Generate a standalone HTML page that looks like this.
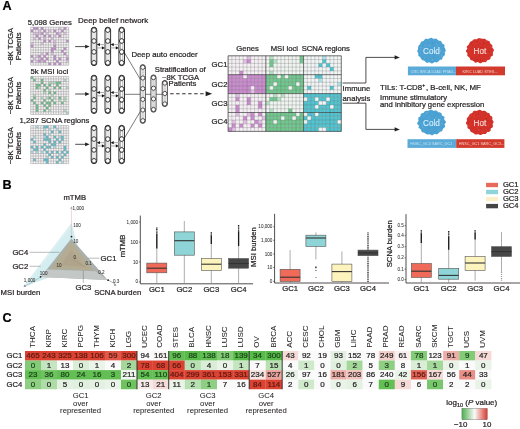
<!DOCTYPE html>
<html><head><meta charset="utf-8"><style>
html,body{margin:0;padding:0;background:#fff;}
svg{display:block;font-family:"Liberation Sans", Arial, Helvetica, sans-serif;}
</style></head><body>
<svg width="520" height="429" viewBox="0 0 520 429">
<rect width="520" height="429" fill="#fff"/>
<text x="2.40" y="9.90" font-size="12.6" text-anchor="start" fill="#000" font-weight="bold" stroke="#000" stroke-width="0.22" >A</text>
<rect x="30.7" y="27.2" width="38" height="38" fill="#f8f7f7"/>
<rect x="30.70" y="29.73" width="2.53" height="2.53" fill="#bf88ca"/>
<rect x="33.23" y="32.27" width="2.53" height="2.53" fill="#dcc0e2"/>
<rect x="33.23" y="27.20" width="2.53" height="2.53" fill="#bf88ca"/>
<rect x="38.30" y="29.73" width="2.53" height="2.53" fill="#dcc0e2"/>
<rect x="35.77" y="27.20" width="2.53" height="2.53" fill="#bf88ca"/>
<rect x="40.83" y="32.27" width="2.53" height="2.53" fill="#bf88ca"/>
<rect x="35.77" y="32.27" width="2.53" height="2.53" fill="#dcc0e2"/>
<rect x="40.83" y="27.20" width="2.53" height="2.53" fill="#bf88ca"/>
<rect x="45.90" y="32.27" width="2.53" height="2.53" fill="#dcc0e2"/>
<rect x="43.37" y="29.73" width="2.53" height="2.53" fill="#bf88ca"/>
<rect x="48.43" y="34.80" width="2.53" height="2.53" fill="#bf88ca"/>
<rect x="43.37" y="34.80" width="2.53" height="2.53" fill="#bf88ca"/>
<rect x="48.43" y="29.73" width="2.53" height="2.53" fill="#dcc0e2"/>
<rect x="53.50" y="29.73" width="2.53" height="2.53" fill="#bf88ca"/>
<rect x="56.03" y="32.27" width="2.53" height="2.53" fill="#bf88ca"/>
<rect x="58.57" y="34.80" width="2.53" height="2.53" fill="#bf88ca"/>
<rect x="61.10" y="29.73" width="2.53" height="2.53" fill="#bf88ca"/>
<rect x="58.57" y="27.20" width="2.53" height="2.53" fill="#dcc0e2"/>
<rect x="63.63" y="32.27" width="2.53" height="2.53" fill="#dcc0e2"/>
<rect x="58.57" y="32.27" width="2.53" height="2.53" fill="#dcc0e2"/>
<rect x="63.63" y="27.20" width="2.53" height="2.53" fill="#bf88ca"/>
<rect x="35.77" y="34.80" width="2.53" height="2.53" fill="#bf88ca"/>
<rect x="38.30" y="37.33" width="2.53" height="2.53" fill="#bf88ca"/>
<rect x="33.23" y="37.33" width="2.53" height="2.53" fill="#dcc0e2"/>
<rect x="38.30" y="32.27" width="2.53" height="2.53" fill="#dcc0e2"/>
<rect x="43.37" y="37.33" width="2.53" height="2.53" fill="#dcc0e2"/>
<rect x="43.37" y="39.87" width="2.53" height="2.53" fill="#bf88ca"/>
<rect x="50.97" y="37.33" width="2.53" height="2.53" fill="#dcc0e2"/>
<rect x="53.50" y="39.87" width="2.53" height="2.53" fill="#dcc0e2"/>
<rect x="48.43" y="39.87" width="2.53" height="2.53" fill="#bf88ca"/>
<rect x="53.50" y="34.80" width="2.53" height="2.53" fill="#dcc0e2"/>
<rect x="66.17" y="39.87" width="2.53" height="2.53" fill="#bf88ca"/>
<rect x="30.70" y="42.40" width="2.53" height="2.53" fill="#dcc0e2"/>
<rect x="30.70" y="44.93" width="2.53" height="2.53" fill="#bf88ca"/>
<rect x="40.83" y="42.40" width="2.53" height="2.53" fill="#dcc0e2"/>
<rect x="50.97" y="47.47" width="2.53" height="2.53" fill="#bf88ca"/>
<rect x="53.50" y="47.47" width="2.53" height="2.53" fill="#bf88ca"/>
<rect x="53.50" y="42.40" width="2.53" height="2.53" fill="#dcc0e2"/>
<rect x="53.50" y="44.93" width="2.53" height="2.53" fill="#bf88ca"/>
<rect x="63.63" y="47.47" width="2.53" height="2.53" fill="#bf88ca"/>
<rect x="35.77" y="55.07" width="2.53" height="2.53" fill="#dcc0e2"/>
<rect x="38.30" y="57.60" width="2.53" height="2.53" fill="#dcc0e2"/>
<rect x="40.83" y="60.13" width="2.53" height="2.53" fill="#dcc0e2"/>
<rect x="43.37" y="55.07" width="2.53" height="2.53" fill="#bf88ca"/>
<rect x="40.83" y="52.53" width="2.53" height="2.53" fill="#dcc0e2"/>
<rect x="45.90" y="57.60" width="2.53" height="2.53" fill="#bf88ca"/>
<rect x="40.83" y="57.60" width="2.53" height="2.53" fill="#bf88ca"/>
<rect x="45.90" y="52.53" width="2.53" height="2.53" fill="#bf88ca"/>
<rect x="50.97" y="50.00" width="2.53" height="2.53" fill="#bf88ca"/>
<rect x="50.97" y="52.53" width="2.53" height="2.53" fill="#dcc0e2"/>
<rect x="53.50" y="55.07" width="2.53" height="2.53" fill="#bf88ca"/>
<rect x="53.50" y="57.60" width="2.53" height="2.53" fill="#bf88ca"/>
<rect x="61.10" y="50.00" width="2.53" height="2.53" fill="#bf88ca"/>
<rect x="63.63" y="52.53" width="2.53" height="2.53" fill="#bf88ca"/>
<rect x="66.17" y="55.07" width="2.53" height="2.53" fill="#dcc0e2"/>
<rect x="33.23" y="57.60" width="2.53" height="2.53" fill="#dcc0e2"/>
<rect x="30.70" y="55.07" width="2.53" height="2.53" fill="#bf88ca"/>
<rect x="35.77" y="60.13" width="2.53" height="2.53" fill="#dcc0e2"/>
<rect x="30.70" y="60.13" width="2.53" height="2.53" fill="#bf88ca"/>
<rect x="38.30" y="55.07" width="2.53" height="2.53" fill="#bf88ca"/>
<rect x="43.37" y="60.13" width="2.53" height="2.53" fill="#bf88ca"/>
<rect x="38.30" y="60.13" width="2.53" height="2.53" fill="#bf88ca"/>
<rect x="48.43" y="62.67" width="2.53" height="2.53" fill="#bf88ca"/>
<rect x="56.03" y="60.13" width="2.53" height="2.53" fill="#bf88ca"/>
<rect x="58.57" y="62.67" width="2.53" height="2.53" fill="#bf88ca"/>
<rect x="53.50" y="62.67" width="2.53" height="2.53" fill="#bf88ca"/>
<rect x="58.57" y="57.60" width="2.53" height="2.53" fill="#bf88ca"/>
<rect x="66.17" y="57.60" width="2.53" height="2.53" fill="#bf88ca"/>
<rect x="66.17" y="60.13" width="2.53" height="2.53" fill="#dcc0e2"/>
<path d="M30.70 27.2V65.2 M30.7 27.20H68.7 M33.23 27.2V65.2 M30.7 29.73H68.7 M35.77 27.2V65.2 M30.7 32.27H68.7 M38.30 27.2V65.2 M30.7 34.80H68.7 M40.83 27.2V65.2 M30.7 37.33H68.7 M43.37 27.2V65.2 M30.7 39.87H68.7 M45.90 27.2V65.2 M30.7 42.40H68.7 M48.43 27.2V65.2 M30.7 44.93H68.7 M50.97 27.2V65.2 M30.7 47.47H68.7 M53.50 27.2V65.2 M30.7 50.00H68.7 M56.03 27.2V65.2 M30.7 52.53H68.7 M58.57 27.2V65.2 M30.7 55.07H68.7 M61.10 27.2V65.2 M30.7 57.60H68.7 M63.63 27.2V65.2 M30.7 60.13H68.7 M66.17 27.2V65.2 M30.7 62.67H68.7 M68.70 27.2V65.2 M30.7 65.20H68.7" stroke="#a09ca0" stroke-width="0.55" fill="none"/>
<rect x="30.7" y="76.4" width="38" height="38" fill="#f8f7f7"/>
<rect x="30.70" y="76.40" width="2.53" height="2.53" fill="#64be82"/>
<rect x="33.23" y="78.93" width="2.53" height="2.53" fill="#64be82"/>
<rect x="40.83" y="78.93" width="2.53" height="2.53" fill="#64be82"/>
<rect x="40.83" y="81.47" width="2.53" height="2.53" fill="#64be82"/>
<rect x="48.43" y="81.47" width="2.53" height="2.53" fill="#b0dec0"/>
<rect x="50.97" y="81.47" width="2.53" height="2.53" fill="#b0dec0"/>
<rect x="56.03" y="81.47" width="2.53" height="2.53" fill="#64be82"/>
<rect x="58.57" y="81.47" width="2.53" height="2.53" fill="#64be82"/>
<rect x="63.63" y="78.93" width="2.53" height="2.53" fill="#b0dec0"/>
<rect x="35.77" y="84.00" width="2.53" height="2.53" fill="#64be82"/>
<rect x="35.77" y="86.53" width="2.53" height="2.53" fill="#64be82"/>
<rect x="38.30" y="84.00" width="2.53" height="2.53" fill="#64be82"/>
<rect x="38.30" y="86.53" width="2.53" height="2.53" fill="#b0dec0"/>
<rect x="45.90" y="86.53" width="2.53" height="2.53" fill="#64be82"/>
<rect x="43.37" y="84.00" width="2.53" height="2.53" fill="#64be82"/>
<rect x="48.43" y="89.07" width="2.53" height="2.53" fill="#b0dec0"/>
<rect x="43.37" y="89.07" width="2.53" height="2.53" fill="#64be82"/>
<rect x="48.43" y="84.00" width="2.53" height="2.53" fill="#64be82"/>
<rect x="56.03" y="84.00" width="2.53" height="2.53" fill="#64be82"/>
<rect x="53.50" y="81.47" width="2.53" height="2.53" fill="#b0dec0"/>
<rect x="58.57" y="86.53" width="2.53" height="2.53" fill="#64be82"/>
<rect x="53.50" y="86.53" width="2.53" height="2.53" fill="#64be82"/>
<rect x="66.17" y="86.53" width="2.53" height="2.53" fill="#b0dec0"/>
<rect x="33.23" y="94.13" width="2.53" height="2.53" fill="#b0dec0"/>
<rect x="33.23" y="96.67" width="2.53" height="2.53" fill="#64be82"/>
<rect x="43.37" y="91.60" width="2.53" height="2.53" fill="#b0dec0"/>
<rect x="50.97" y="94.13" width="2.53" height="2.53" fill="#b0dec0"/>
<rect x="48.43" y="91.60" width="2.53" height="2.53" fill="#64be82"/>
<rect x="53.50" y="96.67" width="2.53" height="2.53" fill="#b0dec0"/>
<rect x="48.43" y="96.67" width="2.53" height="2.53" fill="#64be82"/>
<rect x="53.50" y="91.60" width="2.53" height="2.53" fill="#64be82"/>
<rect x="58.57" y="96.67" width="2.53" height="2.53" fill="#64be82"/>
<rect x="58.57" y="99.20" width="2.53" height="2.53" fill="#b0dec0"/>
<rect x="63.63" y="96.67" width="2.53" height="2.53" fill="#b0dec0"/>
<rect x="63.63" y="99.20" width="2.53" height="2.53" fill="#b0dec0"/>
<rect x="30.70" y="99.20" width="2.53" height="2.53" fill="#64be82"/>
<rect x="33.23" y="101.73" width="2.53" height="2.53" fill="#64be82"/>
<rect x="35.77" y="104.27" width="2.53" height="2.53" fill="#64be82"/>
<rect x="43.37" y="99.20" width="2.53" height="2.53" fill="#64be82"/>
<rect x="40.83" y="96.67" width="2.53" height="2.53" fill="#b0dec0"/>
<rect x="45.90" y="101.73" width="2.53" height="2.53" fill="#64be82"/>
<rect x="40.83" y="101.73" width="2.53" height="2.53" fill="#64be82"/>
<rect x="45.90" y="96.67" width="2.53" height="2.53" fill="#b0dec0"/>
<rect x="50.97" y="99.20" width="2.53" height="2.53" fill="#64be82"/>
<rect x="53.50" y="101.73" width="2.53" height="2.53" fill="#64be82"/>
<rect x="48.43" y="101.73" width="2.53" height="2.53" fill="#64be82"/>
<rect x="61.10" y="101.73" width="2.53" height="2.53" fill="#64be82"/>
<rect x="35.77" y="106.80" width="2.53" height="2.53" fill="#64be82"/>
<rect x="35.77" y="109.33" width="2.53" height="2.53" fill="#64be82"/>
<rect x="45.90" y="106.80" width="2.53" height="2.53" fill="#64be82"/>
<rect x="43.37" y="104.27" width="2.53" height="2.53" fill="#64be82"/>
<rect x="48.43" y="109.33" width="2.53" height="2.53" fill="#b0dec0"/>
<rect x="43.37" y="109.33" width="2.53" height="2.53" fill="#64be82"/>
<rect x="48.43" y="104.27" width="2.53" height="2.53" fill="#64be82"/>
<rect x="66.17" y="111.87" width="2.53" height="2.53" fill="#b0dec0"/>
<rect x="63.63" y="109.33" width="2.53" height="2.53" fill="#b0dec0"/>
<path d="M30.70 76.4V114.4 M30.7 76.40H68.7 M33.23 76.4V114.4 M30.7 78.93H68.7 M35.77 76.4V114.4 M30.7 81.47H68.7 M38.30 76.4V114.4 M30.7 84.00H68.7 M40.83 76.4V114.4 M30.7 86.53H68.7 M43.37 76.4V114.4 M30.7 89.07H68.7 M45.90 76.4V114.4 M30.7 91.60H68.7 M48.43 76.4V114.4 M30.7 94.13H68.7 M50.97 76.4V114.4 M30.7 96.67H68.7 M53.50 76.4V114.4 M30.7 99.20H68.7 M56.03 76.4V114.4 M30.7 101.73H68.7 M58.57 76.4V114.4 M30.7 104.27H68.7 M61.10 76.4V114.4 M30.7 106.80H68.7 M63.63 76.4V114.4 M30.7 109.33H68.7 M66.17 76.4V114.4 M30.7 111.87H68.7 M68.70 76.4V114.4 M30.7 114.40H68.7" stroke="#a09ca0" stroke-width="0.55" fill="none"/>
<rect x="30.7" y="125.6" width="38" height="38" fill="#f8f7f7"/>
<rect x="35.77" y="125.60" width="2.53" height="2.53" fill="#aadfe4"/>
<rect x="43.37" y="125.60" width="2.53" height="2.53" fill="#54bfcb"/>
<rect x="43.37" y="128.13" width="2.53" height="2.53" fill="#aadfe4"/>
<rect x="45.90" y="125.60" width="2.53" height="2.53" fill="#54bfcb"/>
<rect x="48.43" y="128.13" width="2.53" height="2.53" fill="#aadfe4"/>
<rect x="50.97" y="130.67" width="2.53" height="2.53" fill="#54bfcb"/>
<rect x="53.50" y="125.60" width="2.53" height="2.53" fill="#54bfcb"/>
<rect x="56.03" y="128.13" width="2.53" height="2.53" fill="#aadfe4"/>
<rect x="58.57" y="130.67" width="2.53" height="2.53" fill="#54bfcb"/>
<rect x="30.70" y="138.27" width="2.53" height="2.53" fill="#54bfcb"/>
<rect x="33.23" y="140.80" width="2.53" height="2.53" fill="#54bfcb"/>
<rect x="33.23" y="135.73" width="2.53" height="2.53" fill="#aadfe4"/>
<rect x="43.37" y="135.73" width="2.53" height="2.53" fill="#aadfe4"/>
<rect x="45.90" y="138.27" width="2.53" height="2.53" fill="#54bfcb"/>
<rect x="48.43" y="140.80" width="2.53" height="2.53" fill="#54bfcb"/>
<rect x="45.90" y="135.73" width="2.53" height="2.53" fill="#54bfcb"/>
<rect x="43.37" y="133.20" width="2.53" height="2.53" fill="#54bfcb"/>
<rect x="48.43" y="138.27" width="2.53" height="2.53" fill="#54bfcb"/>
<rect x="43.37" y="138.27" width="2.53" height="2.53" fill="#54bfcb"/>
<rect x="48.43" y="133.20" width="2.53" height="2.53" fill="#aadfe4"/>
<rect x="56.03" y="138.27" width="2.53" height="2.53" fill="#54bfcb"/>
<rect x="53.50" y="135.73" width="2.53" height="2.53" fill="#54bfcb"/>
<rect x="58.57" y="140.80" width="2.53" height="2.53" fill="#54bfcb"/>
<rect x="53.50" y="140.80" width="2.53" height="2.53" fill="#54bfcb"/>
<rect x="58.57" y="135.73" width="2.53" height="2.53" fill="#aadfe4"/>
<rect x="61.10" y="135.73" width="2.53" height="2.53" fill="#54bfcb"/>
<rect x="61.10" y="138.27" width="2.53" height="2.53" fill="#54bfcb"/>
<rect x="35.77" y="145.87" width="2.53" height="2.53" fill="#54bfcb"/>
<rect x="35.77" y="148.40" width="2.53" height="2.53" fill="#54bfcb"/>
<rect x="43.37" y="143.33" width="2.53" height="2.53" fill="#54bfcb"/>
<rect x="50.97" y="143.33" width="2.53" height="2.53" fill="#54bfcb"/>
<rect x="53.50" y="145.87" width="2.53" height="2.53" fill="#aadfe4"/>
<rect x="48.43" y="145.87" width="2.53" height="2.53" fill="#54bfcb"/>
<rect x="53.50" y="143.33" width="2.53" height="2.53" fill="#54bfcb"/>
<rect x="63.63" y="145.87" width="2.53" height="2.53" fill="#54bfcb"/>
<rect x="33.23" y="148.40" width="2.53" height="2.53" fill="#54bfcb"/>
<rect x="30.70" y="145.87" width="2.53" height="2.53" fill="#54bfcb"/>
<rect x="35.77" y="150.93" width="2.53" height="2.53" fill="#aadfe4"/>
<rect x="30.70" y="150.93" width="2.53" height="2.53" fill="#aadfe4"/>
<rect x="43.37" y="148.40" width="2.53" height="2.53" fill="#54bfcb"/>
<rect x="40.83" y="145.87" width="2.53" height="2.53" fill="#54bfcb"/>
<rect x="45.90" y="150.93" width="2.53" height="2.53" fill="#54bfcb"/>
<rect x="40.83" y="150.93" width="2.53" height="2.53" fill="#aadfe4"/>
<rect x="45.90" y="145.87" width="2.53" height="2.53" fill="#54bfcb"/>
<rect x="48.43" y="153.47" width="2.53" height="2.53" fill="#54bfcb"/>
<rect x="50.97" y="156.00" width="2.53" height="2.53" fill="#54bfcb"/>
<rect x="45.90" y="156.00" width="2.53" height="2.53" fill="#aadfe4"/>
<rect x="50.97" y="150.93" width="2.53" height="2.53" fill="#54bfcb"/>
<rect x="58.57" y="153.47" width="2.53" height="2.53" fill="#aadfe4"/>
<rect x="56.03" y="150.93" width="2.53" height="2.53" fill="#54bfcb"/>
<rect x="61.10" y="156.00" width="2.53" height="2.53" fill="#54bfcb"/>
<rect x="56.03" y="156.00" width="2.53" height="2.53" fill="#54bfcb"/>
<rect x="61.10" y="150.93" width="2.53" height="2.53" fill="#54bfcb"/>
<rect x="66.17" y="150.93" width="2.53" height="2.53" fill="#54bfcb"/>
<rect x="63.63" y="148.40" width="2.53" height="2.53" fill="#54bfcb"/>
<rect x="63.63" y="153.47" width="2.53" height="2.53" fill="#54bfcb"/>
<rect x="33.23" y="158.53" width="2.53" height="2.53" fill="#54bfcb"/>
<rect x="43.37" y="158.53" width="2.53" height="2.53" fill="#54bfcb"/>
<rect x="45.90" y="161.07" width="2.53" height="2.53" fill="#54bfcb"/>
<rect x="45.90" y="158.53" width="2.53" height="2.53" fill="#54bfcb"/>
<rect x="58.57" y="158.53" width="2.53" height="2.53" fill="#54bfcb"/>
<rect x="61.10" y="161.07" width="2.53" height="2.53" fill="#aadfe4"/>
<rect x="56.03" y="161.07" width="2.53" height="2.53" fill="#54bfcb"/>
<path d="M30.70 125.6V163.6 M30.7 125.60H68.7 M33.23 125.6V163.6 M30.7 128.13H68.7 M35.77 125.6V163.6 M30.7 130.67H68.7 M38.30 125.6V163.6 M30.7 133.20H68.7 M40.83 125.6V163.6 M30.7 135.73H68.7 M43.37 125.6V163.6 M30.7 138.27H68.7 M45.90 125.6V163.6 M30.7 140.80H68.7 M48.43 125.6V163.6 M30.7 143.33H68.7 M50.97 125.6V163.6 M30.7 145.87H68.7 M53.50 125.6V163.6 M30.7 148.40H68.7 M56.03 125.6V163.6 M30.7 150.93H68.7 M58.57 125.6V163.6 M30.7 153.47H68.7 M61.10 125.6V163.6 M30.7 156.00H68.7 M63.63 125.6V163.6 M30.7 158.53H68.7 M66.17 125.6V163.6 M30.7 161.07H68.7 M68.70 125.6V163.6 M30.7 163.60H68.7" stroke="#a09ca0" stroke-width="0.55" fill="none"/>
<text x="27.80" y="24.60" font-size="7.7" text-anchor="start" fill="#231f20" font-weight="normal" stroke="#231f20" stroke-width="0.22" >5,098 Genes</text>
<text x="30.60" y="73.90" font-size="7.7" text-anchor="start" fill="#231f20" font-weight="normal" stroke="#231f20" stroke-width="0.22" >5k MSI loci</text>
<text x="19.60" y="122.80" font-size="7.7" text-anchor="start" fill="#231f20" font-weight="normal" stroke="#231f20" stroke-width="0.22" >1,287 SCNA regions</text>
<text transform="translate(13.40,46.40) rotate(-90)" x="0" y="0" font-size="7.7" text-anchor="middle" fill="#231f20" stroke="#231f20" stroke-width="0.22">~8K TCGA</text>
<text transform="translate(20.80,46.40) rotate(-90)" x="0" y="0" font-size="7.7" text-anchor="middle" fill="#231f20" stroke="#231f20" stroke-width="0.22">Patients</text>
<text transform="translate(13.40,95.50) rotate(-90)" x="0" y="0" font-size="7.7" text-anchor="middle" fill="#231f20" stroke="#231f20" stroke-width="0.22">~8K TCGA</text>
<text transform="translate(20.80,95.50) rotate(-90)" x="0" y="0" font-size="7.7" text-anchor="middle" fill="#231f20" stroke="#231f20" stroke-width="0.22">Patients</text>
<text transform="translate(13.40,145.70) rotate(-90)" x="0" y="0" font-size="7.7" text-anchor="middle" fill="#231f20" stroke="#231f20" stroke-width="0.22">~8K TCGA</text>
<text transform="translate(20.80,145.70) rotate(-90)" x="0" y="0" font-size="7.7" text-anchor="middle" fill="#231f20" stroke="#231f20" stroke-width="0.22">Patients</text>
<line x1="75.2" y1="46.6" x2="85.6" y2="46.6" stroke="#231f20" stroke-width="0.8"/>
<path d="M89.6 46.6L85.1 44.7L85.1 48.5Z" fill="#231f20"/>
<line x1="75.2" y1="94.0" x2="85.6" y2="94.0" stroke="#231f20" stroke-width="0.8"/>
<path d="M89.6 94.0L85.1 92.1L85.1 95.9Z" fill="#231f20"/>
<line x1="75.2" y1="144.3" x2="85.6" y2="144.3" stroke="#231f20" stroke-width="0.8"/>
<path d="M89.6 144.3L85.1 142.4L85.1 146.20000000000002Z" fill="#231f20"/>
<rect x="91.20" y="27.20" width="5.6" height="38.50" rx="2.8" fill="#fff" stroke="#1a1a1a" stroke-width="0.9"/>
<rect x="92.70" y="32.90" width="2.6" height="5.30" fill="#efefef" stroke="#b0b0b0" stroke-width="0.35"/>
<path d="M92.70 34.67h2.6M92.70 36.43h2.6" stroke="#d0d0d0" stroke-width="0.3"/>
<rect x="92.70" y="43.80" width="2.6" height="5.30" fill="#efefef" stroke="#b0b0b0" stroke-width="0.35"/>
<path d="M92.70 45.57h2.6M92.70 47.33h2.6" stroke="#d0d0d0" stroke-width="0.3"/>
<rect x="92.70" y="54.70" width="2.6" height="5.30" fill="#efefef" stroke="#b0b0b0" stroke-width="0.35"/>
<path d="M92.70 56.47h2.6M92.70 58.23h2.6" stroke="#d0d0d0" stroke-width="0.3"/>
<circle cx="94.00" cy="30.10" r="2.3" fill="#fff" stroke="#231f20" stroke-width="0.9"/>
<circle cx="94.00" cy="41.00" r="2.3" fill="#fff" stroke="#231f20" stroke-width="0.9"/>
<circle cx="94.00" cy="51.90" r="2.3" fill="#fff" stroke="#231f20" stroke-width="0.9"/>
<circle cx="94.00" cy="62.80" r="2.3" fill="#fff" stroke="#231f20" stroke-width="0.9"/>
<rect x="105.00" y="27.20" width="5.6" height="38.50" rx="2.8" fill="#fff" stroke="#1a1a1a" stroke-width="0.9"/>
<rect x="106.50" y="32.90" width="2.6" height="5.30" fill="#efefef" stroke="#b0b0b0" stroke-width="0.35"/>
<path d="M106.50 34.67h2.6M106.50 36.43h2.6" stroke="#d0d0d0" stroke-width="0.3"/>
<rect x="106.50" y="43.80" width="2.6" height="5.30" fill="#efefef" stroke="#b0b0b0" stroke-width="0.35"/>
<path d="M106.50 45.57h2.6M106.50 47.33h2.6" stroke="#d0d0d0" stroke-width="0.3"/>
<rect x="106.50" y="54.70" width="2.6" height="5.30" fill="#efefef" stroke="#b0b0b0" stroke-width="0.35"/>
<path d="M106.50 56.47h2.6M106.50 58.23h2.6" stroke="#d0d0d0" stroke-width="0.3"/>
<circle cx="107.80" cy="30.10" r="2.3" fill="#fff" stroke="#231f20" stroke-width="0.9"/>
<circle cx="107.80" cy="41.00" r="2.3" fill="#fff" stroke="#231f20" stroke-width="0.9"/>
<circle cx="107.80" cy="51.90" r="2.3" fill="#fff" stroke="#231f20" stroke-width="0.9"/>
<circle cx="107.80" cy="62.80" r="2.3" fill="#fff" stroke="#231f20" stroke-width="0.9"/>
<rect x="118.90" y="27.20" width="5.6" height="38.50" rx="2.8" fill="#fff" stroke="#1a1a1a" stroke-width="0.9"/>
<rect x="120.50" y="32.90" width="2.4" height="5.30" fill="#fff" stroke="#666" stroke-width="0.5"/>
<rect x="120.50" y="43.80" width="2.4" height="5.30" fill="#fff" stroke="#666" stroke-width="0.5"/>
<rect x="120.50" y="54.70" width="2.4" height="5.30" fill="#fff" stroke="#666" stroke-width="0.5"/>
<circle cx="121.70" cy="30.10" r="2.3" fill="#fff" stroke="#231f20" stroke-width="0.9"/>
<circle cx="121.70" cy="41.00" r="2.3" fill="#fff" stroke="#231f20" stroke-width="0.9"/>
<circle cx="121.70" cy="51.90" r="2.3" fill="#fff" stroke="#231f20" stroke-width="0.9"/>
<circle cx="121.70" cy="62.80" r="2.3" fill="#fff" stroke="#231f20" stroke-width="0.9"/>
<line x1="98.9" y1="44.60" x2="104.89999999999999" y2="44.60" stroke="#b0b0b0" stroke-width="1.1"/>
<path d="M96.90 44.60l3.0 -1.6v3.2z" fill="#111"/>
<line x1="96.9" y1="47.90" x2="102.89999999999999" y2="47.90" stroke="#b0b0b0" stroke-width="1.1"/>
<path d="M104.90 47.90l-3.0 -1.6v3.2z" fill="#111"/>
<line x1="112.7" y1="44.60" x2="118.8" y2="44.60" stroke="#b0b0b0" stroke-width="1.1"/>
<path d="M110.70 44.60l3.0 -1.6v3.2z" fill="#111"/>
<line x1="110.7" y1="47.90" x2="116.8" y2="47.90" stroke="#b0b0b0" stroke-width="1.1"/>
<path d="M118.80 47.90l-3.0 -1.6v3.2z" fill="#111"/>
<rect x="91.20" y="75.20" width="5.6" height="38.30" rx="2.8" fill="#fff" stroke="#1a1a1a" stroke-width="0.9"/>
<rect x="92.70" y="80.90" width="2.6" height="5.23" fill="#efefef" stroke="#b0b0b0" stroke-width="0.35"/>
<path d="M92.70 82.64h2.6M92.70 84.39h2.6" stroke="#d0d0d0" stroke-width="0.3"/>
<rect x="92.70" y="91.73" width="2.6" height="5.23" fill="#efefef" stroke="#b0b0b0" stroke-width="0.35"/>
<path d="M92.70 93.48h2.6M92.70 95.22h2.6" stroke="#d0d0d0" stroke-width="0.3"/>
<rect x="92.70" y="102.57" width="2.6" height="5.23" fill="#efefef" stroke="#b0b0b0" stroke-width="0.35"/>
<path d="M92.70 104.31h2.6M92.70 106.06h2.6" stroke="#d0d0d0" stroke-width="0.3"/>
<circle cx="94.00" cy="78.10" r="2.3" fill="#fff" stroke="#231f20" stroke-width="0.9"/>
<circle cx="94.00" cy="88.93" r="2.3" fill="#fff" stroke="#231f20" stroke-width="0.9"/>
<circle cx="94.00" cy="99.77" r="2.3" fill="#fff" stroke="#231f20" stroke-width="0.9"/>
<circle cx="94.00" cy="110.60" r="2.3" fill="#fff" stroke="#231f20" stroke-width="0.9"/>
<rect x="105.00" y="75.20" width="5.6" height="38.30" rx="2.8" fill="#fff" stroke="#1a1a1a" stroke-width="0.9"/>
<rect x="106.50" y="80.90" width="2.6" height="5.23" fill="#efefef" stroke="#b0b0b0" stroke-width="0.35"/>
<path d="M106.50 82.64h2.6M106.50 84.39h2.6" stroke="#d0d0d0" stroke-width="0.3"/>
<rect x="106.50" y="91.73" width="2.6" height="5.23" fill="#efefef" stroke="#b0b0b0" stroke-width="0.35"/>
<path d="M106.50 93.48h2.6M106.50 95.22h2.6" stroke="#d0d0d0" stroke-width="0.3"/>
<rect x="106.50" y="102.57" width="2.6" height="5.23" fill="#efefef" stroke="#b0b0b0" stroke-width="0.35"/>
<path d="M106.50 104.31h2.6M106.50 106.06h2.6" stroke="#d0d0d0" stroke-width="0.3"/>
<circle cx="107.80" cy="78.10" r="2.3" fill="#fff" stroke="#231f20" stroke-width="0.9"/>
<circle cx="107.80" cy="88.93" r="2.3" fill="#fff" stroke="#231f20" stroke-width="0.9"/>
<circle cx="107.80" cy="99.77" r="2.3" fill="#fff" stroke="#231f20" stroke-width="0.9"/>
<circle cx="107.80" cy="110.60" r="2.3" fill="#fff" stroke="#231f20" stroke-width="0.9"/>
<rect x="118.90" y="75.20" width="5.6" height="38.30" rx="2.8" fill="#fff" stroke="#1a1a1a" stroke-width="0.9"/>
<rect x="120.50" y="80.90" width="2.4" height="5.23" fill="#fff" stroke="#666" stroke-width="0.5"/>
<rect x="120.50" y="91.73" width="2.4" height="5.23" fill="#fff" stroke="#666" stroke-width="0.5"/>
<rect x="120.50" y="102.57" width="2.4" height="5.23" fill="#fff" stroke="#666" stroke-width="0.5"/>
<circle cx="121.70" cy="78.10" r="2.3" fill="#fff" stroke="#231f20" stroke-width="0.9"/>
<circle cx="121.70" cy="88.93" r="2.3" fill="#fff" stroke="#231f20" stroke-width="0.9"/>
<circle cx="121.70" cy="99.77" r="2.3" fill="#fff" stroke="#231f20" stroke-width="0.9"/>
<circle cx="121.70" cy="110.60" r="2.3" fill="#fff" stroke="#231f20" stroke-width="0.9"/>
<line x1="98.9" y1="92.50" x2="104.89999999999999" y2="92.50" stroke="#b0b0b0" stroke-width="1.1"/>
<path d="M96.90 92.50l3.0 -1.6v3.2z" fill="#111"/>
<line x1="96.9" y1="95.80" x2="102.89999999999999" y2="95.80" stroke="#b0b0b0" stroke-width="1.1"/>
<path d="M104.90 95.80l-3.0 -1.6v3.2z" fill="#111"/>
<line x1="112.7" y1="92.50" x2="118.8" y2="92.50" stroke="#b0b0b0" stroke-width="1.1"/>
<path d="M110.70 92.50l3.0 -1.6v3.2z" fill="#111"/>
<line x1="110.7" y1="95.80" x2="116.8" y2="95.80" stroke="#b0b0b0" stroke-width="1.1"/>
<path d="M118.80 95.80l-3.0 -1.6v3.2z" fill="#111"/>
<rect x="91.20" y="125.30" width="5.6" height="38.40" rx="2.8" fill="#fff" stroke="#1a1a1a" stroke-width="0.9"/>
<rect x="92.70" y="131.00" width="2.6" height="5.27" fill="#efefef" stroke="#b0b0b0" stroke-width="0.35"/>
<path d="M92.70 132.76h2.6M92.70 134.51h2.6" stroke="#d0d0d0" stroke-width="0.3"/>
<rect x="92.70" y="141.87" width="2.6" height="5.27" fill="#efefef" stroke="#b0b0b0" stroke-width="0.35"/>
<path d="M92.70 143.62h2.6M92.70 145.38h2.6" stroke="#d0d0d0" stroke-width="0.3"/>
<rect x="92.70" y="152.73" width="2.6" height="5.27" fill="#efefef" stroke="#b0b0b0" stroke-width="0.35"/>
<path d="M92.70 154.49h2.6M92.70 156.24h2.6" stroke="#d0d0d0" stroke-width="0.3"/>
<circle cx="94.00" cy="128.20" r="2.3" fill="#fff" stroke="#231f20" stroke-width="0.9"/>
<circle cx="94.00" cy="139.07" r="2.3" fill="#fff" stroke="#231f20" stroke-width="0.9"/>
<circle cx="94.00" cy="149.93" r="2.3" fill="#fff" stroke="#231f20" stroke-width="0.9"/>
<circle cx="94.00" cy="160.80" r="2.3" fill="#fff" stroke="#231f20" stroke-width="0.9"/>
<rect x="105.00" y="125.30" width="5.6" height="38.40" rx="2.8" fill="#fff" stroke="#1a1a1a" stroke-width="0.9"/>
<rect x="106.50" y="131.00" width="2.6" height="5.27" fill="#efefef" stroke="#b0b0b0" stroke-width="0.35"/>
<path d="M106.50 132.76h2.6M106.50 134.51h2.6" stroke="#d0d0d0" stroke-width="0.3"/>
<rect x="106.50" y="141.87" width="2.6" height="5.27" fill="#efefef" stroke="#b0b0b0" stroke-width="0.35"/>
<path d="M106.50 143.62h2.6M106.50 145.38h2.6" stroke="#d0d0d0" stroke-width="0.3"/>
<rect x="106.50" y="152.73" width="2.6" height="5.27" fill="#efefef" stroke="#b0b0b0" stroke-width="0.35"/>
<path d="M106.50 154.49h2.6M106.50 156.24h2.6" stroke="#d0d0d0" stroke-width="0.3"/>
<circle cx="107.80" cy="128.20" r="2.3" fill="#fff" stroke="#231f20" stroke-width="0.9"/>
<circle cx="107.80" cy="139.07" r="2.3" fill="#fff" stroke="#231f20" stroke-width="0.9"/>
<circle cx="107.80" cy="149.93" r="2.3" fill="#fff" stroke="#231f20" stroke-width="0.9"/>
<circle cx="107.80" cy="160.80" r="2.3" fill="#fff" stroke="#231f20" stroke-width="0.9"/>
<rect x="118.90" y="125.30" width="5.6" height="38.40" rx="2.8" fill="#fff" stroke="#1a1a1a" stroke-width="0.9"/>
<rect x="120.50" y="131.00" width="2.4" height="5.27" fill="#fff" stroke="#666" stroke-width="0.5"/>
<rect x="120.50" y="141.87" width="2.4" height="5.27" fill="#fff" stroke="#666" stroke-width="0.5"/>
<rect x="120.50" y="152.73" width="2.4" height="5.27" fill="#fff" stroke="#666" stroke-width="0.5"/>
<circle cx="121.70" cy="128.20" r="2.3" fill="#fff" stroke="#231f20" stroke-width="0.9"/>
<circle cx="121.70" cy="139.07" r="2.3" fill="#fff" stroke="#231f20" stroke-width="0.9"/>
<circle cx="121.70" cy="149.93" r="2.3" fill="#fff" stroke="#231f20" stroke-width="0.9"/>
<circle cx="121.70" cy="160.80" r="2.3" fill="#fff" stroke="#231f20" stroke-width="0.9"/>
<line x1="98.9" y1="142.65" x2="104.89999999999999" y2="142.65" stroke="#b0b0b0" stroke-width="1.1"/>
<path d="M96.90 142.65l3.0 -1.6v3.2z" fill="#111"/>
<line x1="96.9" y1="145.95" x2="102.89999999999999" y2="145.95" stroke="#b0b0b0" stroke-width="1.1"/>
<path d="M104.90 145.95l-3.0 -1.6v3.2z" fill="#111"/>
<line x1="112.7" y1="142.65" x2="118.8" y2="142.65" stroke="#b0b0b0" stroke-width="1.1"/>
<path d="M110.70 142.65l3.0 -1.6v3.2z" fill="#111"/>
<line x1="110.7" y1="145.95" x2="116.8" y2="145.95" stroke="#b0b0b0" stroke-width="1.1"/>
<path d="M118.80 145.95l-3.0 -1.6v3.2z" fill="#111"/>
<text x="78.00" y="23.10" font-size="7.95" text-anchor="start" fill="#231f20" font-weight="normal" stroke="#231f20" stroke-width="0.22" >Deep belief network</text>
<line x1="124.3" y1="52.5" x2="140.6" y2="79.8" stroke="#231f20" stroke-width="0.6"/>
<line x1="124.3" y1="138.3" x2="140.6" y2="111.0" stroke="#231f20" stroke-width="0.6"/>
<line x1="124.4" y1="94.3" x2="165" y2="94.3" stroke="#231f20" stroke-width="0.6"/>
<rect x="140.20" y="64.60" width="5.2" height="58.80" rx="2.6" fill="#fff" stroke="#231f20" stroke-width="0.75"/>
<rect x="141.40" y="69.80" width="2.8" height="5.68" fill="#d0d0d0"/>
<path d="M141.40 71.69h2.8M141.40 73.59h2.8" stroke="#f0f0f0" stroke-width="0.5"/>
<rect x="141.40" y="80.48" width="2.8" height="5.68" fill="#d0d0d0"/>
<path d="M141.40 82.37h2.8M141.40 84.27h2.8" stroke="#f0f0f0" stroke-width="0.5"/>
<rect x="141.40" y="91.16" width="2.8" height="5.68" fill="#d0d0d0"/>
<path d="M141.40 93.05h2.8M141.40 94.95h2.8" stroke="#f0f0f0" stroke-width="0.5"/>
<rect x="141.40" y="101.84" width="2.8" height="5.68" fill="#d0d0d0"/>
<path d="M141.40 103.73h2.8M141.40 105.63h2.8" stroke="#f0f0f0" stroke-width="0.5"/>
<rect x="141.40" y="112.52" width="2.8" height="5.68" fill="#d0d0d0"/>
<path d="M141.40 114.41h2.8M141.40 116.31h2.8" stroke="#f0f0f0" stroke-width="0.5"/>
<circle cx="142.80" cy="67.30" r="2.1" fill="#fff" stroke="#231f20" stroke-width="0.8"/>
<circle cx="142.80" cy="77.98" r="2.1" fill="#fff" stroke="#231f20" stroke-width="0.8"/>
<circle cx="142.80" cy="88.66" r="2.1" fill="#fff" stroke="#231f20" stroke-width="0.8"/>
<circle cx="142.80" cy="99.34" r="2.1" fill="#fff" stroke="#231f20" stroke-width="0.8"/>
<circle cx="142.80" cy="110.02" r="2.1" fill="#fff" stroke="#231f20" stroke-width="0.8"/>
<circle cx="142.80" cy="120.70" r="2.1" fill="#fff" stroke="#231f20" stroke-width="0.8"/>
<rect x="150.90" y="74.90" width="5.2" height="37.30" rx="2.6" fill="#fff" stroke="#231f20" stroke-width="0.75"/>
<rect x="152.10" y="80.10" width="2.8" height="5.63" fill="#d0d0d0"/>
<path d="M152.10 81.98h2.8M152.10 83.86h2.8" stroke="#f0f0f0" stroke-width="0.5"/>
<rect x="152.10" y="90.73" width="2.8" height="5.63" fill="#d0d0d0"/>
<path d="M152.10 92.61h2.8M152.10 94.49h2.8" stroke="#f0f0f0" stroke-width="0.5"/>
<rect x="152.10" y="101.37" width="2.8" height="5.63" fill="#d0d0d0"/>
<path d="M152.10 103.24h2.8M152.10 105.12h2.8" stroke="#f0f0f0" stroke-width="0.5"/>
<circle cx="153.50" cy="77.60" r="2.1" fill="#fff" stroke="#231f20" stroke-width="0.8"/>
<circle cx="153.50" cy="88.23" r="2.1" fill="#fff" stroke="#231f20" stroke-width="0.8"/>
<circle cx="153.50" cy="98.87" r="2.1" fill="#fff" stroke="#231f20" stroke-width="0.8"/>
<circle cx="153.50" cy="109.50" r="2.1" fill="#fff" stroke="#231f20" stroke-width="0.8"/>
<rect x="162.20" y="80.40" width="5.2" height="26.20" rx="2.6" fill="#fff" stroke="#231f20" stroke-width="0.75"/>
<rect x="163.40" y="85.60" width="2.8" height="5.40" fill="#d0d0d0"/>
<path d="M163.40 87.40h2.8M163.40 89.20h2.8" stroke="#f0f0f0" stroke-width="0.5"/>
<rect x="163.40" y="96.00" width="2.8" height="5.40" fill="#d0d0d0"/>
<path d="M163.40 97.80h2.8M163.40 99.60h2.8" stroke="#f0f0f0" stroke-width="0.5"/>
<circle cx="164.80" cy="83.10" r="2.1" fill="#fff" stroke="#231f20" stroke-width="0.8"/>
<circle cx="164.80" cy="93.50" r="2.1" fill="#fff" stroke="#231f20" stroke-width="0.8"/>
<circle cx="164.80" cy="103.90" r="2.1" fill="#fff" stroke="#231f20" stroke-width="0.8"/>
<text x="131.40" y="56.90" font-size="7.8" text-anchor="start" fill="#231f20" font-weight="normal" stroke="#231f20" stroke-width="0.22" >Deep auto encoder</text>
<text x="180.20" y="72.30" font-size="7.7" text-anchor="middle" fill="#231f20" font-weight="normal" stroke="#231f20" stroke-width="0.22" >Stratification of</text>
<text x="180.60" y="79.60" font-size="7.7" text-anchor="middle" fill="#231f20" font-weight="normal" stroke="#231f20" stroke-width="0.22" >~8K TCGA</text>
<text x="182.40" y="86.30" font-size="7.7" text-anchor="middle" fill="#231f20" font-weight="normal" stroke="#231f20" stroke-width="0.22" >Patients</text>
<line x1="170.2" y1="93.75" x2="205.5" y2="93.75" stroke="#231f20" stroke-width="0.95" stroke-dasharray="3.4 2.6"/>
<path d="M212.2 93.75L205.6 91.35L205.6 96.15Z" fill="#231f20"/>
<rect x="228.10" y="55.80" width="3.82" height="3.83" fill="#f5f0f4"/>
<rect x="231.87" y="55.80" width="3.82" height="3.83" fill="#f5f0f4"/>
<rect x="235.65" y="55.80" width="3.82" height="3.83" fill="#f5f0f4"/>
<rect x="239.42" y="55.80" width="3.82" height="3.83" fill="#f5f0f4"/>
<rect x="243.19" y="55.80" width="3.82" height="3.83" fill="#f5f0f4"/>
<rect x="246.97" y="55.80" width="3.82" height="3.83" fill="#e2bfe4"/>
<rect x="250.74" y="55.80" width="3.82" height="3.83" fill="#f5f0f4"/>
<rect x="254.51" y="55.80" width="3.82" height="3.83" fill="#f5f0f4"/>
<rect x="258.29" y="55.80" width="3.82" height="3.83" fill="#f5f0f4"/>
<rect x="262.06" y="55.80" width="3.82" height="3.83" fill="#f5f0f4"/>
<rect x="228.10" y="59.58" width="3.82" height="3.83" fill="#f5f0f4"/>
<rect x="231.87" y="59.58" width="3.82" height="3.83" fill="#f5f0f4"/>
<rect x="235.65" y="59.58" width="3.82" height="3.83" fill="#f5f0f4"/>
<rect x="239.42" y="59.58" width="3.82" height="3.83" fill="#f5f0f4"/>
<rect x="243.19" y="59.58" width="3.82" height="3.83" fill="#e2bfe4"/>
<rect x="246.97" y="59.58" width="3.82" height="3.83" fill="#cb8ccf"/>
<rect x="250.74" y="59.58" width="3.82" height="3.83" fill="#f5f0f4"/>
<rect x="254.51" y="59.58" width="3.82" height="3.83" fill="#f5f0f4"/>
<rect x="258.29" y="59.58" width="3.82" height="3.83" fill="#f5f0f4"/>
<rect x="262.06" y="59.58" width="3.82" height="3.83" fill="#f5f0f4"/>
<rect x="228.10" y="63.36" width="3.82" height="3.83" fill="#f5f0f4"/>
<rect x="231.87" y="63.36" width="3.82" height="3.83" fill="#f5f0f4"/>
<rect x="235.65" y="63.36" width="3.82" height="3.83" fill="#f5f0f4"/>
<rect x="239.42" y="63.36" width="3.82" height="3.83" fill="#f5f0f4"/>
<rect x="243.19" y="63.36" width="3.82" height="3.83" fill="#f5f0f4"/>
<rect x="246.97" y="63.36" width="3.82" height="3.83" fill="#f5f0f4"/>
<rect x="250.74" y="63.36" width="3.82" height="3.83" fill="#f5f0f4"/>
<rect x="254.51" y="63.36" width="3.82" height="3.83" fill="#f5f0f4"/>
<rect x="258.29" y="63.36" width="3.82" height="3.83" fill="#f5f0f4"/>
<rect x="262.06" y="63.36" width="3.82" height="3.83" fill="#f5f0f4"/>
<rect x="228.10" y="67.14" width="3.82" height="3.83" fill="#f5f0f4"/>
<rect x="231.87" y="67.14" width="3.82" height="3.83" fill="#f5f0f4"/>
<rect x="235.65" y="67.14" width="3.82" height="3.83" fill="#f5f0f4"/>
<rect x="239.42" y="67.14" width="3.82" height="3.83" fill="#f5f0f4"/>
<rect x="243.19" y="67.14" width="3.82" height="3.83" fill="#f5f0f4"/>
<rect x="246.97" y="67.14" width="3.82" height="3.83" fill="#f5f0f4"/>
<rect x="250.74" y="67.14" width="3.82" height="3.83" fill="#f5f0f4"/>
<rect x="254.51" y="67.14" width="3.82" height="3.83" fill="#f5f0f4"/>
<rect x="258.29" y="67.14" width="3.82" height="3.83" fill="#f5f0f4"/>
<rect x="262.06" y="67.14" width="3.82" height="3.83" fill="#f5f0f4"/>
<rect x="228.10" y="70.92" width="3.82" height="3.83" fill="#f5f0f4"/>
<rect x="231.87" y="70.92" width="3.82" height="3.83" fill="#f5f0f4"/>
<rect x="235.65" y="70.92" width="3.82" height="3.83" fill="#f5f0f4"/>
<rect x="239.42" y="70.92" width="3.82" height="3.83" fill="#cb8ccf"/>
<rect x="243.19" y="70.92" width="3.82" height="3.83" fill="#f5f0f4"/>
<rect x="246.97" y="70.92" width="3.82" height="3.83" fill="#f5f0f4"/>
<rect x="250.74" y="70.92" width="3.82" height="3.83" fill="#f5f0f4"/>
<rect x="254.51" y="70.92" width="3.82" height="3.83" fill="#f5f0f4"/>
<rect x="258.29" y="70.92" width="3.82" height="3.83" fill="#f5f0f4"/>
<rect x="262.06" y="70.92" width="3.82" height="3.83" fill="#f5f0f4"/>
<rect x="228.10" y="74.70" width="3.82" height="3.83" fill="#cb8ccf"/>
<rect x="231.87" y="74.70" width="3.82" height="3.83" fill="#cb8ccf"/>
<rect x="235.65" y="74.70" width="3.82" height="3.83" fill="#cb8ccf"/>
<rect x="239.42" y="74.70" width="3.82" height="3.83" fill="#cb8ccf"/>
<rect x="243.19" y="74.70" width="3.82" height="3.83" fill="#f5f0f4"/>
<rect x="246.97" y="74.70" width="3.82" height="3.83" fill="#cb8ccf"/>
<rect x="250.74" y="74.70" width="3.82" height="3.83" fill="#cb8ccf"/>
<rect x="254.51" y="74.70" width="3.82" height="3.83" fill="#cb8ccf"/>
<rect x="258.29" y="74.70" width="3.82" height="3.83" fill="#cb8ccf"/>
<rect x="262.06" y="74.70" width="3.82" height="3.83" fill="#cb8ccf"/>
<rect x="228.10" y="78.48" width="3.82" height="3.83" fill="#cb8ccf"/>
<rect x="231.87" y="78.48" width="3.82" height="3.83" fill="#cb8ccf"/>
<rect x="235.65" y="78.48" width="3.82" height="3.83" fill="#cb8ccf"/>
<rect x="239.42" y="78.48" width="3.82" height="3.83" fill="#cb8ccf"/>
<rect x="243.19" y="78.48" width="3.82" height="3.83" fill="#cb8ccf"/>
<rect x="246.97" y="78.48" width="3.82" height="3.83" fill="#cb8ccf"/>
<rect x="250.74" y="78.48" width="3.82" height="3.83" fill="#cb8ccf"/>
<rect x="254.51" y="78.48" width="3.82" height="3.83" fill="#cb8ccf"/>
<rect x="258.29" y="78.48" width="3.82" height="3.83" fill="#cb8ccf"/>
<rect x="262.06" y="78.48" width="3.82" height="3.83" fill="#cb8ccf"/>
<rect x="228.10" y="82.26" width="3.82" height="3.83" fill="#cb8ccf"/>
<rect x="231.87" y="82.26" width="3.82" height="3.83" fill="#cb8ccf"/>
<rect x="235.65" y="82.26" width="3.82" height="3.83" fill="#cb8ccf"/>
<rect x="239.42" y="82.26" width="3.82" height="3.83" fill="#cb8ccf"/>
<rect x="243.19" y="82.26" width="3.82" height="3.83" fill="#cb8ccf"/>
<rect x="246.97" y="82.26" width="3.82" height="3.83" fill="#cb8ccf"/>
<rect x="250.74" y="82.26" width="3.82" height="3.83" fill="#cb8ccf"/>
<rect x="254.51" y="82.26" width="3.82" height="3.83" fill="#cb8ccf"/>
<rect x="258.29" y="82.26" width="3.82" height="3.83" fill="#cb8ccf"/>
<rect x="262.06" y="82.26" width="3.82" height="3.83" fill="#cb8ccf"/>
<rect x="228.10" y="86.04" width="3.82" height="3.83" fill="#cb8ccf"/>
<rect x="231.87" y="86.04" width="3.82" height="3.83" fill="#cb8ccf"/>
<rect x="235.65" y="86.04" width="3.82" height="3.83" fill="#cb8ccf"/>
<rect x="239.42" y="86.04" width="3.82" height="3.83" fill="#cb8ccf"/>
<rect x="243.19" y="86.04" width="3.82" height="3.83" fill="#cb8ccf"/>
<rect x="246.97" y="86.04" width="3.82" height="3.83" fill="#cb8ccf"/>
<rect x="250.74" y="86.04" width="3.82" height="3.83" fill="#f5f0f4"/>
<rect x="254.51" y="86.04" width="3.82" height="3.83" fill="#cb8ccf"/>
<rect x="258.29" y="86.04" width="3.82" height="3.83" fill="#cb8ccf"/>
<rect x="262.06" y="86.04" width="3.82" height="3.83" fill="#cb8ccf"/>
<rect x="228.10" y="89.82" width="3.82" height="3.83" fill="#cb8ccf"/>
<rect x="231.87" y="89.82" width="3.82" height="3.83" fill="#cb8ccf"/>
<rect x="235.65" y="89.82" width="3.82" height="3.83" fill="#cb8ccf"/>
<rect x="239.42" y="89.82" width="3.82" height="3.83" fill="#cb8ccf"/>
<rect x="243.19" y="89.82" width="3.82" height="3.83" fill="#cb8ccf"/>
<rect x="246.97" y="89.82" width="3.82" height="3.83" fill="#cb8ccf"/>
<rect x="250.74" y="89.82" width="3.82" height="3.83" fill="#e2bfe4"/>
<rect x="254.51" y="89.82" width="3.82" height="3.83" fill="#cb8ccf"/>
<rect x="258.29" y="89.82" width="3.82" height="3.83" fill="#cb8ccf"/>
<rect x="262.06" y="89.82" width="3.82" height="3.83" fill="#cb8ccf"/>
<rect x="228.10" y="93.60" width="3.82" height="3.83" fill="#f5f0f4"/>
<rect x="231.87" y="93.60" width="3.82" height="3.83" fill="#f5f0f4"/>
<rect x="235.65" y="93.60" width="3.82" height="3.83" fill="#e2bfe4"/>
<rect x="239.42" y="93.60" width="3.82" height="3.83" fill="#f5f0f4"/>
<rect x="243.19" y="93.60" width="3.82" height="3.83" fill="#f5f0f4"/>
<rect x="246.97" y="93.60" width="3.82" height="3.83" fill="#f5f0f4"/>
<rect x="250.74" y="93.60" width="3.82" height="3.83" fill="#f5f0f4"/>
<rect x="254.51" y="93.60" width="3.82" height="3.83" fill="#f5f0f4"/>
<rect x="258.29" y="93.60" width="3.82" height="3.83" fill="#f5f0f4"/>
<rect x="262.06" y="93.60" width="3.82" height="3.83" fill="#f5f0f4"/>
<rect x="228.10" y="97.38" width="3.82" height="3.83" fill="#f5f0f4"/>
<rect x="231.87" y="97.38" width="3.82" height="3.83" fill="#f5f0f4"/>
<rect x="235.65" y="97.38" width="3.82" height="3.83" fill="#cb8ccf"/>
<rect x="239.42" y="97.38" width="3.82" height="3.83" fill="#f5f0f4"/>
<rect x="243.19" y="97.38" width="3.82" height="3.83" fill="#f5f0f4"/>
<rect x="246.97" y="97.38" width="3.82" height="3.83" fill="#cb8ccf"/>
<rect x="250.74" y="97.38" width="3.82" height="3.83" fill="#f5f0f4"/>
<rect x="254.51" y="97.38" width="3.82" height="3.83" fill="#f5f0f4"/>
<rect x="258.29" y="97.38" width="3.82" height="3.83" fill="#f5f0f4"/>
<rect x="262.06" y="97.38" width="3.82" height="3.83" fill="#f5f0f4"/>
<rect x="228.10" y="101.16" width="3.82" height="3.83" fill="#f5f0f4"/>
<rect x="231.87" y="101.16" width="3.82" height="3.83" fill="#f5f0f4"/>
<rect x="235.65" y="101.16" width="3.82" height="3.83" fill="#f5f0f4"/>
<rect x="239.42" y="101.16" width="3.82" height="3.83" fill="#f5f0f4"/>
<rect x="243.19" y="101.16" width="3.82" height="3.83" fill="#f5f0f4"/>
<rect x="246.97" y="101.16" width="3.82" height="3.83" fill="#cb8ccf"/>
<rect x="250.74" y="101.16" width="3.82" height="3.83" fill="#f5f0f4"/>
<rect x="254.51" y="101.16" width="3.82" height="3.83" fill="#f5f0f4"/>
<rect x="258.29" y="101.16" width="3.82" height="3.83" fill="#cb8ccf"/>
<rect x="262.06" y="101.16" width="3.82" height="3.83" fill="#f5f0f4"/>
<rect x="228.10" y="104.94" width="3.82" height="3.83" fill="#f5f0f4"/>
<rect x="231.87" y="104.94" width="3.82" height="3.83" fill="#f5f0f4"/>
<rect x="235.65" y="104.94" width="3.82" height="3.83" fill="#cb8ccf"/>
<rect x="239.42" y="104.94" width="3.82" height="3.83" fill="#f5f0f4"/>
<rect x="243.19" y="104.94" width="3.82" height="3.83" fill="#f5f0f4"/>
<rect x="246.97" y="104.94" width="3.82" height="3.83" fill="#f5f0f4"/>
<rect x="250.74" y="104.94" width="3.82" height="3.83" fill="#f5f0f4"/>
<rect x="254.51" y="104.94" width="3.82" height="3.83" fill="#f5f0f4"/>
<rect x="258.29" y="104.94" width="3.82" height="3.83" fill="#cb8ccf"/>
<rect x="262.06" y="104.94" width="3.82" height="3.83" fill="#f5f0f4"/>
<rect x="228.10" y="108.72" width="3.82" height="3.83" fill="#f5f0f4"/>
<rect x="231.87" y="108.72" width="3.82" height="3.83" fill="#f5f0f4"/>
<rect x="235.65" y="108.72" width="3.82" height="3.83" fill="#cb8ccf"/>
<rect x="239.42" y="108.72" width="3.82" height="3.83" fill="#f5f0f4"/>
<rect x="243.19" y="108.72" width="3.82" height="3.83" fill="#f5f0f4"/>
<rect x="246.97" y="108.72" width="3.82" height="3.83" fill="#f5f0f4"/>
<rect x="250.74" y="108.72" width="3.82" height="3.83" fill="#f5f0f4"/>
<rect x="254.51" y="108.72" width="3.82" height="3.83" fill="#f5f0f4"/>
<rect x="258.29" y="108.72" width="3.82" height="3.83" fill="#f5f0f4"/>
<rect x="262.06" y="108.72" width="3.82" height="3.83" fill="#f5f0f4"/>
<rect x="228.10" y="112.50" width="3.82" height="3.83" fill="#f5f0f4"/>
<rect x="231.87" y="112.50" width="3.82" height="3.83" fill="#f5f0f4"/>
<rect x="235.65" y="112.50" width="3.82" height="3.83" fill="#e2bfe4"/>
<rect x="239.42" y="112.50" width="3.82" height="3.83" fill="#f5f0f4"/>
<rect x="243.19" y="112.50" width="3.82" height="3.83" fill="#f5f0f4"/>
<rect x="246.97" y="112.50" width="3.82" height="3.83" fill="#e2bfe4"/>
<rect x="250.74" y="112.50" width="3.82" height="3.83" fill="#cb8ccf"/>
<rect x="254.51" y="112.50" width="3.82" height="3.83" fill="#f5f0f4"/>
<rect x="258.29" y="112.50" width="3.82" height="3.83" fill="#cb8ccf"/>
<rect x="262.06" y="112.50" width="3.82" height="3.83" fill="#f5f0f4"/>
<rect x="228.10" y="116.28" width="3.82" height="3.83" fill="#f5f0f4"/>
<rect x="231.87" y="116.28" width="3.82" height="3.83" fill="#f5f0f4"/>
<rect x="235.65" y="116.28" width="3.82" height="3.83" fill="#f5f0f4"/>
<rect x="239.42" y="116.28" width="3.82" height="3.83" fill="#f5f0f4"/>
<rect x="243.19" y="116.28" width="3.82" height="3.83" fill="#cb8ccf"/>
<rect x="246.97" y="116.28" width="3.82" height="3.83" fill="#f5f0f4"/>
<rect x="250.74" y="116.28" width="3.82" height="3.83" fill="#cb8ccf"/>
<rect x="254.51" y="116.28" width="3.82" height="3.83" fill="#f5f0f4"/>
<rect x="258.29" y="116.28" width="3.82" height="3.83" fill="#f5f0f4"/>
<rect x="262.06" y="116.28" width="3.82" height="3.83" fill="#e2bfe4"/>
<rect x="228.10" y="120.06" width="3.82" height="3.83" fill="#f5f0f4"/>
<rect x="231.87" y="120.06" width="3.82" height="3.83" fill="#e2bfe4"/>
<rect x="235.65" y="120.06" width="3.82" height="3.83" fill="#f5f0f4"/>
<rect x="239.42" y="120.06" width="3.82" height="3.83" fill="#f5f0f4"/>
<rect x="243.19" y="120.06" width="3.82" height="3.83" fill="#e2bfe4"/>
<rect x="246.97" y="120.06" width="3.82" height="3.83" fill="#f5f0f4"/>
<rect x="250.74" y="120.06" width="3.82" height="3.83" fill="#f5f0f4"/>
<rect x="254.51" y="120.06" width="3.82" height="3.83" fill="#cb8ccf"/>
<rect x="258.29" y="120.06" width="3.82" height="3.83" fill="#e2bfe4"/>
<rect x="262.06" y="120.06" width="3.82" height="3.83" fill="#f5f0f4"/>
<rect x="228.10" y="123.84" width="3.82" height="3.83" fill="#f5f0f4"/>
<rect x="231.87" y="123.84" width="3.82" height="3.83" fill="#cb8ccf"/>
<rect x="235.65" y="123.84" width="3.82" height="3.83" fill="#f5f0f4"/>
<rect x="239.42" y="123.84" width="3.82" height="3.83" fill="#cb8ccf"/>
<rect x="243.19" y="123.84" width="3.82" height="3.83" fill="#f5f0f4"/>
<rect x="246.97" y="123.84" width="3.82" height="3.83" fill="#f5f0f4"/>
<rect x="250.74" y="123.84" width="3.82" height="3.83" fill="#cb8ccf"/>
<rect x="254.51" y="123.84" width="3.82" height="3.83" fill="#f5f0f4"/>
<rect x="258.29" y="123.84" width="3.82" height="3.83" fill="#cb8ccf"/>
<rect x="262.06" y="123.84" width="3.82" height="3.83" fill="#f5f0f4"/>
<rect x="228.10" y="127.62" width="3.82" height="3.83" fill="#cb8ccf"/>
<rect x="231.87" y="127.62" width="3.82" height="3.83" fill="#e2bfe4"/>
<rect x="235.65" y="127.62" width="3.82" height="3.83" fill="#f5f0f4"/>
<rect x="239.42" y="127.62" width="3.82" height="3.83" fill="#f5f0f4"/>
<rect x="243.19" y="127.62" width="3.82" height="3.83" fill="#f5f0f4"/>
<rect x="246.97" y="127.62" width="3.82" height="3.83" fill="#f5f0f4"/>
<rect x="250.74" y="127.62" width="3.82" height="3.83" fill="#f5f0f4"/>
<rect x="254.51" y="127.62" width="3.82" height="3.83" fill="#f5f0f4"/>
<rect x="258.29" y="127.62" width="3.82" height="3.83" fill="#f5f0f4"/>
<rect x="262.06" y="127.62" width="3.82" height="3.83" fill="#f5f0f4"/>
<rect x="265.83" y="55.80" width="3.82" height="3.83" fill="#f0f5f1"/>
<rect x="269.61" y="55.80" width="3.82" height="3.83" fill="#b4e2c4"/>
<rect x="273.38" y="55.80" width="3.82" height="3.83" fill="#f0f5f1"/>
<rect x="277.15" y="55.80" width="3.82" height="3.83" fill="#f0f5f1"/>
<rect x="280.93" y="55.80" width="3.82" height="3.83" fill="#f0f5f1"/>
<rect x="284.70" y="55.80" width="3.82" height="3.83" fill="#f0f5f1"/>
<rect x="288.47" y="55.80" width="3.82" height="3.83" fill="#f0f5f1"/>
<rect x="292.25" y="55.80" width="3.82" height="3.83" fill="#f0f5f1"/>
<rect x="296.02" y="55.80" width="3.82" height="3.83" fill="#f0f5f1"/>
<rect x="299.79" y="55.80" width="3.82" height="3.83" fill="#70c88e"/>
<rect x="265.83" y="59.58" width="3.82" height="3.83" fill="#f0f5f1"/>
<rect x="269.61" y="59.58" width="3.82" height="3.83" fill="#70c88e"/>
<rect x="273.38" y="59.58" width="3.82" height="3.83" fill="#b4e2c4"/>
<rect x="277.15" y="59.58" width="3.82" height="3.83" fill="#f0f5f1"/>
<rect x="280.93" y="59.58" width="3.82" height="3.83" fill="#f0f5f1"/>
<rect x="284.70" y="59.58" width="3.82" height="3.83" fill="#f0f5f1"/>
<rect x="288.47" y="59.58" width="3.82" height="3.83" fill="#f0f5f1"/>
<rect x="292.25" y="59.58" width="3.82" height="3.83" fill="#f0f5f1"/>
<rect x="296.02" y="59.58" width="3.82" height="3.83" fill="#f0f5f1"/>
<rect x="299.79" y="59.58" width="3.82" height="3.83" fill="#70c88e"/>
<rect x="265.83" y="63.36" width="3.82" height="3.83" fill="#f0f5f1"/>
<rect x="269.61" y="63.36" width="3.82" height="3.83" fill="#70c88e"/>
<rect x="273.38" y="63.36" width="3.82" height="3.83" fill="#f0f5f1"/>
<rect x="277.15" y="63.36" width="3.82" height="3.83" fill="#f0f5f1"/>
<rect x="280.93" y="63.36" width="3.82" height="3.83" fill="#f0f5f1"/>
<rect x="284.70" y="63.36" width="3.82" height="3.83" fill="#f0f5f1"/>
<rect x="288.47" y="63.36" width="3.82" height="3.83" fill="#f0f5f1"/>
<rect x="292.25" y="63.36" width="3.82" height="3.83" fill="#f0f5f1"/>
<rect x="296.02" y="63.36" width="3.82" height="3.83" fill="#f0f5f1"/>
<rect x="299.79" y="63.36" width="3.82" height="3.83" fill="#f0f5f1"/>
<rect x="265.83" y="67.14" width="3.82" height="3.83" fill="#f0f5f1"/>
<rect x="269.61" y="67.14" width="3.82" height="3.83" fill="#f0f5f1"/>
<rect x="273.38" y="67.14" width="3.82" height="3.83" fill="#f0f5f1"/>
<rect x="277.15" y="67.14" width="3.82" height="3.83" fill="#f0f5f1"/>
<rect x="280.93" y="67.14" width="3.82" height="3.83" fill="#f0f5f1"/>
<rect x="284.70" y="67.14" width="3.82" height="3.83" fill="#f0f5f1"/>
<rect x="288.47" y="67.14" width="3.82" height="3.83" fill="#f0f5f1"/>
<rect x="292.25" y="67.14" width="3.82" height="3.83" fill="#f0f5f1"/>
<rect x="296.02" y="67.14" width="3.82" height="3.83" fill="#f0f5f1"/>
<rect x="299.79" y="67.14" width="3.82" height="3.83" fill="#f0f5f1"/>
<rect x="265.83" y="70.92" width="3.82" height="3.83" fill="#f0f5f1"/>
<rect x="269.61" y="70.92" width="3.82" height="3.83" fill="#b4e2c4"/>
<rect x="273.38" y="70.92" width="3.82" height="3.83" fill="#f0f5f1"/>
<rect x="277.15" y="70.92" width="3.82" height="3.83" fill="#f0f5f1"/>
<rect x="280.93" y="70.92" width="3.82" height="3.83" fill="#f0f5f1"/>
<rect x="284.70" y="70.92" width="3.82" height="3.83" fill="#f0f5f1"/>
<rect x="288.47" y="70.92" width="3.82" height="3.83" fill="#f0f5f1"/>
<rect x="292.25" y="70.92" width="3.82" height="3.83" fill="#f0f5f1"/>
<rect x="296.02" y="70.92" width="3.82" height="3.83" fill="#f0f5f1"/>
<rect x="299.79" y="70.92" width="3.82" height="3.83" fill="#f0f5f1"/>
<rect x="265.83" y="74.70" width="3.82" height="3.83" fill="#70c88e"/>
<rect x="269.61" y="74.70" width="3.82" height="3.83" fill="#70c88e"/>
<rect x="273.38" y="74.70" width="3.82" height="3.83" fill="#70c88e"/>
<rect x="277.15" y="74.70" width="3.82" height="3.83" fill="#f0f5f1"/>
<rect x="280.93" y="74.70" width="3.82" height="3.83" fill="#70c88e"/>
<rect x="284.70" y="74.70" width="3.82" height="3.83" fill="#f0f5f1"/>
<rect x="288.47" y="74.70" width="3.82" height="3.83" fill="#70c88e"/>
<rect x="292.25" y="74.70" width="3.82" height="3.83" fill="#70c88e"/>
<rect x="296.02" y="74.70" width="3.82" height="3.83" fill="#70c88e"/>
<rect x="299.79" y="74.70" width="3.82" height="3.83" fill="#70c88e"/>
<rect x="265.83" y="78.48" width="3.82" height="3.83" fill="#70c88e"/>
<rect x="269.61" y="78.48" width="3.82" height="3.83" fill="#70c88e"/>
<rect x="273.38" y="78.48" width="3.82" height="3.83" fill="#70c88e"/>
<rect x="277.15" y="78.48" width="3.82" height="3.83" fill="#70c88e"/>
<rect x="280.93" y="78.48" width="3.82" height="3.83" fill="#70c88e"/>
<rect x="284.70" y="78.48" width="3.82" height="3.83" fill="#70c88e"/>
<rect x="288.47" y="78.48" width="3.82" height="3.83" fill="#70c88e"/>
<rect x="292.25" y="78.48" width="3.82" height="3.83" fill="#70c88e"/>
<rect x="296.02" y="78.48" width="3.82" height="3.83" fill="#70c88e"/>
<rect x="299.79" y="78.48" width="3.82" height="3.83" fill="#70c88e"/>
<rect x="265.83" y="82.26" width="3.82" height="3.83" fill="#70c88e"/>
<rect x="269.61" y="82.26" width="3.82" height="3.83" fill="#70c88e"/>
<rect x="273.38" y="82.26" width="3.82" height="3.83" fill="#f0f5f1"/>
<rect x="277.15" y="82.26" width="3.82" height="3.83" fill="#70c88e"/>
<rect x="280.93" y="82.26" width="3.82" height="3.83" fill="#70c88e"/>
<rect x="284.70" y="82.26" width="3.82" height="3.83" fill="#70c88e"/>
<rect x="288.47" y="82.26" width="3.82" height="3.83" fill="#70c88e"/>
<rect x="292.25" y="82.26" width="3.82" height="3.83" fill="#70c88e"/>
<rect x="296.02" y="82.26" width="3.82" height="3.83" fill="#f0f5f1"/>
<rect x="299.79" y="82.26" width="3.82" height="3.83" fill="#70c88e"/>
<rect x="265.83" y="86.04" width="3.82" height="3.83" fill="#70c88e"/>
<rect x="269.61" y="86.04" width="3.82" height="3.83" fill="#f0f5f1"/>
<rect x="273.38" y="86.04" width="3.82" height="3.83" fill="#70c88e"/>
<rect x="277.15" y="86.04" width="3.82" height="3.83" fill="#70c88e"/>
<rect x="280.93" y="86.04" width="3.82" height="3.83" fill="#70c88e"/>
<rect x="284.70" y="86.04" width="3.82" height="3.83" fill="#70c88e"/>
<rect x="288.47" y="86.04" width="3.82" height="3.83" fill="#f0f5f1"/>
<rect x="292.25" y="86.04" width="3.82" height="3.83" fill="#70c88e"/>
<rect x="296.02" y="86.04" width="3.82" height="3.83" fill="#70c88e"/>
<rect x="299.79" y="86.04" width="3.82" height="3.83" fill="#70c88e"/>
<rect x="265.83" y="89.82" width="3.82" height="3.83" fill="#70c88e"/>
<rect x="269.61" y="89.82" width="3.82" height="3.83" fill="#70c88e"/>
<rect x="273.38" y="89.82" width="3.82" height="3.83" fill="#70c88e"/>
<rect x="277.15" y="89.82" width="3.82" height="3.83" fill="#70c88e"/>
<rect x="280.93" y="89.82" width="3.82" height="3.83" fill="#70c88e"/>
<rect x="284.70" y="89.82" width="3.82" height="3.83" fill="#70c88e"/>
<rect x="288.47" y="89.82" width="3.82" height="3.83" fill="#70c88e"/>
<rect x="292.25" y="89.82" width="3.82" height="3.83" fill="#70c88e"/>
<rect x="296.02" y="89.82" width="3.82" height="3.83" fill="#70c88e"/>
<rect x="299.79" y="89.82" width="3.82" height="3.83" fill="#70c88e"/>
<rect x="265.83" y="93.60" width="3.82" height="3.83" fill="#f0f5f1"/>
<rect x="269.61" y="93.60" width="3.82" height="3.83" fill="#f0f5f1"/>
<rect x="273.38" y="93.60" width="3.82" height="3.83" fill="#b4e2c4"/>
<rect x="277.15" y="93.60" width="3.82" height="3.83" fill="#f0f5f1"/>
<rect x="280.93" y="93.60" width="3.82" height="3.83" fill="#b4e2c4"/>
<rect x="284.70" y="93.60" width="3.82" height="3.83" fill="#f0f5f1"/>
<rect x="288.47" y="93.60" width="3.82" height="3.83" fill="#f0f5f1"/>
<rect x="292.25" y="93.60" width="3.82" height="3.83" fill="#f0f5f1"/>
<rect x="296.02" y="93.60" width="3.82" height="3.83" fill="#f0f5f1"/>
<rect x="299.79" y="93.60" width="3.82" height="3.83" fill="#f0f5f1"/>
<rect x="265.83" y="97.38" width="3.82" height="3.83" fill="#f0f5f1"/>
<rect x="269.61" y="97.38" width="3.82" height="3.83" fill="#70c88e"/>
<rect x="273.38" y="97.38" width="3.82" height="3.83" fill="#70c88e"/>
<rect x="277.15" y="97.38" width="3.82" height="3.83" fill="#b4e2c4"/>
<rect x="280.93" y="97.38" width="3.82" height="3.83" fill="#f0f5f1"/>
<rect x="284.70" y="97.38" width="3.82" height="3.83" fill="#f0f5f1"/>
<rect x="288.47" y="97.38" width="3.82" height="3.83" fill="#f0f5f1"/>
<rect x="292.25" y="97.38" width="3.82" height="3.83" fill="#f0f5f1"/>
<rect x="296.02" y="97.38" width="3.82" height="3.83" fill="#f0f5f1"/>
<rect x="299.79" y="97.38" width="3.82" height="3.83" fill="#f0f5f1"/>
<rect x="265.83" y="101.16" width="3.82" height="3.83" fill="#b4e2c4"/>
<rect x="269.61" y="101.16" width="3.82" height="3.83" fill="#f0f5f1"/>
<rect x="273.38" y="101.16" width="3.82" height="3.83" fill="#f0f5f1"/>
<rect x="277.15" y="101.16" width="3.82" height="3.83" fill="#f0f5f1"/>
<rect x="280.93" y="101.16" width="3.82" height="3.83" fill="#f0f5f1"/>
<rect x="284.70" y="101.16" width="3.82" height="3.83" fill="#f0f5f1"/>
<rect x="288.47" y="101.16" width="3.82" height="3.83" fill="#f0f5f1"/>
<rect x="292.25" y="101.16" width="3.82" height="3.83" fill="#f0f5f1"/>
<rect x="296.02" y="101.16" width="3.82" height="3.83" fill="#f0f5f1"/>
<rect x="299.79" y="101.16" width="3.82" height="3.83" fill="#f0f5f1"/>
<rect x="265.83" y="104.94" width="3.82" height="3.83" fill="#f0f5f1"/>
<rect x="269.61" y="104.94" width="3.82" height="3.83" fill="#f0f5f1"/>
<rect x="273.38" y="104.94" width="3.82" height="3.83" fill="#f0f5f1"/>
<rect x="277.15" y="104.94" width="3.82" height="3.83" fill="#f0f5f1"/>
<rect x="280.93" y="104.94" width="3.82" height="3.83" fill="#f0f5f1"/>
<rect x="284.70" y="104.94" width="3.82" height="3.83" fill="#f0f5f1"/>
<rect x="288.47" y="104.94" width="3.82" height="3.83" fill="#f0f5f1"/>
<rect x="292.25" y="104.94" width="3.82" height="3.83" fill="#f0f5f1"/>
<rect x="296.02" y="104.94" width="3.82" height="3.83" fill="#f0f5f1"/>
<rect x="299.79" y="104.94" width="3.82" height="3.83" fill="#f0f5f1"/>
<rect x="265.83" y="108.72" width="3.82" height="3.83" fill="#f0f5f1"/>
<rect x="269.61" y="108.72" width="3.82" height="3.83" fill="#b4e2c4"/>
<rect x="273.38" y="108.72" width="3.82" height="3.83" fill="#f0f5f1"/>
<rect x="277.15" y="108.72" width="3.82" height="3.83" fill="#f0f5f1"/>
<rect x="280.93" y="108.72" width="3.82" height="3.83" fill="#f0f5f1"/>
<rect x="284.70" y="108.72" width="3.82" height="3.83" fill="#f0f5f1"/>
<rect x="288.47" y="108.72" width="3.82" height="3.83" fill="#70c88e"/>
<rect x="292.25" y="108.72" width="3.82" height="3.83" fill="#f0f5f1"/>
<rect x="296.02" y="108.72" width="3.82" height="3.83" fill="#f0f5f1"/>
<rect x="299.79" y="108.72" width="3.82" height="3.83" fill="#f0f5f1"/>
<rect x="265.83" y="112.50" width="3.82" height="3.83" fill="#70c88e"/>
<rect x="269.61" y="112.50" width="3.82" height="3.83" fill="#70c88e"/>
<rect x="273.38" y="112.50" width="3.82" height="3.83" fill="#70c88e"/>
<rect x="277.15" y="112.50" width="3.82" height="3.83" fill="#70c88e"/>
<rect x="280.93" y="112.50" width="3.82" height="3.83" fill="#70c88e"/>
<rect x="284.70" y="112.50" width="3.82" height="3.83" fill="#70c88e"/>
<rect x="288.47" y="112.50" width="3.82" height="3.83" fill="#70c88e"/>
<rect x="292.25" y="112.50" width="3.82" height="3.83" fill="#70c88e"/>
<rect x="296.02" y="112.50" width="3.82" height="3.83" fill="#f0f5f1"/>
<rect x="299.79" y="112.50" width="3.82" height="3.83" fill="#70c88e"/>
<rect x="265.83" y="116.28" width="3.82" height="3.83" fill="#70c88e"/>
<rect x="269.61" y="116.28" width="3.82" height="3.83" fill="#70c88e"/>
<rect x="273.38" y="116.28" width="3.82" height="3.83" fill="#70c88e"/>
<rect x="277.15" y="116.28" width="3.82" height="3.83" fill="#70c88e"/>
<rect x="280.93" y="116.28" width="3.82" height="3.83" fill="#f0f5f1"/>
<rect x="284.70" y="116.28" width="3.82" height="3.83" fill="#70c88e"/>
<rect x="288.47" y="116.28" width="3.82" height="3.83" fill="#70c88e"/>
<rect x="292.25" y="116.28" width="3.82" height="3.83" fill="#f0f5f1"/>
<rect x="296.02" y="116.28" width="3.82" height="3.83" fill="#70c88e"/>
<rect x="299.79" y="116.28" width="3.82" height="3.83" fill="#70c88e"/>
<rect x="265.83" y="120.06" width="3.82" height="3.83" fill="#70c88e"/>
<rect x="269.61" y="120.06" width="3.82" height="3.83" fill="#70c88e"/>
<rect x="273.38" y="120.06" width="3.82" height="3.83" fill="#f0f5f1"/>
<rect x="277.15" y="120.06" width="3.82" height="3.83" fill="#70c88e"/>
<rect x="280.93" y="120.06" width="3.82" height="3.83" fill="#70c88e"/>
<rect x="284.70" y="120.06" width="3.82" height="3.83" fill="#70c88e"/>
<rect x="288.47" y="120.06" width="3.82" height="3.83" fill="#70c88e"/>
<rect x="292.25" y="120.06" width="3.82" height="3.83" fill="#70c88e"/>
<rect x="296.02" y="120.06" width="3.82" height="3.83" fill="#70c88e"/>
<rect x="299.79" y="120.06" width="3.82" height="3.83" fill="#70c88e"/>
<rect x="265.83" y="123.84" width="3.82" height="3.83" fill="#70c88e"/>
<rect x="269.61" y="123.84" width="3.82" height="3.83" fill="#70c88e"/>
<rect x="273.38" y="123.84" width="3.82" height="3.83" fill="#70c88e"/>
<rect x="277.15" y="123.84" width="3.82" height="3.83" fill="#70c88e"/>
<rect x="280.93" y="123.84" width="3.82" height="3.83" fill="#70c88e"/>
<rect x="284.70" y="123.84" width="3.82" height="3.83" fill="#70c88e"/>
<rect x="288.47" y="123.84" width="3.82" height="3.83" fill="#70c88e"/>
<rect x="292.25" y="123.84" width="3.82" height="3.83" fill="#70c88e"/>
<rect x="296.02" y="123.84" width="3.82" height="3.83" fill="#70c88e"/>
<rect x="299.79" y="123.84" width="3.82" height="3.83" fill="#70c88e"/>
<rect x="265.83" y="127.62" width="3.82" height="3.83" fill="#70c88e"/>
<rect x="269.61" y="127.62" width="3.82" height="3.83" fill="#70c88e"/>
<rect x="273.38" y="127.62" width="3.82" height="3.83" fill="#70c88e"/>
<rect x="277.15" y="127.62" width="3.82" height="3.83" fill="#70c88e"/>
<rect x="280.93" y="127.62" width="3.82" height="3.83" fill="#70c88e"/>
<rect x="284.70" y="127.62" width="3.82" height="3.83" fill="#70c88e"/>
<rect x="288.47" y="127.62" width="3.82" height="3.83" fill="#70c88e"/>
<rect x="292.25" y="127.62" width="3.82" height="3.83" fill="#70c88e"/>
<rect x="296.02" y="127.62" width="3.82" height="3.83" fill="#70c88e"/>
<rect x="299.79" y="127.62" width="3.82" height="3.83" fill="#70c88e"/>
<rect x="303.57" y="55.80" width="3.82" height="3.83" fill="#f1f5f5"/>
<rect x="307.34" y="55.80" width="3.82" height="3.83" fill="#f1f5f5"/>
<rect x="311.11" y="55.80" width="3.82" height="3.83" fill="#f1f5f5"/>
<rect x="314.89" y="55.80" width="3.82" height="3.83" fill="#f1f5f5"/>
<rect x="318.66" y="55.80" width="3.82" height="3.83" fill="#f1f5f5"/>
<rect x="322.43" y="55.80" width="3.82" height="3.83" fill="#ace4ea"/>
<rect x="326.21" y="55.80" width="3.82" height="3.83" fill="#f1f5f5"/>
<rect x="329.98" y="55.80" width="3.82" height="3.83" fill="#f1f5f5"/>
<rect x="333.75" y="55.80" width="3.82" height="3.83" fill="#f1f5f5"/>
<rect x="337.53" y="55.80" width="3.82" height="3.83" fill="#f1f5f5"/>
<rect x="303.57" y="59.58" width="3.82" height="3.83" fill="#f1f5f5"/>
<rect x="307.34" y="59.58" width="3.82" height="3.83" fill="#f1f5f5"/>
<rect x="311.11" y="59.58" width="3.82" height="3.83" fill="#f1f5f5"/>
<rect x="314.89" y="59.58" width="3.82" height="3.83" fill="#f1f5f5"/>
<rect x="318.66" y="59.58" width="3.82" height="3.83" fill="#f1f5f5"/>
<rect x="322.43" y="59.58" width="3.82" height="3.83" fill="#50c5d1"/>
<rect x="326.21" y="59.58" width="3.82" height="3.83" fill="#f1f5f5"/>
<rect x="329.98" y="59.58" width="3.82" height="3.83" fill="#f1f5f5"/>
<rect x="333.75" y="59.58" width="3.82" height="3.83" fill="#f1f5f5"/>
<rect x="337.53" y="59.58" width="3.82" height="3.83" fill="#f1f5f5"/>
<rect x="303.57" y="63.36" width="3.82" height="3.83" fill="#f1f5f5"/>
<rect x="307.34" y="63.36" width="3.82" height="3.83" fill="#f1f5f5"/>
<rect x="311.11" y="63.36" width="3.82" height="3.83" fill="#f1f5f5"/>
<rect x="314.89" y="63.36" width="3.82" height="3.83" fill="#f1f5f5"/>
<rect x="318.66" y="63.36" width="3.82" height="3.83" fill="#50c5d1"/>
<rect x="322.43" y="63.36" width="3.82" height="3.83" fill="#f1f5f5"/>
<rect x="326.21" y="63.36" width="3.82" height="3.83" fill="#50c5d1"/>
<rect x="329.98" y="63.36" width="3.82" height="3.83" fill="#f1f5f5"/>
<rect x="333.75" y="63.36" width="3.82" height="3.83" fill="#f1f5f5"/>
<rect x="337.53" y="63.36" width="3.82" height="3.83" fill="#f1f5f5"/>
<rect x="303.57" y="67.14" width="3.82" height="3.83" fill="#f1f5f5"/>
<rect x="307.34" y="67.14" width="3.82" height="3.83" fill="#f1f5f5"/>
<rect x="311.11" y="67.14" width="3.82" height="3.83" fill="#f1f5f5"/>
<rect x="314.89" y="67.14" width="3.82" height="3.83" fill="#f1f5f5"/>
<rect x="318.66" y="67.14" width="3.82" height="3.83" fill="#f1f5f5"/>
<rect x="322.43" y="67.14" width="3.82" height="3.83" fill="#f1f5f5"/>
<rect x="326.21" y="67.14" width="3.82" height="3.83" fill="#f1f5f5"/>
<rect x="329.98" y="67.14" width="3.82" height="3.83" fill="#50c5d1"/>
<rect x="333.75" y="67.14" width="3.82" height="3.83" fill="#f1f5f5"/>
<rect x="337.53" y="67.14" width="3.82" height="3.83" fill="#f1f5f5"/>
<rect x="303.57" y="70.92" width="3.82" height="3.83" fill="#f1f5f5"/>
<rect x="307.34" y="70.92" width="3.82" height="3.83" fill="#f1f5f5"/>
<rect x="311.11" y="70.92" width="3.82" height="3.83" fill="#f1f5f5"/>
<rect x="314.89" y="70.92" width="3.82" height="3.83" fill="#f1f5f5"/>
<rect x="318.66" y="70.92" width="3.82" height="3.83" fill="#f1f5f5"/>
<rect x="322.43" y="70.92" width="3.82" height="3.83" fill="#f1f5f5"/>
<rect x="326.21" y="70.92" width="3.82" height="3.83" fill="#f1f5f5"/>
<rect x="329.98" y="70.92" width="3.82" height="3.83" fill="#f1f5f5"/>
<rect x="333.75" y="70.92" width="3.82" height="3.83" fill="#f1f5f5"/>
<rect x="337.53" y="70.92" width="3.82" height="3.83" fill="#f1f5f5"/>
<rect x="303.57" y="74.70" width="3.82" height="3.83" fill="#f1f5f5"/>
<rect x="307.34" y="74.70" width="3.82" height="3.83" fill="#f1f5f5"/>
<rect x="311.11" y="74.70" width="3.82" height="3.83" fill="#f1f5f5"/>
<rect x="314.89" y="74.70" width="3.82" height="3.83" fill="#50c5d1"/>
<rect x="318.66" y="74.70" width="3.82" height="3.83" fill="#50c5d1"/>
<rect x="322.43" y="74.70" width="3.82" height="3.83" fill="#f1f5f5"/>
<rect x="326.21" y="74.70" width="3.82" height="3.83" fill="#f1f5f5"/>
<rect x="329.98" y="74.70" width="3.82" height="3.83" fill="#f1f5f5"/>
<rect x="333.75" y="74.70" width="3.82" height="3.83" fill="#f1f5f5"/>
<rect x="337.53" y="74.70" width="3.82" height="3.83" fill="#f1f5f5"/>
<rect x="303.57" y="78.48" width="3.82" height="3.83" fill="#f1f5f5"/>
<rect x="307.34" y="78.48" width="3.82" height="3.83" fill="#f1f5f5"/>
<rect x="311.11" y="78.48" width="3.82" height="3.83" fill="#f1f5f5"/>
<rect x="314.89" y="78.48" width="3.82" height="3.83" fill="#f1f5f5"/>
<rect x="318.66" y="78.48" width="3.82" height="3.83" fill="#ace4ea"/>
<rect x="322.43" y="78.48" width="3.82" height="3.83" fill="#f1f5f5"/>
<rect x="326.21" y="78.48" width="3.82" height="3.83" fill="#f1f5f5"/>
<rect x="329.98" y="78.48" width="3.82" height="3.83" fill="#f1f5f5"/>
<rect x="333.75" y="78.48" width="3.82" height="3.83" fill="#f1f5f5"/>
<rect x="337.53" y="78.48" width="3.82" height="3.83" fill="#f1f5f5"/>
<rect x="303.57" y="82.26" width="3.82" height="3.83" fill="#f1f5f5"/>
<rect x="307.34" y="82.26" width="3.82" height="3.83" fill="#f1f5f5"/>
<rect x="311.11" y="82.26" width="3.82" height="3.83" fill="#f1f5f5"/>
<rect x="314.89" y="82.26" width="3.82" height="3.83" fill="#f1f5f5"/>
<rect x="318.66" y="82.26" width="3.82" height="3.83" fill="#f1f5f5"/>
<rect x="322.43" y="82.26" width="3.82" height="3.83" fill="#f1f5f5"/>
<rect x="326.21" y="82.26" width="3.82" height="3.83" fill="#f1f5f5"/>
<rect x="329.98" y="82.26" width="3.82" height="3.83" fill="#f1f5f5"/>
<rect x="333.75" y="82.26" width="3.82" height="3.83" fill="#f1f5f5"/>
<rect x="337.53" y="82.26" width="3.82" height="3.83" fill="#ace4ea"/>
<rect x="303.57" y="86.04" width="3.82" height="3.83" fill="#f1f5f5"/>
<rect x="307.34" y="86.04" width="3.82" height="3.83" fill="#50c5d1"/>
<rect x="311.11" y="86.04" width="3.82" height="3.83" fill="#f1f5f5"/>
<rect x="314.89" y="86.04" width="3.82" height="3.83" fill="#f1f5f5"/>
<rect x="318.66" y="86.04" width="3.82" height="3.83" fill="#f1f5f5"/>
<rect x="322.43" y="86.04" width="3.82" height="3.83" fill="#f1f5f5"/>
<rect x="326.21" y="86.04" width="3.82" height="3.83" fill="#f1f5f5"/>
<rect x="329.98" y="86.04" width="3.82" height="3.83" fill="#50c5d1"/>
<rect x="333.75" y="86.04" width="3.82" height="3.83" fill="#f1f5f5"/>
<rect x="337.53" y="86.04" width="3.82" height="3.83" fill="#f1f5f5"/>
<rect x="303.57" y="89.82" width="3.82" height="3.83" fill="#f1f5f5"/>
<rect x="307.34" y="89.82" width="3.82" height="3.83" fill="#f1f5f5"/>
<rect x="311.11" y="89.82" width="3.82" height="3.83" fill="#f1f5f5"/>
<rect x="314.89" y="89.82" width="3.82" height="3.83" fill="#f1f5f5"/>
<rect x="318.66" y="89.82" width="3.82" height="3.83" fill="#f1f5f5"/>
<rect x="322.43" y="89.82" width="3.82" height="3.83" fill="#f1f5f5"/>
<rect x="326.21" y="89.82" width="3.82" height="3.83" fill="#f1f5f5"/>
<rect x="329.98" y="89.82" width="3.82" height="3.83" fill="#f1f5f5"/>
<rect x="333.75" y="89.82" width="3.82" height="3.83" fill="#f1f5f5"/>
<rect x="337.53" y="89.82" width="3.82" height="3.83" fill="#f1f5f5"/>
<rect x="303.57" y="93.60" width="3.82" height="3.83" fill="#50c5d1"/>
<rect x="307.34" y="93.60" width="3.82" height="3.83" fill="#50c5d1"/>
<rect x="311.11" y="93.60" width="3.82" height="3.83" fill="#50c5d1"/>
<rect x="314.89" y="93.60" width="3.82" height="3.83" fill="#50c5d1"/>
<rect x="318.66" y="93.60" width="3.82" height="3.83" fill="#50c5d1"/>
<rect x="322.43" y="93.60" width="3.82" height="3.83" fill="#50c5d1"/>
<rect x="326.21" y="93.60" width="3.82" height="3.83" fill="#50c5d1"/>
<rect x="329.98" y="93.60" width="3.82" height="3.83" fill="#50c5d1"/>
<rect x="333.75" y="93.60" width="3.82" height="3.83" fill="#50c5d1"/>
<rect x="337.53" y="93.60" width="3.82" height="3.83" fill="#50c5d1"/>
<rect x="303.57" y="97.38" width="3.82" height="3.83" fill="#f1f5f5"/>
<rect x="307.34" y="97.38" width="3.82" height="3.83" fill="#50c5d1"/>
<rect x="311.11" y="97.38" width="3.82" height="3.83" fill="#50c5d1"/>
<rect x="314.89" y="97.38" width="3.82" height="3.83" fill="#f1f5f5"/>
<rect x="318.66" y="97.38" width="3.82" height="3.83" fill="#50c5d1"/>
<rect x="322.43" y="97.38" width="3.82" height="3.83" fill="#50c5d1"/>
<rect x="326.21" y="97.38" width="3.82" height="3.83" fill="#f1f5f5"/>
<rect x="329.98" y="97.38" width="3.82" height="3.83" fill="#50c5d1"/>
<rect x="333.75" y="97.38" width="3.82" height="3.83" fill="#50c5d1"/>
<rect x="337.53" y="97.38" width="3.82" height="3.83" fill="#50c5d1"/>
<rect x="303.57" y="101.16" width="3.82" height="3.83" fill="#50c5d1"/>
<rect x="307.34" y="101.16" width="3.82" height="3.83" fill="#50c5d1"/>
<rect x="311.11" y="101.16" width="3.82" height="3.83" fill="#50c5d1"/>
<rect x="314.89" y="101.16" width="3.82" height="3.83" fill="#50c5d1"/>
<rect x="318.66" y="101.16" width="3.82" height="3.83" fill="#f1f5f5"/>
<rect x="322.43" y="101.16" width="3.82" height="3.83" fill="#f1f5f5"/>
<rect x="326.21" y="101.16" width="3.82" height="3.83" fill="#50c5d1"/>
<rect x="329.98" y="101.16" width="3.82" height="3.83" fill="#50c5d1"/>
<rect x="333.75" y="101.16" width="3.82" height="3.83" fill="#50c5d1"/>
<rect x="337.53" y="101.16" width="3.82" height="3.83" fill="#50c5d1"/>
<rect x="303.57" y="104.94" width="3.82" height="3.83" fill="#50c5d1"/>
<rect x="307.34" y="104.94" width="3.82" height="3.83" fill="#50c5d1"/>
<rect x="311.11" y="104.94" width="3.82" height="3.83" fill="#50c5d1"/>
<rect x="314.89" y="104.94" width="3.82" height="3.83" fill="#f1f5f5"/>
<rect x="318.66" y="104.94" width="3.82" height="3.83" fill="#50c5d1"/>
<rect x="322.43" y="104.94" width="3.82" height="3.83" fill="#50c5d1"/>
<rect x="326.21" y="104.94" width="3.82" height="3.83" fill="#50c5d1"/>
<rect x="329.98" y="104.94" width="3.82" height="3.83" fill="#f1f5f5"/>
<rect x="333.75" y="104.94" width="3.82" height="3.83" fill="#50c5d1"/>
<rect x="337.53" y="104.94" width="3.82" height="3.83" fill="#50c5d1"/>
<rect x="303.57" y="108.72" width="3.82" height="3.83" fill="#50c5d1"/>
<rect x="307.34" y="108.72" width="3.82" height="3.83" fill="#50c5d1"/>
<rect x="311.11" y="108.72" width="3.82" height="3.83" fill="#50c5d1"/>
<rect x="314.89" y="108.72" width="3.82" height="3.83" fill="#50c5d1"/>
<rect x="318.66" y="108.72" width="3.82" height="3.83" fill="#50c5d1"/>
<rect x="322.43" y="108.72" width="3.82" height="3.83" fill="#50c5d1"/>
<rect x="326.21" y="108.72" width="3.82" height="3.83" fill="#50c5d1"/>
<rect x="329.98" y="108.72" width="3.82" height="3.83" fill="#50c5d1"/>
<rect x="333.75" y="108.72" width="3.82" height="3.83" fill="#50c5d1"/>
<rect x="337.53" y="108.72" width="3.82" height="3.83" fill="#50c5d1"/>
<rect x="303.57" y="112.50" width="3.82" height="3.83" fill="#f1f5f5"/>
<rect x="307.34" y="112.50" width="3.82" height="3.83" fill="#50c5d1"/>
<rect x="311.11" y="112.50" width="3.82" height="3.83" fill="#50c5d1"/>
<rect x="314.89" y="112.50" width="3.82" height="3.83" fill="#f1f5f5"/>
<rect x="318.66" y="112.50" width="3.82" height="3.83" fill="#50c5d1"/>
<rect x="322.43" y="112.50" width="3.82" height="3.83" fill="#50c5d1"/>
<rect x="326.21" y="112.50" width="3.82" height="3.83" fill="#50c5d1"/>
<rect x="329.98" y="112.50" width="3.82" height="3.83" fill="#50c5d1"/>
<rect x="333.75" y="112.50" width="3.82" height="3.83" fill="#50c5d1"/>
<rect x="337.53" y="112.50" width="3.82" height="3.83" fill="#50c5d1"/>
<rect x="303.57" y="116.28" width="3.82" height="3.83" fill="#50c5d1"/>
<rect x="307.34" y="116.28" width="3.82" height="3.83" fill="#f1f5f5"/>
<rect x="311.11" y="116.28" width="3.82" height="3.83" fill="#50c5d1"/>
<rect x="314.89" y="116.28" width="3.82" height="3.83" fill="#50c5d1"/>
<rect x="318.66" y="116.28" width="3.82" height="3.83" fill="#50c5d1"/>
<rect x="322.43" y="116.28" width="3.82" height="3.83" fill="#50c5d1"/>
<rect x="326.21" y="116.28" width="3.82" height="3.83" fill="#50c5d1"/>
<rect x="329.98" y="116.28" width="3.82" height="3.83" fill="#50c5d1"/>
<rect x="333.75" y="116.28" width="3.82" height="3.83" fill="#50c5d1"/>
<rect x="337.53" y="116.28" width="3.82" height="3.83" fill="#50c5d1"/>
<rect x="303.57" y="120.06" width="3.82" height="3.83" fill="#f1f5f5"/>
<rect x="307.34" y="120.06" width="3.82" height="3.83" fill="#50c5d1"/>
<rect x="311.11" y="120.06" width="3.82" height="3.83" fill="#50c5d1"/>
<rect x="314.89" y="120.06" width="3.82" height="3.83" fill="#50c5d1"/>
<rect x="318.66" y="120.06" width="3.82" height="3.83" fill="#50c5d1"/>
<rect x="322.43" y="120.06" width="3.82" height="3.83" fill="#50c5d1"/>
<rect x="326.21" y="120.06" width="3.82" height="3.83" fill="#50c5d1"/>
<rect x="329.98" y="120.06" width="3.82" height="3.83" fill="#50c5d1"/>
<rect x="333.75" y="120.06" width="3.82" height="3.83" fill="#50c5d1"/>
<rect x="337.53" y="120.06" width="3.82" height="3.83" fill="#f1f5f5"/>
<rect x="303.57" y="123.84" width="3.82" height="3.83" fill="#50c5d1"/>
<rect x="307.34" y="123.84" width="3.82" height="3.83" fill="#50c5d1"/>
<rect x="311.11" y="123.84" width="3.82" height="3.83" fill="#50c5d1"/>
<rect x="314.89" y="123.84" width="3.82" height="3.83" fill="#50c5d1"/>
<rect x="318.66" y="123.84" width="3.82" height="3.83" fill="#50c5d1"/>
<rect x="322.43" y="123.84" width="3.82" height="3.83" fill="#50c5d1"/>
<rect x="326.21" y="123.84" width="3.82" height="3.83" fill="#50c5d1"/>
<rect x="329.98" y="123.84" width="3.82" height="3.83" fill="#50c5d1"/>
<rect x="333.75" y="123.84" width="3.82" height="3.83" fill="#50c5d1"/>
<rect x="337.53" y="123.84" width="3.82" height="3.83" fill="#50c5d1"/>
<rect x="303.57" y="127.62" width="3.82" height="3.83" fill="#50c5d1"/>
<rect x="307.34" y="127.62" width="3.82" height="3.83" fill="#50c5d1"/>
<rect x="311.11" y="127.62" width="3.82" height="3.83" fill="#50c5d1"/>
<rect x="314.89" y="127.62" width="3.82" height="3.83" fill="#50c5d1"/>
<rect x="318.66" y="127.62" width="3.82" height="3.83" fill="#f1f5f5"/>
<rect x="322.43" y="127.62" width="3.82" height="3.83" fill="#f1f5f5"/>
<rect x="326.21" y="127.62" width="3.82" height="3.83" fill="#50c5d1"/>
<rect x="329.98" y="127.62" width="3.82" height="3.83" fill="#50c5d1"/>
<rect x="333.75" y="127.62" width="3.82" height="3.83" fill="#50c5d1"/>
<rect x="337.53" y="127.62" width="3.82" height="3.83" fill="#50c5d1"/>
<path d="M228.10 55.8V131.39999999999998 M231.87 55.8V131.39999999999998 M235.65 55.8V131.39999999999998 M239.42 55.8V131.39999999999998 M243.19 55.8V131.39999999999998 M246.97 55.8V131.39999999999998 M250.74 55.8V131.39999999999998 M254.51 55.8V131.39999999999998 M258.29 55.8V131.39999999999998 M262.06 55.8V131.39999999999998 M265.83 55.8V131.39999999999998 M269.61 55.8V131.39999999999998 M273.38 55.8V131.39999999999998 M277.15 55.8V131.39999999999998 M280.93 55.8V131.39999999999998 M284.70 55.8V131.39999999999998 M288.47 55.8V131.39999999999998 M292.25 55.8V131.39999999999998 M296.02 55.8V131.39999999999998 M299.79 55.8V131.39999999999998 M303.57 55.8V131.39999999999998 M307.34 55.8V131.39999999999998 M311.11 55.8V131.39999999999998 M314.89 55.8V131.39999999999998 M318.66 55.8V131.39999999999998 M322.43 55.8V131.39999999999998 M326.21 55.8V131.39999999999998 M329.98 55.8V131.39999999999998 M333.75 55.8V131.39999999999998 M337.53 55.8V131.39999999999998 M341.30 55.8V131.39999999999998 M228.1 55.80H341.3 M228.1 59.58H341.3 M228.1 63.36H341.3 M228.1 67.14H341.3 M228.1 70.92H341.3 M228.1 74.70H341.3 M228.1 78.48H341.3 M228.1 82.26H341.3 M228.1 86.04H341.3 M228.1 89.82H341.3 M228.1 93.60H341.3 M228.1 97.38H341.3 M228.1 101.16H341.3 M228.1 104.94H341.3 M228.1 108.72H341.3 M228.1 112.50H341.3 M228.1 116.28H341.3 M228.1 120.06H341.3 M228.1 123.84H341.3 M228.1 127.62H341.3 M228.1 131.40H341.3" stroke="#4a4a4a" stroke-width="0.4" fill="none" opacity="0.6"/>
<path d="M228.10 55.8V131.39999999999998 M265.83 55.8V131.39999999999998 M303.57 55.8V131.39999999999998 M341.30 55.8V131.39999999999998 M228.1 55.80H341.3 M228.1 74.70H341.3 M228.1 93.60H341.3 M228.1 112.50H341.3 M228.1 131.40H341.3" stroke="#3a3a3a" stroke-width="0.7" fill="none" opacity="0.85"/>
<text x="247.50" y="51.30" font-size="7.7" text-anchor="middle" fill="#231f20" font-weight="normal" stroke="#231f20" stroke-width="0.22" >Genes</text>
<text x="284.30" y="51.30" font-size="7.7" text-anchor="middle" fill="#231f20" font-weight="normal" stroke="#231f20" stroke-width="0.22" >MSI loci</text>
<text x="325.80" y="51.30" font-size="7.7" text-anchor="middle" fill="#231f20" font-weight="normal" stroke="#231f20" stroke-width="0.22" >SCNA regions</text>
<text x="211.60" y="67.40" font-size="7.7" text-anchor="start" fill="#231f20" font-weight="normal" stroke="#231f20" stroke-width="0.22" >GC1</text>
<text x="211.60" y="86.80" font-size="7.7" text-anchor="start" fill="#231f20" font-weight="normal" stroke="#231f20" stroke-width="0.22" >GC2</text>
<text x="211.60" y="106.20" font-size="7.7" text-anchor="start" fill="#231f20" font-weight="normal" stroke="#231f20" stroke-width="0.22" >GC3</text>
<text x="211.60" y="124.20" font-size="7.7" text-anchor="start" fill="#231f20" font-weight="normal" stroke="#231f20" stroke-width="0.22" >GC4</text>
<path d="M342.6 83H365.9V57.4H396" fill="none" stroke="#231f20" stroke-width="0.8"/>
<path d="M399.8 57.4L394.6 55.3L394.6 59.5Z" fill="#231f20"/>
<path d="M342.6 103.2H365.9V129.4H396" fill="none" stroke="#231f20" stroke-width="0.8"/>
<path d="M399.8 129.4L394.6 127.3L394.6 131.5Z" fill="#231f20"/>
<text x="342.60" y="90.50" font-size="7.7" text-anchor="start" fill="#231f20" font-weight="normal" stroke="#231f20" stroke-width="0.22" >Immune</text>
<text x="342.60" y="100.50" font-size="7.7" text-anchor="start" fill="#231f20" font-weight="normal" stroke="#231f20" stroke-width="0.22" >analysis</text>
<text x="380.00" y="89.70" font-size="7.85" text-anchor="start" fill="#231f20" font-weight="normal" stroke="#231f20" stroke-width="0.22" >TILs: T-CD8<tspan font-size="5" dy="-2.6">+</tspan><tspan dy="2.6" dx="0.9">, B-cell, NK, MF</tspan></text>
<text x="380.00" y="99.80" font-size="7.7" text-anchor="start" fill="#231f20" font-weight="normal" stroke="#231f20" stroke-width="0.22" >Immune stimulatory</text>
<text x="380.00" y="107.10" font-size="7.7" text-anchor="start" fill="#231f20" font-weight="normal" stroke="#231f20" stroke-width="0.22" >and inhibitory gene expression</text>
<polygon points="445.81,50.60 445.26,51.68 444.64,52.68 445.09,53.87 444.68,54.91 444.16,55.90 443.06,56.60 442.62,57.59 442.40,58.82 441.58,59.66 440.12,59.83 439.24,60.54 438.43,61.39 437.47,62.11 436.33,62.52 434.93,62.10 433.85,62.59 432.73,63.19 431.50,63.54 430.33,62.64 429.23,62.17 427.89,62.72 426.59,62.72 425.53,62.10 424.74,61.11 423.79,60.50 422.54,60.19 421.55,59.54 420.96,58.55 420.45,57.55 419.68,56.73 418.43,56.08 418.25,54.93 418.47,53.74 417.94,52.75 417.35,51.71 417.35,50.60 417.98,49.54 418.13,48.48 418.10,47.37 418.33,46.29 418.87,45.31 419.91,44.59 420.22,43.50 420.75,42.50 421.32,41.45 422.79,41.28 423.75,40.65 424.50,39.70 425.35,38.76 426.69,38.73 428.01,38.90 429.13,38.51 430.26,37.89 431.50,37.69 432.67,38.54 433.83,38.71 435.07,38.64 436.40,38.50 437.25,39.51 438.09,40.34 439.15,40.78 440.59,40.86 441.43,41.67 441.95,42.72 442.49,43.68 443.63,44.31 444.64,45.09 444.39,46.39 444.44,47.48 445.12,48.44 445.42,49.51" fill="#4ca2d3"/>
<circle cx="439.04" cy="56.39" r="0.68" fill="#2f86bd" opacity="0.45"/>
<circle cx="437.64" cy="42.22" r="0.36" fill="#2f86bd" opacity="0.45"/>
<circle cx="433.03" cy="43.34" r="0.62" fill="#2f86bd" opacity="0.45"/>
<circle cx="444.12" cy="49.96" r="0.41" fill="#2f86bd" opacity="0.45"/>
<circle cx="421.78" cy="52.10" r="0.60" fill="#2f86bd" opacity="0.45"/>
<circle cx="435.51" cy="50.85" r="0.57" fill="#8cc8ea" opacity="0.45"/>
<circle cx="441.38" cy="44.97" r="0.41" fill="#2f86bd" opacity="0.45"/>
<circle cx="422.15" cy="51.27" r="0.66" fill="#8cc8ea" opacity="0.45"/>
<circle cx="436.26" cy="54.16" r="0.56" fill="#8cc8ea" opacity="0.45"/>
<circle cx="434.06" cy="58.22" r="0.57" fill="#2f86bd" opacity="0.45"/>
<circle cx="428.41" cy="41.99" r="0.30" fill="#2f86bd" opacity="0.45"/>
<circle cx="430.60" cy="42.96" r="0.51" fill="#2f86bd" opacity="0.45"/>
<circle cx="419.44" cy="53.81" r="0.46" fill="#2f86bd" opacity="0.45"/>
<circle cx="421.25" cy="51.15" r="0.61" fill="#2f86bd" opacity="0.45"/>
<circle cx="434.92" cy="50.87" r="0.36" fill="#8cc8ea" opacity="0.45"/>
<circle cx="436.08" cy="49.42" r="0.50" fill="#2f86bd" opacity="0.45"/>
<circle cx="432.81" cy="42.58" r="0.58" fill="#2f86bd" opacity="0.45"/>
<circle cx="432.54" cy="52.81" r="0.48" fill="#8cc8ea" opacity="0.45"/>
<circle cx="421.18" cy="44.78" r="0.53" fill="#8cc8ea" opacity="0.45"/>
<circle cx="420.45" cy="45.61" r="0.61" fill="#2f86bd" opacity="0.45"/>
<circle cx="441.16" cy="52.46" r="0.32" fill="#2f86bd" opacity="0.45"/>
<circle cx="443.35" cy="48.59" r="0.39" fill="#2f86bd" opacity="0.45"/>
<circle cx="425.64" cy="59.45" r="0.30" fill="#2f86bd" opacity="0.45"/>
<circle cx="439.16" cy="56.79" r="0.63" fill="#8cc8ea" opacity="0.45"/>
<circle cx="424.56" cy="46.55" r="0.32" fill="#8cc8ea" opacity="0.45"/>
<circle cx="420.74" cy="46.64" r="0.30" fill="#8cc8ea" opacity="0.45"/>
<circle cx="430.30" cy="42.16" r="0.31" fill="#8cc8ea" opacity="0.45"/>
<circle cx="434.11" cy="54.48" r="0.69" fill="#2f86bd" opacity="0.45"/>
<circle cx="424.90" cy="57.86" r="0.52" fill="#8cc8ea" opacity="0.45"/>
<circle cx="441.51" cy="56.34" r="0.55" fill="#8cc8ea" opacity="0.45"/>
<circle cx="436.56" cy="53.26" r="0.59" fill="#8cc8ea" opacity="0.45"/>
<circle cx="430.39" cy="52.22" r="0.38" fill="#2f86bd" opacity="0.45"/>
<circle cx="423.75" cy="51.55" r="0.63" fill="#2f86bd" opacity="0.45"/>
<circle cx="428.16" cy="44.12" r="0.37" fill="#2f86bd" opacity="0.45"/>
<circle cx="440.61" cy="51.02" r="0.62" fill="#8cc8ea" opacity="0.45"/>
<circle cx="436.80" cy="44.14" r="0.54" fill="#8cc8ea" opacity="0.45"/>
<circle cx="419.05" cy="49.01" r="0.64" fill="#2f86bd" opacity="0.45"/>
<circle cx="420.59" cy="50.57" r="0.41" fill="#8cc8ea" opacity="0.45"/>
<circle cx="426.93" cy="54.17" r="0.52" fill="#8cc8ea" opacity="0.45"/>
<circle cx="427.03" cy="48.96" r="0.68" fill="#2f86bd" opacity="0.45"/>
<circle cx="442.81" cy="47.06" r="0.32" fill="#8cc8ea" opacity="0.45"/>
<circle cx="431.35" cy="48.99" r="0.41" fill="#2f86bd" opacity="0.45"/>
<circle cx="427.37" cy="48.72" r="0.38" fill="#2f86bd" opacity="0.45"/>
<circle cx="439.11" cy="55.09" r="0.62" fill="#8cc8ea" opacity="0.45"/>
<circle cx="419.38" cy="51.35" r="0.43" fill="#8cc8ea" opacity="0.45"/>
<circle cx="440.58" cy="52.65" r="0.32" fill="#8cc8ea" opacity="0.45"/>
<circle cx="425.59" cy="45.39" r="0.66" fill="#8cc8ea" opacity="0.45"/>
<circle cx="429.17" cy="41.20" r="0.34" fill="#8cc8ea" opacity="0.45"/>
<circle cx="430.46" cy="40.28" r="0.42" fill="#8cc8ea" opacity="0.45"/>
<circle cx="433.72" cy="56.28" r="0.32" fill="#8cc8ea" opacity="0.45"/>
<circle cx="424.76" cy="48.81" r="0.38" fill="#8cc8ea" opacity="0.45"/>
<circle cx="436.99" cy="46.58" r="0.56" fill="#8cc8ea" opacity="0.45"/>
<circle cx="431.33" cy="40.15" r="0.33" fill="#2f86bd" opacity="0.45"/>
<circle cx="420.54" cy="47.79" r="0.66" fill="#8cc8ea" opacity="0.45"/>
<circle cx="427.82" cy="49.97" r="0.62" fill="#8cc8ea" opacity="0.45"/>
<circle cx="421.50" cy="47.37" r="0.53" fill="#8cc8ea" opacity="0.45"/>
<circle cx="433.07" cy="57.08" r="0.68" fill="#2f86bd" opacity="0.45"/>
<circle cx="420.99" cy="49.60" r="0.65" fill="#8cc8ea" opacity="0.45"/>
<circle cx="420.41" cy="52.32" r="0.63" fill="#8cc8ea" opacity="0.45"/>
<circle cx="423.01" cy="53.93" r="0.52" fill="#8cc8ea" opacity="0.45"/>
<circle cx="440.64" cy="50.50" r="0.65" fill="#8cc8ea" opacity="0.45"/>
<circle cx="434.50" cy="53.51" r="0.34" fill="#8cc8ea" opacity="0.45"/>
<circle cx="423.18" cy="44.68" r="0.44" fill="#2f86bd" opacity="0.45"/>
<circle cx="428.28" cy="39.77" r="0.57" fill="#8cc8ea" opacity="0.45"/>
<circle cx="441.63" cy="55.27" r="0.59" fill="#8cc8ea" opacity="0.45"/>
<circle cx="433.81" cy="53.39" r="0.49" fill="#2f86bd" opacity="0.45"/>
<circle cx="443.47" cy="52.10" r="0.39" fill="#8cc8ea" opacity="0.45"/>
<circle cx="432.50" cy="59.56" r="0.69" fill="#8cc8ea" opacity="0.45"/>
<circle cx="434.87" cy="49.63" r="0.65" fill="#2f86bd" opacity="0.45"/>
<circle cx="429.36" cy="45.50" r="0.67" fill="#8cc8ea" opacity="0.45"/>
<text x="431.50" y="54.20" font-size="8.2" text-anchor="middle" fill="#dcf0fa" font-weight="normal" stroke="#dcf0fa" stroke-width="0.1" >Cold</text>
<polygon points="493.89,50.60 493.22,51.67 492.85,52.70 492.80,53.77 493.01,54.98 492.33,55.92 491.00,56.48 490.54,57.44 490.45,58.72 489.57,59.48 488.53,60.04 487.19,60.16 486.62,61.28 485.82,62.26 484.42,62.00 483.28,62.18 482.15,62.29 481.11,63.29 479.90,63.19 478.76,62.60 477.69,62.08 476.40,62.60 475.10,62.70 474.24,61.74 473.34,61.03 472.37,60.47 471.09,60.24 470.19,59.51 469.86,58.33 469.34,57.39 468.43,56.68 467.45,55.93 467.11,54.87 467.59,53.63 467.11,52.67 466.02,51.71 466.08,50.60 466.73,49.54 467.38,48.57 466.87,47.40 466.80,46.22 467.86,45.44 468.67,44.65 469.16,43.70 469.56,42.63 470.26,41.75 471.31,41.20 472.34,40.68 473.15,39.86 474.14,39.27 475.35,39.13 476.59,39.25 477.64,38.84 478.70,37.97 479.90,38.16 481.05,38.52 482.18,38.76 483.39,38.63 484.62,38.70 485.66,39.26 486.43,40.21 487.57,40.54 488.70,40.97 489.78,41.53 489.99,42.83 490.51,43.78 491.48,44.46 492.32,45.28 492.44,46.41 492.27,47.56 493.00,48.48 493.86,49.48" fill="#d3322a"/>
<circle cx="475.56" cy="43.43" r="0.50" fill="#e86050" opacity="0.45"/>
<circle cx="472.08" cy="58.33" r="0.49" fill="#a8201a" opacity="0.45"/>
<circle cx="470.11" cy="52.28" r="0.50" fill="#e86050" opacity="0.45"/>
<circle cx="474.58" cy="60.35" r="0.58" fill="#a8201a" opacity="0.45"/>
<circle cx="480.07" cy="40.30" r="0.37" fill="#e86050" opacity="0.45"/>
<circle cx="484.93" cy="45.58" r="0.30" fill="#e86050" opacity="0.45"/>
<circle cx="474.52" cy="54.81" r="0.32" fill="#a8201a" opacity="0.45"/>
<circle cx="488.13" cy="49.42" r="0.53" fill="#a8201a" opacity="0.45"/>
<circle cx="470.45" cy="46.97" r="0.48" fill="#e86050" opacity="0.45"/>
<circle cx="478.71" cy="45.58" r="0.32" fill="#a8201a" opacity="0.45"/>
<circle cx="468.43" cy="50.36" r="0.47" fill="#e86050" opacity="0.45"/>
<circle cx="487.18" cy="54.16" r="0.45" fill="#a8201a" opacity="0.45"/>
<circle cx="487.13" cy="49.73" r="0.38" fill="#a8201a" opacity="0.45"/>
<circle cx="487.66" cy="53.19" r="0.52" fill="#e86050" opacity="0.45"/>
<circle cx="471.29" cy="43.31" r="0.58" fill="#a8201a" opacity="0.45"/>
<circle cx="486.28" cy="41.08" r="0.37" fill="#e86050" opacity="0.45"/>
<circle cx="475.97" cy="48.54" r="0.56" fill="#a8201a" opacity="0.45"/>
<circle cx="481.66" cy="42.28" r="0.63" fill="#e86050" opacity="0.45"/>
<circle cx="474.98" cy="47.45" r="0.51" fill="#a8201a" opacity="0.45"/>
<circle cx="485.71" cy="53.75" r="0.31" fill="#a8201a" opacity="0.45"/>
<circle cx="468.32" cy="49.05" r="0.54" fill="#e86050" opacity="0.45"/>
<circle cx="477.08" cy="59.30" r="0.58" fill="#a8201a" opacity="0.45"/>
<circle cx="479.42" cy="45.84" r="0.44" fill="#e86050" opacity="0.45"/>
<circle cx="484.29" cy="49.04" r="0.53" fill="#a8201a" opacity="0.45"/>
<circle cx="490.25" cy="54.11" r="0.31" fill="#a8201a" opacity="0.45"/>
<circle cx="485.23" cy="41.57" r="0.52" fill="#e86050" opacity="0.45"/>
<circle cx="475.99" cy="48.84" r="0.45" fill="#e86050" opacity="0.45"/>
<circle cx="479.23" cy="40.65" r="0.52" fill="#e86050" opacity="0.45"/>
<circle cx="486.63" cy="45.38" r="0.70" fill="#a8201a" opacity="0.45"/>
<circle cx="474.95" cy="48.07" r="0.59" fill="#e86050" opacity="0.45"/>
<circle cx="475.02" cy="53.27" r="0.66" fill="#e86050" opacity="0.45"/>
<circle cx="475.73" cy="46.49" r="0.31" fill="#a8201a" opacity="0.45"/>
<circle cx="480.58" cy="59.77" r="0.67" fill="#a8201a" opacity="0.45"/>
<circle cx="490.11" cy="52.25" r="0.56" fill="#e86050" opacity="0.45"/>
<circle cx="474.22" cy="48.28" r="0.38" fill="#e86050" opacity="0.45"/>
<circle cx="475.84" cy="41.94" r="0.39" fill="#a8201a" opacity="0.45"/>
<circle cx="475.09" cy="57.86" r="0.48" fill="#a8201a" opacity="0.45"/>
<circle cx="475.51" cy="45.67" r="0.58" fill="#a8201a" opacity="0.45"/>
<circle cx="485.06" cy="54.55" r="0.53" fill="#a8201a" opacity="0.45"/>
<circle cx="467.66" cy="50.86" r="0.30" fill="#a8201a" opacity="0.45"/>
<circle cx="482.34" cy="47.53" r="0.57" fill="#a8201a" opacity="0.45"/>
<circle cx="476.11" cy="54.80" r="0.32" fill="#a8201a" opacity="0.45"/>
<circle cx="481.18" cy="60.50" r="0.39" fill="#a8201a" opacity="0.45"/>
<circle cx="475.26" cy="48.86" r="0.56" fill="#a8201a" opacity="0.45"/>
<circle cx="472.77" cy="45.29" r="0.42" fill="#a8201a" opacity="0.45"/>
<circle cx="485.96" cy="45.13" r="0.51" fill="#e86050" opacity="0.45"/>
<circle cx="488.78" cy="51.55" r="0.62" fill="#a8201a" opacity="0.45"/>
<circle cx="482.53" cy="50.64" r="0.57" fill="#e86050" opacity="0.45"/>
<circle cx="478.64" cy="42.93" r="0.31" fill="#e86050" opacity="0.45"/>
<circle cx="484.94" cy="48.89" r="0.68" fill="#a8201a" opacity="0.45"/>
<circle cx="474.55" cy="45.19" r="0.57" fill="#e86050" opacity="0.45"/>
<circle cx="480.01" cy="52.54" r="0.69" fill="#a8201a" opacity="0.45"/>
<circle cx="485.73" cy="60.06" r="0.63" fill="#e86050" opacity="0.45"/>
<circle cx="483.88" cy="44.81" r="0.35" fill="#a8201a" opacity="0.45"/>
<circle cx="491.26" cy="46.98" r="0.68" fill="#e86050" opacity="0.45"/>
<circle cx="488.08" cy="46.58" r="0.52" fill="#e86050" opacity="0.45"/>
<circle cx="483.07" cy="51.61" r="0.68" fill="#e86050" opacity="0.45"/>
<circle cx="476.83" cy="60.09" r="0.47" fill="#a8201a" opacity="0.45"/>
<circle cx="479.30" cy="55.74" r="0.58" fill="#a8201a" opacity="0.45"/>
<circle cx="487.75" cy="44.88" r="0.40" fill="#e86050" opacity="0.45"/>
<circle cx="476.07" cy="46.53" r="0.49" fill="#e86050" opacity="0.45"/>
<circle cx="474.13" cy="55.69" r="0.35" fill="#e86050" opacity="0.45"/>
<circle cx="478.05" cy="59.92" r="0.49" fill="#a8201a" opacity="0.45"/>
<circle cx="484.40" cy="60.32" r="0.33" fill="#e86050" opacity="0.45"/>
<circle cx="483.80" cy="42.90" r="0.57" fill="#a8201a" opacity="0.45"/>
<circle cx="480.67" cy="47.40" r="0.45" fill="#a8201a" opacity="0.45"/>
<circle cx="479.18" cy="39.45" r="0.40" fill="#e86050" opacity="0.45"/>
<circle cx="491.37" cy="47.52" r="0.36" fill="#e86050" opacity="0.45"/>
<circle cx="471.41" cy="57.92" r="0.32" fill="#a8201a" opacity="0.45"/>
<circle cx="477.35" cy="41.08" r="0.51" fill="#a8201a" opacity="0.45"/>
<text x="479.90" y="54.20" font-size="8.2" text-anchor="middle" fill="#f8dcd8" font-weight="normal" stroke="#f8dcd8" stroke-width="0.1" >Hot</text>
<polygon points="445.76,122.50 445.12,123.57 444.57,124.57 445.01,125.75 445.14,126.96 444.05,127.76 443.28,128.61 442.66,129.52 442.39,130.71 441.38,131.38 440.06,131.66 439.23,132.42 438.34,133.14 437.59,134.24 436.28,134.30 434.97,134.12 433.83,134.37 432.75,135.37 431.50,135.36 430.33,134.56 429.20,134.22 427.94,134.45 426.69,134.37 425.69,133.69 424.69,133.10 423.62,132.61 422.28,132.37 421.42,131.56 421.27,130.21 420.58,129.37 419.71,128.61 418.64,127.89 418.67,126.70 418.85,125.55 417.98,124.64 417.12,123.63 417.49,122.50 418.02,121.44 418.59,120.45 418.26,119.31 418.18,118.14 418.72,117.15 420.16,116.62 420.58,115.63 420.49,114.20 421.60,113.60 422.71,113.08 423.90,112.75 424.45,111.53 425.52,110.97 426.77,110.83 427.98,110.70 429.15,110.50 430.25,109.65 431.50,109.67 432.70,110.18 433.77,110.91 435.08,110.49 436.32,110.61 437.37,111.19 438.15,112.16 439.39,112.37 440.66,112.69 441.62,113.41 441.80,114.73 442.33,115.69 443.66,116.19 444.58,117.02 444.29,118.32 444.23,119.44 444.90,120.38 445.87,121.37" fill="#4ca2d3"/>
<circle cx="422.67" cy="127.24" r="0.67" fill="#8cc8ea" opacity="0.45"/>
<circle cx="428.75" cy="116.39" r="0.52" fill="#8cc8ea" opacity="0.45"/>
<circle cx="427.68" cy="127.48" r="0.54" fill="#2f86bd" opacity="0.45"/>
<circle cx="425.49" cy="122.79" r="0.56" fill="#2f86bd" opacity="0.45"/>
<circle cx="442.41" cy="124.13" r="0.43" fill="#8cc8ea" opacity="0.45"/>
<circle cx="433.62" cy="115.69" r="0.55" fill="#2f86bd" opacity="0.45"/>
<circle cx="424.12" cy="131.14" r="0.34" fill="#8cc8ea" opacity="0.45"/>
<circle cx="438.99" cy="130.06" r="0.59" fill="#8cc8ea" opacity="0.45"/>
<circle cx="436.61" cy="119.10" r="0.65" fill="#2f86bd" opacity="0.45"/>
<circle cx="435.41" cy="111.80" r="0.30" fill="#8cc8ea" opacity="0.45"/>
<circle cx="423.54" cy="122.88" r="0.69" fill="#2f86bd" opacity="0.45"/>
<circle cx="433.22" cy="124.26" r="0.34" fill="#8cc8ea" opacity="0.45"/>
<circle cx="440.09" cy="130.63" r="0.47" fill="#8cc8ea" opacity="0.45"/>
<circle cx="437.93" cy="120.09" r="0.65" fill="#8cc8ea" opacity="0.45"/>
<circle cx="429.28" cy="128.37" r="0.57" fill="#2f86bd" opacity="0.45"/>
<circle cx="434.76" cy="127.42" r="0.36" fill="#2f86bd" opacity="0.45"/>
<circle cx="422.05" cy="125.07" r="0.68" fill="#8cc8ea" opacity="0.45"/>
<circle cx="436.39" cy="120.94" r="0.65" fill="#2f86bd" opacity="0.45"/>
<circle cx="438.33" cy="118.45" r="0.49" fill="#8cc8ea" opacity="0.45"/>
<circle cx="419.58" cy="125.12" r="0.47" fill="#8cc8ea" opacity="0.45"/>
<circle cx="432.76" cy="121.94" r="0.35" fill="#2f86bd" opacity="0.45"/>
<circle cx="425.23" cy="130.05" r="0.34" fill="#8cc8ea" opacity="0.45"/>
<circle cx="422.42" cy="120.04" r="0.63" fill="#2f86bd" opacity="0.45"/>
<circle cx="434.86" cy="133.08" r="0.43" fill="#2f86bd" opacity="0.45"/>
<circle cx="435.24" cy="121.61" r="0.32" fill="#2f86bd" opacity="0.45"/>
<circle cx="430.07" cy="133.06" r="0.49" fill="#2f86bd" opacity="0.45"/>
<circle cx="426.86" cy="127.65" r="0.37" fill="#8cc8ea" opacity="0.45"/>
<circle cx="427.23" cy="112.37" r="0.67" fill="#8cc8ea" opacity="0.45"/>
<circle cx="435.70" cy="113.01" r="0.38" fill="#2f86bd" opacity="0.45"/>
<circle cx="424.69" cy="123.40" r="0.33" fill="#8cc8ea" opacity="0.45"/>
<circle cx="440.99" cy="118.23" r="0.40" fill="#2f86bd" opacity="0.45"/>
<circle cx="425.37" cy="113.71" r="0.51" fill="#8cc8ea" opacity="0.45"/>
<circle cx="434.73" cy="129.91" r="0.47" fill="#2f86bd" opacity="0.45"/>
<circle cx="437.62" cy="125.64" r="0.46" fill="#2f86bd" opacity="0.45"/>
<circle cx="429.26" cy="125.33" r="0.69" fill="#2f86bd" opacity="0.45"/>
<circle cx="436.25" cy="124.55" r="0.37" fill="#2f86bd" opacity="0.45"/>
<circle cx="424.50" cy="113.95" r="0.42" fill="#2f86bd" opacity="0.45"/>
<circle cx="441.58" cy="124.07" r="0.42" fill="#8cc8ea" opacity="0.45"/>
<circle cx="440.60" cy="119.09" r="0.60" fill="#8cc8ea" opacity="0.45"/>
<circle cx="438.58" cy="126.22" r="0.49" fill="#2f86bd" opacity="0.45"/>
<circle cx="438.52" cy="121.07" r="0.61" fill="#2f86bd" opacity="0.45"/>
<circle cx="421.20" cy="126.03" r="0.35" fill="#2f86bd" opacity="0.45"/>
<circle cx="436.97" cy="125.92" r="0.61" fill="#2f86bd" opacity="0.45"/>
<circle cx="427.16" cy="130.68" r="0.49" fill="#2f86bd" opacity="0.45"/>
<circle cx="430.47" cy="123.73" r="0.39" fill="#8cc8ea" opacity="0.45"/>
<circle cx="439.40" cy="120.01" r="0.64" fill="#8cc8ea" opacity="0.45"/>
<circle cx="428.71" cy="119.11" r="0.45" fill="#8cc8ea" opacity="0.45"/>
<circle cx="430.48" cy="116.52" r="0.49" fill="#8cc8ea" opacity="0.45"/>
<circle cx="429.76" cy="118.30" r="0.49" fill="#8cc8ea" opacity="0.45"/>
<circle cx="431.28" cy="116.30" r="0.67" fill="#2f86bd" opacity="0.45"/>
<circle cx="432.29" cy="114.31" r="0.34" fill="#8cc8ea" opacity="0.45"/>
<circle cx="426.74" cy="115.66" r="0.42" fill="#2f86bd" opacity="0.45"/>
<circle cx="426.23" cy="126.17" r="0.47" fill="#2f86bd" opacity="0.45"/>
<circle cx="424.12" cy="115.78" r="0.65" fill="#8cc8ea" opacity="0.45"/>
<circle cx="424.84" cy="125.36" r="0.43" fill="#2f86bd" opacity="0.45"/>
<circle cx="432.76" cy="123.77" r="0.64" fill="#2f86bd" opacity="0.45"/>
<circle cx="434.70" cy="124.69" r="0.31" fill="#2f86bd" opacity="0.45"/>
<circle cx="424.27" cy="122.60" r="0.39" fill="#8cc8ea" opacity="0.45"/>
<circle cx="440.32" cy="116.61" r="0.40" fill="#8cc8ea" opacity="0.45"/>
<circle cx="437.30" cy="121.39" r="0.50" fill="#8cc8ea" opacity="0.45"/>
<circle cx="428.87" cy="114.89" r="0.34" fill="#2f86bd" opacity="0.45"/>
<circle cx="424.46" cy="129.59" r="0.41" fill="#2f86bd" opacity="0.45"/>
<circle cx="436.32" cy="117.66" r="0.69" fill="#8cc8ea" opacity="0.45"/>
<circle cx="426.53" cy="113.99" r="0.62" fill="#8cc8ea" opacity="0.45"/>
<circle cx="425.96" cy="125.45" r="0.69" fill="#8cc8ea" opacity="0.45"/>
<circle cx="440.80" cy="120.06" r="0.56" fill="#8cc8ea" opacity="0.45"/>
<circle cx="443.15" cy="126.26" r="0.53" fill="#2f86bd" opacity="0.45"/>
<circle cx="442.19" cy="123.72" r="0.61" fill="#8cc8ea" opacity="0.45"/>
<circle cx="440.51" cy="120.88" r="0.31" fill="#2f86bd" opacity="0.45"/>
<circle cx="444.18" cy="122.24" r="0.68" fill="#2f86bd" opacity="0.45"/>
<text x="431.50" y="126.10" font-size="8.2" text-anchor="middle" fill="#dcf0fa" font-weight="normal" stroke="#dcf0fa" stroke-width="0.1" >Cold</text>
<polygon points="493.50,122.50 492.91,123.55 492.56,124.55 492.96,125.71 492.93,126.85 492.23,127.78 490.92,128.34 490.64,129.40 490.62,130.75 489.66,131.46 488.50,131.91 487.19,132.06 486.57,133.11 485.71,133.94 484.49,134.08 483.22,133.88 482.15,134.20 481.08,134.91 479.90,134.97 478.77,134.31 477.65,134.19 476.36,134.61 475.17,134.43 474.14,133.83 473.33,132.95 472.20,132.60 471.10,132.12 470.24,131.37 470.00,130.13 469.49,129.19 468.33,128.63 467.45,127.83 467.36,126.69 467.52,125.54 466.73,124.63 466.04,123.61 465.90,122.50 466.72,121.44 466.96,120.40 466.85,119.29 466.87,118.15 467.81,117.33 468.45,116.43 469.09,115.55 469.50,114.49 470.26,113.65 471.49,113.29 472.49,112.79 473.05,111.62 473.97,110.82 475.26,110.79 476.54,110.98 477.59,110.46 478.72,110.07 479.90,109.73 481.06,110.31 482.13,110.90 483.36,110.64 484.57,110.72 485.63,111.23 486.51,111.99 487.35,112.73 488.61,112.97 489.66,113.54 489.83,114.85 490.39,115.76 491.70,116.24 492.34,117.18 492.47,118.30 492.20,119.47 492.87,120.40 493.53,121.41" fill="#d3322a"/>
<circle cx="479.37" cy="130.44" r="0.56" fill="#e86050" opacity="0.45"/>
<circle cx="483.10" cy="112.06" r="0.50" fill="#e86050" opacity="0.45"/>
<circle cx="477.93" cy="127.11" r="0.56" fill="#e86050" opacity="0.45"/>
<circle cx="490.84" cy="121.12" r="0.69" fill="#a8201a" opacity="0.45"/>
<circle cx="471.85" cy="117.44" r="0.37" fill="#a8201a" opacity="0.45"/>
<circle cx="476.11" cy="128.43" r="0.32" fill="#e86050" opacity="0.45"/>
<circle cx="477.35" cy="132.28" r="0.42" fill="#e86050" opacity="0.45"/>
<circle cx="486.03" cy="117.27" r="0.52" fill="#e86050" opacity="0.45"/>
<circle cx="484.28" cy="122.93" r="0.64" fill="#e86050" opacity="0.45"/>
<circle cx="485.46" cy="114.85" r="0.64" fill="#a8201a" opacity="0.45"/>
<circle cx="486.51" cy="118.39" r="0.63" fill="#a8201a" opacity="0.45"/>
<circle cx="478.75" cy="123.51" r="0.33" fill="#a8201a" opacity="0.45"/>
<circle cx="472.87" cy="119.29" r="0.41" fill="#e86050" opacity="0.45"/>
<circle cx="469.96" cy="116.91" r="0.53" fill="#e86050" opacity="0.45"/>
<circle cx="478.45" cy="130.07" r="0.70" fill="#e86050" opacity="0.45"/>
<circle cx="483.27" cy="111.70" r="0.62" fill="#a8201a" opacity="0.45"/>
<circle cx="481.90" cy="121.33" r="0.54" fill="#a8201a" opacity="0.45"/>
<circle cx="480.87" cy="122.10" r="0.51" fill="#a8201a" opacity="0.45"/>
<circle cx="474.06" cy="127.44" r="0.46" fill="#a8201a" opacity="0.45"/>
<circle cx="490.71" cy="123.35" r="0.34" fill="#e86050" opacity="0.45"/>
<circle cx="483.73" cy="124.35" r="0.51" fill="#a8201a" opacity="0.45"/>
<circle cx="481.34" cy="128.20" r="0.44" fill="#a8201a" opacity="0.45"/>
<circle cx="478.64" cy="114.11" r="0.56" fill="#a8201a" opacity="0.45"/>
<circle cx="479.27" cy="115.47" r="0.37" fill="#e86050" opacity="0.45"/>
<circle cx="470.05" cy="127.31" r="0.34" fill="#a8201a" opacity="0.45"/>
<circle cx="477.21" cy="129.06" r="0.55" fill="#e86050" opacity="0.45"/>
<circle cx="490.42" cy="118.78" r="0.46" fill="#e86050" opacity="0.45"/>
<circle cx="469.56" cy="126.86" r="0.37" fill="#a8201a" opacity="0.45"/>
<circle cx="487.75" cy="121.00" r="0.62" fill="#a8201a" opacity="0.45"/>
<circle cx="482.35" cy="131.73" r="0.69" fill="#e86050" opacity="0.45"/>
<circle cx="476.52" cy="125.13" r="0.36" fill="#e86050" opacity="0.45"/>
<circle cx="481.74" cy="124.80" r="0.44" fill="#e86050" opacity="0.45"/>
<circle cx="473.98" cy="117.16" r="0.54" fill="#e86050" opacity="0.45"/>
<circle cx="486.52" cy="129.67" r="0.53" fill="#e86050" opacity="0.45"/>
<circle cx="487.42" cy="131.30" r="0.65" fill="#e86050" opacity="0.45"/>
<circle cx="480.01" cy="113.57" r="0.43" fill="#e86050" opacity="0.45"/>
<circle cx="488.63" cy="116.24" r="0.54" fill="#a8201a" opacity="0.45"/>
<circle cx="478.04" cy="128.28" r="0.38" fill="#a8201a" opacity="0.45"/>
<circle cx="478.56" cy="112.30" r="0.30" fill="#a8201a" opacity="0.45"/>
<circle cx="478.06" cy="127.37" r="0.37" fill="#a8201a" opacity="0.45"/>
<circle cx="487.06" cy="113.46" r="0.56" fill="#e86050" opacity="0.45"/>
<circle cx="480.39" cy="128.64" r="0.51" fill="#a8201a" opacity="0.45"/>
<circle cx="478.34" cy="129.92" r="0.49" fill="#e86050" opacity="0.45"/>
<circle cx="474.84" cy="126.14" r="0.47" fill="#e86050" opacity="0.45"/>
<circle cx="469.32" cy="126.45" r="0.68" fill="#e86050" opacity="0.45"/>
<circle cx="488.35" cy="120.13" r="0.66" fill="#a8201a" opacity="0.45"/>
<circle cx="488.21" cy="125.29" r="0.47" fill="#a8201a" opacity="0.45"/>
<circle cx="478.21" cy="113.51" r="0.39" fill="#a8201a" opacity="0.45"/>
<circle cx="489.70" cy="124.99" r="0.47" fill="#a8201a" opacity="0.45"/>
<circle cx="487.34" cy="119.92" r="0.35" fill="#e86050" opacity="0.45"/>
<circle cx="490.08" cy="127.27" r="0.41" fill="#a8201a" opacity="0.45"/>
<circle cx="485.86" cy="125.74" r="0.57" fill="#a8201a" opacity="0.45"/>
<circle cx="471.39" cy="115.12" r="0.70" fill="#e86050" opacity="0.45"/>
<circle cx="474.26" cy="115.94" r="0.64" fill="#e86050" opacity="0.45"/>
<circle cx="484.87" cy="121.66" r="0.63" fill="#e86050" opacity="0.45"/>
<circle cx="477.05" cy="131.15" r="0.55" fill="#a8201a" opacity="0.45"/>
<circle cx="488.54" cy="125.05" r="0.68" fill="#e86050" opacity="0.45"/>
<circle cx="486.44" cy="119.24" r="0.37" fill="#a8201a" opacity="0.45"/>
<circle cx="486.07" cy="114.92" r="0.37" fill="#a8201a" opacity="0.45"/>
<circle cx="468.92" cy="124.87" r="0.60" fill="#e86050" opacity="0.45"/>
<circle cx="487.82" cy="129.43" r="0.59" fill="#a8201a" opacity="0.45"/>
<circle cx="486.78" cy="115.34" r="0.51" fill="#e86050" opacity="0.45"/>
<circle cx="471.03" cy="118.57" r="0.30" fill="#e86050" opacity="0.45"/>
<circle cx="486.44" cy="118.49" r="0.63" fill="#a8201a" opacity="0.45"/>
<circle cx="468.75" cy="122.04" r="0.50" fill="#a8201a" opacity="0.45"/>
<circle cx="472.13" cy="128.67" r="0.52" fill="#a8201a" opacity="0.45"/>
<circle cx="474.76" cy="121.29" r="0.32" fill="#e86050" opacity="0.45"/>
<circle cx="478.80" cy="116.24" r="0.37" fill="#e86050" opacity="0.45"/>
<circle cx="476.56" cy="120.21" r="0.59" fill="#a8201a" opacity="0.45"/>
<circle cx="473.04" cy="123.40" r="0.40" fill="#a8201a" opacity="0.45"/>
<text x="479.90" y="126.10" font-size="8.2" text-anchor="middle" fill="#f8dcd8" font-weight="normal" stroke="#f8dcd8" stroke-width="0.1" >Hot</text>
<rect x="407.9" y="66.5" width="48.1" height="8.8" fill="#5aabd8"/>
<rect x="456" y="66.5" width="49" height="8.8" fill="#d13a2c"/>
<text x="410.80" y="72.50" font-size="3.8" text-anchor="start" fill="#c4e2f4" font-weight="normal" >CRC BRCA LUAD PRAD...</text>
<text x="462.40" y="72.50" font-size="3.9" text-anchor="start" fill="#f4cdc6" font-weight="normal" >KIRC LUAD STES...</text>
<rect x="407.5" y="139.2" width="48.7" height="8.7" fill="#5aabd8"/>
<rect x="456.2" y="139.2" width="48.2" height="8.7" fill="#d13a2c"/>
<text x="410.20" y="145.10" font-size="3.8" text-anchor="start" fill="#c4e2f4" font-weight="normal" >HNSC_GC3 SARC_GC1</text>
<text x="458.80" y="145.10" font-size="3.8" text-anchor="start" fill="#f4cdc6" font-weight="normal" >HNSC_GC1 SARC_GC3...</text>
<text x="2.60" y="189.00" font-size="12.6" text-anchor="start" fill="#000" font-weight="bold" stroke="#000" stroke-width="0.22" >B</text>
<polygon points="71.50,223.50 23.87,286.50 81.03,264.50" fill="#e0f3f5" fill-opacity="1.0" stroke="#b4dade" stroke-width="0.4"/>
<polygon points="71.50,226.00 26.47,285.00 83.62,266.00" fill="#c8e8ec" fill-opacity="0.5" stroke="none" stroke-width="0.4"/>
<polygon points="71.3,238.5 40.8,277 107.7,280" fill="#a9b0ad"/>
<polygon points="46.5,269.5 95.5,271.2 107.7,280 40.8,277" fill="#c3c7c6"/>
<polygon points="71.3,241.5 50.5,268.6 94.0,270.8" fill="#b4ab93"/>
<polygon points="71.5,250 61,265 84,267" fill="#a89c80" opacity="0.35"/>
<line x1="71.4" y1="207.5" x2="71.4" y2="236.5" stroke="#d0b0b0" stroke-width="0.5"/>
<path d="M71.4 206.2l-1.2 2.6h2.4z" fill="#b99"/>
<line x1="40.8" y1="277.1" x2="25.3" y2="286.1" stroke="#8aa" stroke-width="0.55"/>
<path d="M23.6 287.1l1.0 -2.7l1.7 2.0z" fill="#889"/>
<path d="M116.6 285.5l-2.8 0.3l1.0 -2.4z" fill="#888"/>
<line x1="108" y1="279.9" x2="115.6" y2="284.3" stroke="#777" stroke-width="0.55"/>
<line x1="71.4" y1="259" x2="86" y2="267.4" stroke="#9a8a70" stroke-width="0.4"/>
<circle cx="71.50" cy="236.70" r="0.9" fill="#222"/>
<circle cx="40.58" cy="276.85" r="0.9" fill="#222"/>
<circle cx="108.13" cy="280.15" r="0.9" fill="#222"/>
<text x="72.60" y="209.80" font-size="4.6" text-anchor="start" fill="#333" font-weight="normal" stroke="#333" stroke-width="0.05" >1,000</text>
<text x="73.20" y="226.80" font-size="4.6" text-anchor="start" fill="#333" font-weight="normal" stroke="#333" stroke-width="0.05" >100</text>
<text x="73.20" y="242.50" font-size="4.6" text-anchor="start" fill="#333" font-weight="normal" stroke="#333" stroke-width="0.05" >10</text>
<text x="73.60" y="258.90" font-size="4.6" text-anchor="start" fill="#333" font-weight="normal" stroke="#333" stroke-width="0.05" >0</text>
<text x="23.80" y="282.40" font-size="4.6" text-anchor="start" fill="#333" font-weight="normal" stroke="#333" stroke-width="0.05" >1,000</text>
<text x="39.80" y="274.60" font-size="4.6" text-anchor="start" fill="#333" font-weight="normal" stroke="#333" stroke-width="0.05" >100</text>
<text x="56.40" y="266.80" font-size="4.6" text-anchor="start" fill="#333" font-weight="normal" stroke="#333" stroke-width="0.05" >10</text>
<text x="85.40" y="265.40" font-size="4.6" text-anchor="start" fill="#333" font-weight="normal" stroke="#333" stroke-width="0.05" >0.1</text>
<text x="98.20" y="273.60" font-size="4.6" text-anchor="start" fill="#333" font-weight="normal" stroke="#333" stroke-width="0.05" >0.2</text>
<text x="113.00" y="282.60" font-size="4.6" text-anchor="start" fill="#333" font-weight="normal" stroke="#333" stroke-width="0.05" >0.3</text>
<text x="74.70" y="200.30" font-size="7.7" text-anchor="middle" fill="#231f20" font-weight="normal" stroke="#231f20" stroke-width="0.22" >mTMB</text>
<text x="0.60" y="295.30" font-size="7.7" text-anchor="start" fill="#231f20" font-weight="normal" stroke="#231f20" stroke-width="0.22" >MSI burden</text>
<text x="94.20" y="295.30" font-size="7.7" text-anchor="start" fill="#231f20" font-weight="normal" stroke="#231f20" stroke-width="0.22" >SCNA burden</text>
<text x="12.40" y="254.80" font-size="7.7" text-anchor="start" fill="#231f20" font-weight="normal" stroke="#231f20" stroke-width="0.22" >GC4</text>
<text x="12.40" y="268.80" font-size="7.7" text-anchor="start" fill="#231f20" font-weight="normal" stroke="#231f20" stroke-width="0.22" >GC2</text>
<text x="100.60" y="260.80" font-size="7.7" text-anchor="start" fill="#231f20" font-weight="normal" stroke="#231f20" stroke-width="0.22" >GC1</text>
<text x="75.50" y="290.20" font-size="7.7" text-anchor="start" fill="#231f20" font-weight="normal" stroke="#231f20" stroke-width="0.22" >GC3</text>
<line x1="29.6" y1="252.3" x2="59.5" y2="252.3" stroke="#777" stroke-width="0.5"/>
<line x1="29.6" y1="266.3" x2="40.6" y2="266.3" stroke="#777" stroke-width="0.5"/>
<line x1="87.8" y1="258.2" x2="99.4" y2="258.2" stroke="#777" stroke-width="0.5"/>
<line x1="83.3" y1="270.6" x2="83.3" y2="282.8" stroke="#777" stroke-width="0.5"/>
<line x1="140.3" y1="215.6" x2="140.3" y2="283.8" stroke="#231f20" stroke-width="0.8"/>
<line x1="140.3" y1="283.8" x2="253" y2="283.8" stroke="#231f20" stroke-width="0.8"/>
<line x1="138.8" y1="222.1" x2="140.3" y2="222.1" stroke="#231f20" stroke-width="0.5"/>
<text x="138.10" y="223.70" font-size="4.6" text-anchor="end" fill="#333" font-weight="normal" stroke="#333" stroke-width="0.05" >1,000</text>
<line x1="138.8" y1="242.1" x2="140.3" y2="242.1" stroke="#231f20" stroke-width="0.5"/>
<text x="138.10" y="243.70" font-size="4.6" text-anchor="end" fill="#333" font-weight="normal" stroke="#333" stroke-width="0.05" >100</text>
<line x1="138.8" y1="261.9" x2="140.3" y2="261.9" stroke="#231f20" stroke-width="0.5"/>
<text x="138.10" y="263.50" font-size="4.6" text-anchor="end" fill="#333" font-weight="normal" stroke="#333" stroke-width="0.05" >10</text>
<line x1="138.8" y1="281.8" x2="140.3" y2="281.8" stroke="#231f20" stroke-width="0.5"/>
<text x="138.10" y="283.40" font-size="4.6" text-anchor="end" fill="#333" font-weight="normal" stroke="#333" stroke-width="0.05" >0</text>
<line x1="156.8" y1="227.5" x2="156.8" y2="283.8" stroke="#8a8a8a" stroke-width="0.7"/>
<line x1="156.8" y1="227.5" x2="156.8" y2="233.80" stroke="#222" stroke-width="1.3" stroke-dasharray="0.9 0.7"/>
<line x1="156.8" y1="233.80" x2="156.8" y2="248.5" stroke="#1a1a1a" stroke-width="1.3"/>
<rect x="146.80" y="263.1" width="20" height="9.70" fill="#ef6a58" stroke="#555" stroke-width="0.6"/>
<line x1="146.8" y1="268.2" x2="166.8" y2="268.2" stroke="#333" stroke-width="1.1"/>
<text x="156.80" y="292.10" font-size="7.7" text-anchor="middle" fill="#231f20" font-weight="normal" stroke="#231f20" stroke-width="0.22" >GC1</text>
<line x1="184.3" y1="221" x2="184.3" y2="283.8" stroke="#8a8a8a" stroke-width="0.7"/>
<rect x="174.30" y="231.9" width="20" height="23.30" fill="#8fd4d6" stroke="#555" stroke-width="0.6"/>
<line x1="174.3" y1="240.7" x2="194.3" y2="240.7" stroke="#333" stroke-width="1.1"/>
<text x="184.30" y="292.10" font-size="7.7" text-anchor="middle" fill="#231f20" font-weight="normal" stroke="#231f20" stroke-width="0.22" >GC2</text>
<line x1="211.3" y1="231.9" x2="211.3" y2="283.8" stroke="#8a8a8a" stroke-width="0.7"/>
<line x1="211.3" y1="231.9" x2="211.3" y2="235.53" stroke="#222" stroke-width="1.3" stroke-dasharray="0.9 0.7"/>
<line x1="211.3" y1="235.53" x2="211.3" y2="244" stroke="#1a1a1a" stroke-width="1.3"/>
<rect x="201.30" y="258.5" width="20" height="12.00" fill="#fdf3bd" stroke="#555" stroke-width="0.6"/>
<line x1="201.3" y1="264.2" x2="221.3" y2="264.2" stroke="#333" stroke-width="1.1"/>
<text x="211.30" y="292.10" font-size="7.7" text-anchor="middle" fill="#231f20" font-weight="normal" stroke="#231f20" stroke-width="0.22" >GC3</text>
<line x1="238.6" y1="225" x2="238.6" y2="283.8" stroke="#8a8a8a" stroke-width="0.7"/>
<line x1="238.6" y1="225" x2="238.6" y2="231.30" stroke="#222" stroke-width="1.3" stroke-dasharray="0.9 0.7"/>
<line x1="238.6" y1="231.30" x2="238.6" y2="246" stroke="#1a1a1a" stroke-width="1.3"/>
<rect x="228.60" y="258.5" width="20" height="9.70" fill="#474747" stroke="#555" stroke-width="0.6"/>
<line x1="228.6" y1="263.5" x2="248.6" y2="263.5" stroke="#333" stroke-width="1.1"/>
<text x="238.60" y="292.10" font-size="7.7" text-anchor="middle" fill="#231f20" font-weight="normal" stroke="#231f20" stroke-width="0.22" >GC4</text>
<text transform="translate(124.70,246.00) rotate(-90)" x="0" y="0" font-size="7.7" text-anchor="middle" fill="#231f20" stroke="#231f20" stroke-width="0.22">mTMB</text>
<line x1="274.6" y1="213.8" x2="274.6" y2="283.0" stroke="#231f20" stroke-width="0.8"/>
<line x1="274.6" y1="283.0" x2="389" y2="283.0" stroke="#231f20" stroke-width="0.8"/>
<line x1="273.1" y1="226.8" x2="274.6" y2="226.8" stroke="#231f20" stroke-width="0.5"/>
<text x="272.40" y="228.40" font-size="4.6" text-anchor="end" fill="#333" font-weight="normal" stroke="#333" stroke-width="0.05" >10,000</text>
<line x1="273.1" y1="240.3" x2="274.6" y2="240.3" stroke="#231f20" stroke-width="0.5"/>
<text x="272.40" y="241.90" font-size="4.6" text-anchor="end" fill="#333" font-weight="normal" stroke="#333" stroke-width="0.05" >1,000</text>
<line x1="273.1" y1="254" x2="274.6" y2="254" stroke="#231f20" stroke-width="0.5"/>
<text x="272.40" y="255.60" font-size="4.6" text-anchor="end" fill="#333" font-weight="normal" stroke="#333" stroke-width="0.05" >100</text>
<line x1="273.1" y1="267.5" x2="274.6" y2="267.5" stroke="#231f20" stroke-width="0.5"/>
<text x="272.40" y="269.10" font-size="4.6" text-anchor="end" fill="#333" font-weight="normal" stroke="#333" stroke-width="0.05" >10</text>
<line x1="273.1" y1="281.3" x2="274.6" y2="281.3" stroke="#231f20" stroke-width="0.5"/>
<text x="272.40" y="282.90" font-size="4.6" text-anchor="end" fill="#333" font-weight="normal" stroke="#333" stroke-width="0.05" >0</text>
<line x1="290.1" y1="250.1" x2="290.1" y2="283.0" stroke="#8a8a8a" stroke-width="0.7"/>
<rect x="280.10" y="269.3" width="20" height="12.20" fill="#ef6a58" stroke="#555" stroke-width="0.6"/>
<line x1="280.1" y1="277.2" x2="300.1" y2="277.2" stroke="#333" stroke-width="1.1"/>
<text x="290.10" y="291.30" font-size="7.7" text-anchor="middle" fill="#231f20" font-weight="normal" stroke="#231f20" stroke-width="0.22" >GC1</text>
<line x1="315.9" y1="232.4" x2="315.9" y2="259.4" stroke="#8a8a8a" stroke-width="0.7"/>
<line x1="315.9" y1="266.5" x2="315.9" y2="267.01" stroke="#222" stroke-width="1.3" stroke-dasharray="0.9 0.7"/>
<line x1="315.9" y1="267.01" x2="315.9" y2="268.2" stroke="#1a1a1a" stroke-width="1.3"/>
<line x1="315.9" y1="270.3" x2="315.9" y2="270.51" stroke="#222" stroke-width="1.3" stroke-dasharray="0.9 0.7"/>
<line x1="315.9" y1="270.51" x2="315.9" y2="271.0" stroke="#1a1a1a" stroke-width="1.3"/>
<line x1="315.9" y1="276.9" x2="315.9" y2="277.11" stroke="#222" stroke-width="1.3" stroke-dasharray="0.9 0.7"/>
<line x1="315.9" y1="277.11" x2="315.9" y2="277.6" stroke="#1a1a1a" stroke-width="1.3"/>
<rect x="305.90" y="235.2" width="20" height="11.20" fill="#8fd4d6" stroke="#555" stroke-width="0.6"/>
<line x1="305.9" y1="238.0" x2="325.9" y2="238.0" stroke="#333" stroke-width="1.1"/>
<text x="315.90" y="291.30" font-size="7.7" text-anchor="middle" fill="#231f20" font-weight="normal" stroke="#231f20" stroke-width="0.22" >GC2</text>
<line x1="341.9" y1="251.4" x2="341.9" y2="283.0" stroke="#8a8a8a" stroke-width="0.7"/>
<rect x="331.90" y="264.1" width="20" height="17.40" fill="#fdf3bd" stroke="#555" stroke-width="0.6"/>
<line x1="331.9" y1="271.6" x2="351.9" y2="271.6" stroke="#333" stroke-width="1.1"/>
<text x="341.90" y="291.30" font-size="7.7" text-anchor="middle" fill="#231f20" font-weight="normal" stroke="#231f20" stroke-width="0.22" >GC3</text>
<line x1="368.0" y1="232.4" x2="368.0" y2="282" stroke="#8a8a8a" stroke-width="0.7"/>
<line x1="368.0" y1="232.4" x2="368.0" y2="250" stroke="#2a2a2a" stroke-width="1.2" stroke-dasharray="0.9 0.9"/>
<line x1="368.0" y1="257.6" x2="368.0" y2="282" stroke="#2a2a2a" stroke-width="1.2" stroke-dasharray="0.9 0.9"/>
<rect x="358.00" y="250.1" width="20" height="5.60" fill="#474747" stroke="#555" stroke-width="0.6"/>
<line x1="358.0" y1="252.9" x2="378.0" y2="252.9" stroke="#333" stroke-width="1.1"/>
<text x="368.00" y="291.30" font-size="7.7" text-anchor="middle" fill="#231f20" font-weight="normal" stroke="#231f20" stroke-width="0.22" >GC4</text>
<text transform="translate(256.40,247.00) rotate(-90)" x="0" y="0" font-size="7.7" text-anchor="middle" fill="#231f20" stroke="#231f20" stroke-width="0.22">MSI burden</text>
<line x1="406.0" y1="214.2" x2="406.0" y2="283.0" stroke="#231f20" stroke-width="0.8"/>
<line x1="406.0" y1="283.0" x2="520" y2="283.0" stroke="#231f20" stroke-width="0.8"/>
<line x1="404.5" y1="225.7" x2="406.0" y2="225.7" stroke="#231f20" stroke-width="0.5"/>
<text x="403.80" y="227.30" font-size="4.6" text-anchor="end" fill="#333" font-weight="normal" stroke="#333" stroke-width="0.05" >0.5</text>
<line x1="404.5" y1="235.6" x2="406.0" y2="235.6" stroke="#231f20" stroke-width="0.5"/>
<text x="403.80" y="237.20" font-size="4.6" text-anchor="end" fill="#333" font-weight="normal" stroke="#333" stroke-width="0.05" >0.4</text>
<line x1="404.5" y1="246.7" x2="406.0" y2="246.7" stroke="#231f20" stroke-width="0.5"/>
<text x="403.80" y="248.30" font-size="4.6" text-anchor="end" fill="#333" font-weight="normal" stroke="#333" stroke-width="0.05" >0.3</text>
<line x1="404.5" y1="257.8" x2="406.0" y2="257.8" stroke="#231f20" stroke-width="0.5"/>
<text x="403.80" y="259.40" font-size="4.6" text-anchor="end" fill="#333" font-weight="normal" stroke="#333" stroke-width="0.05" >0.2</text>
<line x1="404.5" y1="269.1" x2="406.0" y2="269.1" stroke="#231f20" stroke-width="0.5"/>
<text x="403.80" y="270.70" font-size="4.6" text-anchor="end" fill="#333" font-weight="normal" stroke="#333" stroke-width="0.05" >0.1</text>
<line x1="404.5" y1="279.6" x2="406.0" y2="279.6" stroke="#231f20" stroke-width="0.5"/>
<text x="403.80" y="281.20" font-size="4.6" text-anchor="end" fill="#333" font-weight="normal" stroke="#333" stroke-width="0.05" >0.0</text>
<line x1="421.3" y1="229.9" x2="421.3" y2="283.0" stroke="#8a8a8a" stroke-width="0.7"/>
<line x1="421.3" y1="229.9" x2="421.3" y2="233.83" stroke="#222" stroke-width="1.3" stroke-dasharray="0.9 0.7"/>
<line x1="421.3" y1="233.83" x2="421.3" y2="243" stroke="#1a1a1a" stroke-width="1.3"/>
<rect x="411.30" y="263.5" width="20" height="14.00" fill="#ef6a58" stroke="#555" stroke-width="0.6"/>
<line x1="411.3" y1="271.2" x2="431.3" y2="271.2" stroke="#333" stroke-width="1.1"/>
<text x="421.30" y="291.30" font-size="7.7" text-anchor="middle" fill="#231f20" font-weight="normal" stroke="#231f20" stroke-width="0.22" >GC1</text>
<line x1="448.7" y1="231.0" x2="448.7" y2="283.0" stroke="#8a8a8a" stroke-width="0.7"/>
<line x1="448.7" y1="231" x2="448.7" y2="236.64" stroke="#222" stroke-width="1.3" stroke-dasharray="0.9 0.7"/>
<line x1="448.7" y1="236.64" x2="448.7" y2="249.8" stroke="#1a1a1a" stroke-width="1.3"/>
<rect x="438.70" y="268.3" width="20" height="10.90" fill="#8fd4d6" stroke="#555" stroke-width="0.6"/>
<line x1="438.7" y1="275.4" x2="458.7" y2="275.4" stroke="#333" stroke-width="1.1"/>
<text x="448.70" y="291.30" font-size="7.7" text-anchor="middle" fill="#231f20" font-weight="normal" stroke="#231f20" stroke-width="0.22" >GC2</text>
<line x1="475.1" y1="229.9" x2="475.1" y2="280.6" stroke="#8a8a8a" stroke-width="0.7"/>
<line x1="475.1" y1="229.9" x2="475.1" y2="232.75" stroke="#222" stroke-width="1.3" stroke-dasharray="0.9 0.7"/>
<line x1="475.1" y1="232.75" x2="475.1" y2="239.4" stroke="#1a1a1a" stroke-width="1.3"/>
<rect x="465.10" y="256.5" width="20" height="13.90" fill="#fdf3bd" stroke="#555" stroke-width="0.6"/>
<line x1="465.1" y1="263.0" x2="485.1" y2="263.0" stroke="#333" stroke-width="1.1"/>
<text x="475.10" y="291.30" font-size="7.7" text-anchor="middle" fill="#231f20" font-weight="normal" stroke="#231f20" stroke-width="0.22" >GC3</text>
<line x1="501.5" y1="232.0" x2="501.5" y2="272.0" stroke="#8a8a8a" stroke-width="0.7"/>
<line x1="501.5" y1="272.4" x2="501.5" y2="272.55" stroke="#222" stroke-width="1.3" stroke-dasharray="0.9 0.7"/>
<line x1="501.5" y1="272.55" x2="501.5" y2="272.9" stroke="#1a1a1a" stroke-width="1.3"/>
<line x1="501.5" y1="274.4" x2="501.5" y2="274.55" stroke="#222" stroke-width="1.3" stroke-dasharray="0.9 0.7"/>
<line x1="501.5" y1="274.55" x2="501.5" y2="274.9" stroke="#1a1a1a" stroke-width="1.3"/>
<line x1="501.5" y1="276.3" x2="501.5" y2="276.45" stroke="#222" stroke-width="1.3" stroke-dasharray="0.9 0.7"/>
<line x1="501.5" y1="276.45" x2="501.5" y2="276.8" stroke="#1a1a1a" stroke-width="1.3"/>
<line x1="501.5" y1="278.2" x2="501.5" y2="278.35" stroke="#222" stroke-width="1.3" stroke-dasharray="0.9 0.7"/>
<line x1="501.5" y1="278.35" x2="501.5" y2="278.7" stroke="#1a1a1a" stroke-width="1.3"/>
<line x1="501.5" y1="279.8" x2="501.5" y2="279.95" stroke="#222" stroke-width="1.3" stroke-dasharray="0.9 0.7"/>
<line x1="501.5" y1="279.95" x2="501.5" y2="280.3" stroke="#1a1a1a" stroke-width="1.3"/>
<rect x="491.50" y="246.7" width="20" height="9.80" fill="#474747" stroke="#555" stroke-width="0.6"/>
<line x1="491.5" y1="251.6" x2="511.5" y2="251.6" stroke="#333" stroke-width="1.1"/>
<text x="501.50" y="291.30" font-size="7.7" text-anchor="middle" fill="#231f20" font-weight="normal" stroke="#231f20" stroke-width="0.22" >GC4</text>
<text transform="translate(391.60,243.80) rotate(-90)" x="0" y="0" font-size="7.7" text-anchor="middle" fill="#231f20" stroke="#231f20" stroke-width="0.22">SCNA burden</text>
<rect x="486.1" y="182.8" width="11.9" height="4.4" fill="#e8685a"/>
<text x="502.90" y="186.60" font-size="7.6" text-anchor="start" fill="#231f20" font-weight="normal" stroke="#231f20" stroke-width="0.22" >GC1</text>
<rect x="486.1" y="189.8" width="11.9" height="4.4" fill="#8fd4d8"/>
<text x="502.90" y="193.80" font-size="7.6" text-anchor="start" fill="#231f20" font-weight="normal" stroke="#231f20" stroke-width="0.22" >GC2</text>
<rect x="486.1" y="196.9" width="11.9" height="4.4" fill="#fdf0c8"/>
<text x="502.90" y="200.70" font-size="7.6" text-anchor="start" fill="#231f20" font-weight="normal" stroke="#231f20" stroke-width="0.22" >GC3</text>
<rect x="486.1" y="203.9" width="11.9" height="4.4" fill="#444"/>
<text x="502.90" y="207.50" font-size="7.6" text-anchor="start" fill="#231f20" font-weight="normal" stroke="#231f20" stroke-width="0.22" >GC4</text>
<text x="2.60" y="321.80" font-size="12.6" text-anchor="start" fill="#000" font-weight="bold" stroke="#000" stroke-width="0.22" >C</text>
<rect x="25.00" y="351.00" width="16.05" height="9.60" fill="#db4232"/>
<text x="33.00" y="358.30" font-size="8.0" text-anchor="middle" fill="#5a1a12" font-weight="normal" stroke="#5a1a12" stroke-width="0.22" >465</text>
<rect x="41.00" y="351.00" width="16.05" height="9.60" fill="#db4232"/>
<text x="49.00" y="358.30" font-size="8.0" text-anchor="middle" fill="#5a1a12" font-weight="normal" stroke="#5a1a12" stroke-width="0.22" >243</text>
<rect x="57.00" y="351.00" width="16.05" height="9.60" fill="#db4232"/>
<text x="65.00" y="358.30" font-size="8.0" text-anchor="middle" fill="#5a1a12" font-weight="normal" stroke="#5a1a12" stroke-width="0.22" >325</text>
<rect x="73.00" y="351.00" width="16.05" height="9.60" fill="#db4232"/>
<text x="81.00" y="358.30" font-size="8.0" text-anchor="middle" fill="#5a1a12" font-weight="normal" stroke="#5a1a12" stroke-width="0.22" >138</text>
<rect x="89.00" y="351.00" width="16.05" height="9.60" fill="#db4232"/>
<text x="97.00" y="358.30" font-size="8.0" text-anchor="middle" fill="#5a1a12" font-weight="normal" stroke="#5a1a12" stroke-width="0.22" >106</text>
<rect x="105.00" y="351.00" width="16.05" height="9.60" fill="#df584a"/>
<text x="113.00" y="358.30" font-size="8.0" text-anchor="middle" fill="#5a1a12" font-weight="normal" stroke="#5a1a12" stroke-width="0.22" >59</text>
<rect x="121.00" y="351.00" width="16.05" height="9.60" fill="#db4232"/>
<text x="129.00" y="358.30" font-size="8.0" text-anchor="middle" fill="#5a1a12" font-weight="normal" stroke="#5a1a12" stroke-width="0.22" >300</text>
<rect x="137.00" y="351.00" width="15.90" height="9.60" fill="#fafafa"/>
<text x="144.93" y="358.30" font-size="8.0" text-anchor="middle" fill="#222" font-weight="normal" stroke="#222" stroke-width="0.22" >94</text>
<rect x="152.85" y="351.00" width="15.90" height="9.60" fill="#f9f6f5"/>
<text x="160.77" y="358.30" font-size="8.0" text-anchor="middle" fill="#222" font-weight="normal" stroke="#222" stroke-width="0.22" >161</text>
<rect x="168.70" y="351.00" width="16.15" height="9.60" fill="#63be54"/>
<text x="176.75" y="358.30" font-size="8.0" text-anchor="middle" fill="#173f17" font-weight="normal" stroke="#173f17" stroke-width="0.22" >96</text>
<rect x="184.80" y="351.00" width="16.15" height="9.60" fill="#58ba48"/>
<text x="192.85" y="358.30" font-size="8.0" text-anchor="middle" fill="#173f17" font-weight="normal" stroke="#173f17" stroke-width="0.22" >88</text>
<rect x="200.90" y="351.00" width="16.15" height="9.60" fill="#63be54"/>
<text x="208.95" y="358.30" font-size="8.0" text-anchor="middle" fill="#173f17" font-weight="normal" stroke="#173f17" stroke-width="0.22" >138</text>
<rect x="217.00" y="351.00" width="16.15" height="9.60" fill="#83cb77"/>
<text x="225.05" y="358.30" font-size="8.0" text-anchor="middle" fill="#173f17" font-weight="normal" stroke="#173f17" stroke-width="0.22" >18</text>
<rect x="233.10" y="351.00" width="16.15" height="9.60" fill="#58ba48"/>
<text x="241.15" y="358.30" font-size="8.0" text-anchor="middle" fill="#173f17" font-weight="normal" stroke="#173f17" stroke-width="0.22" >139</text>
<rect x="249.20" y="351.00" width="16.55" height="9.60" fill="#58ba48"/>
<text x="257.45" y="358.30" font-size="8.0" text-anchor="middle" fill="#173f17" font-weight="normal" stroke="#173f17" stroke-width="0.22" >34</text>
<rect x="265.70" y="351.00" width="16.55" height="9.60" fill="#58ba48"/>
<text x="273.95" y="358.30" font-size="8.0" text-anchor="middle" fill="#173f17" font-weight="normal" stroke="#173f17" stroke-width="0.22" >300</text>
<rect x="282.20" y="351.00" width="16.14" height="9.60" fill="#f5dad7"/>
<text x="290.25" y="358.30" font-size="8.0" text-anchor="middle" fill="#222" font-weight="normal" stroke="#222" stroke-width="0.22" >43</text>
<rect x="298.29" y="351.00" width="16.14" height="9.60" fill="#fafafa"/>
<text x="306.34" y="358.30" font-size="8.0" text-anchor="middle" fill="#222" font-weight="normal" stroke="#222" stroke-width="0.22" >92</text>
<rect x="314.38" y="351.00" width="16.14" height="9.60" fill="#fafafa"/>
<text x="322.43" y="358.30" font-size="8.0" text-anchor="middle" fill="#222" font-weight="normal" stroke="#222" stroke-width="0.22" >19</text>
<rect x="330.48" y="351.00" width="16.14" height="9.60" fill="#e4f1e2"/>
<text x="338.52" y="358.30" font-size="8.0" text-anchor="middle" fill="#222" font-weight="normal" stroke="#222" stroke-width="0.22" >93</text>
<rect x="346.57" y="351.00" width="16.14" height="9.60" fill="#fafafa"/>
<text x="354.62" y="358.30" font-size="8.0" text-anchor="middle" fill="#222" font-weight="normal" stroke="#222" stroke-width="0.22" >152</text>
<rect x="362.66" y="351.00" width="16.14" height="9.60" fill="#fafafa"/>
<text x="370.71" y="358.30" font-size="8.0" text-anchor="middle" fill="#222" font-weight="normal" stroke="#222" stroke-width="0.22" >78</text>
<rect x="378.75" y="351.00" width="16.14" height="9.60" fill="#f3cfcb"/>
<text x="386.80" y="358.30" font-size="8.0" text-anchor="middle" fill="#222" font-weight="normal" stroke="#222" stroke-width="0.22" >249</text>
<rect x="394.85" y="351.00" width="16.14" height="9.60" fill="#f8efee"/>
<text x="402.89" y="358.30" font-size="8.0" text-anchor="middle" fill="#222" font-weight="normal" stroke="#222" stroke-width="0.22" >61</text>
<rect x="410.94" y="351.00" width="16.14" height="9.60" fill="#83cb77"/>
<text x="418.98" y="358.30" font-size="8.0" text-anchor="middle" fill="#173f17" font-weight="normal" stroke="#173f17" stroke-width="0.22" >78</text>
<rect x="427.03" y="351.00" width="16.14" height="9.60" fill="#fafafa"/>
<text x="435.08" y="358.30" font-size="8.0" text-anchor="middle" fill="#222" font-weight="normal" stroke="#222" stroke-width="0.22" >123</text>
<rect x="443.12" y="351.00" width="16.14" height="9.60" fill="#edaea8"/>
<text x="451.17" y="358.30" font-size="8.0" text-anchor="middle" fill="#222" font-weight="normal" stroke="#222" stroke-width="0.22" >91</text>
<rect x="459.22" y="351.00" width="16.14" height="9.60" fill="#83cb77"/>
<text x="467.26" y="358.30" font-size="8.0" text-anchor="middle" fill="#173f17" font-weight="normal" stroke="#173f17" stroke-width="0.22" >9</text>
<rect x="475.31" y="351.00" width="16.14" height="9.60" fill="#f5dad7"/>
<text x="483.35" y="358.30" font-size="8.0" text-anchor="middle" fill="#222" font-weight="normal" stroke="#222" stroke-width="0.22" >47</text>
<rect x="25.00" y="360.55" width="16.05" height="9.60" fill="#83cb77"/>
<text x="33.00" y="367.85" font-size="8.0" text-anchor="middle" fill="#173f17" font-weight="normal" stroke="#173f17" stroke-width="0.22" >0</text>
<rect x="41.00" y="360.55" width="16.05" height="9.60" fill="#c4e5bf"/>
<text x="49.00" y="367.85" font-size="8.0" text-anchor="middle" fill="#222" font-weight="normal" stroke="#222" stroke-width="0.22" >1</text>
<rect x="57.00" y="360.55" width="16.05" height="9.60" fill="#fafafa"/>
<text x="65.00" y="367.85" font-size="8.0" text-anchor="middle" fill="#222" font-weight="normal" stroke="#222" stroke-width="0.22" >13</text>
<rect x="73.00" y="360.55" width="16.05" height="9.60" fill="#daedd6"/>
<text x="81.00" y="367.85" font-size="8.0" text-anchor="middle" fill="#222" font-weight="normal" stroke="#222" stroke-width="0.22" >0</text>
<rect x="89.00" y="360.55" width="16.05" height="9.60" fill="#ebf4e9"/>
<text x="97.00" y="367.85" font-size="8.0" text-anchor="middle" fill="#222" font-weight="normal" stroke="#222" stroke-width="0.22" >1</text>
<rect x="105.00" y="360.55" width="16.05" height="9.60" fill="#fafafa"/>
<text x="113.00" y="367.85" font-size="8.0" text-anchor="middle" fill="#222" font-weight="normal" stroke="#222" stroke-width="0.22" >4</text>
<rect x="121.00" y="360.55" width="16.05" height="9.60" fill="#a4d89b"/>
<text x="129.00" y="367.85" font-size="8.0" text-anchor="middle" fill="#222" font-weight="normal" stroke="#222" stroke-width="0.22" >2</text>
<rect x="137.00" y="360.55" width="15.90" height="9.60" fill="#db4232"/>
<text x="144.93" y="367.85" font-size="8.0" text-anchor="middle" fill="#5a1a12" font-weight="normal" stroke="#5a1a12" stroke-width="0.22" >78</text>
<rect x="152.85" y="360.55" width="15.90" height="9.60" fill="#db4232"/>
<text x="160.77" y="367.85" font-size="8.0" text-anchor="middle" fill="#5a1a12" font-weight="normal" stroke="#5a1a12" stroke-width="0.22" >68</text>
<rect x="168.70" y="360.55" width="16.15" height="9.60" fill="#db4232"/>
<text x="176.75" y="367.85" font-size="8.0" text-anchor="middle" fill="#5a1a12" font-weight="normal" stroke="#5a1a12" stroke-width="0.22" >66</text>
<rect x="184.80" y="360.55" width="16.15" height="9.60" fill="#b9e0b3"/>
<text x="192.85" y="367.85" font-size="8.0" text-anchor="middle" fill="#222" font-weight="normal" stroke="#222" stroke-width="0.22" >0</text>
<rect x="200.90" y="360.55" width="16.15" height="9.60" fill="#daedd6"/>
<text x="208.95" y="367.85" font-size="8.0" text-anchor="middle" fill="#222" font-weight="normal" stroke="#222" stroke-width="0.22" >4</text>
<rect x="217.00" y="360.55" width="16.15" height="9.60" fill="#e9f3e7"/>
<text x="225.05" y="367.85" font-size="8.0" text-anchor="middle" fill="#222" font-weight="normal" stroke="#222" stroke-width="0.22" >0</text>
<rect x="233.10" y="360.55" width="16.15" height="9.60" fill="#c4e5bf"/>
<text x="241.15" y="367.85" font-size="8.0" text-anchor="middle" fill="#222" font-weight="normal" stroke="#222" stroke-width="0.22" >1</text>
<rect x="249.20" y="360.55" width="16.55" height="9.60" fill="#fafafa"/>
<text x="257.45" y="367.85" font-size="8.0" text-anchor="middle" fill="#222" font-weight="normal" stroke="#222" stroke-width="0.22" >7</text>
<rect x="265.70" y="360.55" width="16.55" height="9.60" fill="#b9e0b3"/>
<text x="273.95" y="367.85" font-size="8.0" text-anchor="middle" fill="#222" font-weight="normal" stroke="#222" stroke-width="0.22" >15</text>
<rect x="282.20" y="360.55" width="16.14" height="9.60" fill="#fafafa"/>
<text x="290.25" y="367.85" font-size="8.0" text-anchor="middle" fill="#222" font-weight="normal" stroke="#222" stroke-width="0.22" >4</text>
<rect x="298.29" y="360.55" width="16.14" height="9.60" fill="#cfe9cb"/>
<text x="306.34" y="367.85" font-size="8.0" text-anchor="middle" fill="#222" font-weight="normal" stroke="#222" stroke-width="0.22" >1</text>
<rect x="314.38" y="360.55" width="16.14" height="9.60" fill="#fafafa"/>
<text x="322.43" y="367.85" font-size="8.0" text-anchor="middle" fill="#222" font-weight="normal" stroke="#222" stroke-width="0.22" >0</text>
<rect x="330.48" y="360.55" width="16.14" height="9.60" fill="#e0f0de"/>
<text x="338.52" y="367.85" font-size="8.0" text-anchor="middle" fill="#222" font-weight="normal" stroke="#222" stroke-width="0.22" >0</text>
<rect x="346.57" y="360.55" width="16.14" height="9.60" fill="#a4d89b"/>
<text x="354.62" y="367.85" font-size="8.0" text-anchor="middle" fill="#222" font-weight="normal" stroke="#222" stroke-width="0.22" >2</text>
<rect x="362.66" y="360.55" width="16.14" height="9.60" fill="#fafafa"/>
<text x="370.71" y="367.85" font-size="8.0" text-anchor="middle" fill="#222" font-weight="normal" stroke="#222" stroke-width="0.22" >5</text>
<rect x="378.75" y="360.55" width="16.14" height="9.60" fill="#8ecf83"/>
<text x="386.80" y="367.85" font-size="8.0" text-anchor="middle" fill="#173f17" font-weight="normal" stroke="#173f17" stroke-width="0.22" >3</text>
<rect x="394.85" y="360.55" width="16.14" height="9.60" fill="#fafafa"/>
<text x="402.89" y="367.85" font-size="8.0" text-anchor="middle" fill="#222" font-weight="normal" stroke="#222" stroke-width="0.22" >8</text>
<rect x="410.94" y="360.55" width="16.14" height="9.60" fill="#daedd6"/>
<text x="418.98" y="367.85" font-size="8.0" text-anchor="middle" fill="#222" font-weight="normal" stroke="#222" stroke-width="0.22" >1</text>
<rect x="427.03" y="360.55" width="16.14" height="9.60" fill="#a4d89b"/>
<text x="435.08" y="367.85" font-size="8.0" text-anchor="middle" fill="#222" font-weight="normal" stroke="#222" stroke-width="0.22" >1</text>
<rect x="443.12" y="360.55" width="16.14" height="9.60" fill="#e9f3e7"/>
<text x="451.17" y="367.85" font-size="8.0" text-anchor="middle" fill="#222" font-weight="normal" stroke="#222" stroke-width="0.22" >0</text>
<rect x="459.22" y="360.55" width="16.14" height="9.60" fill="#fafafa"/>
<text x="467.26" y="367.85" font-size="8.0" text-anchor="middle" fill="#222" font-weight="normal" stroke="#222" stroke-width="0.22" >1</text>
<rect x="475.31" y="360.55" width="16.14" height="9.60" fill="#e9f3e7"/>
<text x="483.35" y="367.85" font-size="8.0" text-anchor="middle" fill="#222" font-weight="normal" stroke="#222" stroke-width="0.22" >0</text>
<rect x="25.00" y="370.10" width="16.05" height="9.60" fill="#63be54"/>
<text x="33.00" y="377.40" font-size="8.0" text-anchor="middle" fill="#173f17" font-weight="normal" stroke="#173f17" stroke-width="0.22" >23</text>
<rect x="41.00" y="370.10" width="16.05" height="9.60" fill="#6ec360"/>
<text x="49.00" y="377.40" font-size="8.0" text-anchor="middle" fill="#173f17" font-weight="normal" stroke="#173f17" stroke-width="0.22" >36</text>
<rect x="57.00" y="370.10" width="16.05" height="9.60" fill="#63be54"/>
<text x="65.00" y="377.40" font-size="8.0" text-anchor="middle" fill="#173f17" font-weight="normal" stroke="#173f17" stroke-width="0.22" >80</text>
<rect x="73.00" y="370.10" width="16.05" height="9.60" fill="#63be54"/>
<text x="81.00" y="377.40" font-size="8.0" text-anchor="middle" fill="#173f17" font-weight="normal" stroke="#173f17" stroke-width="0.22" >24</text>
<rect x="89.00" y="370.10" width="16.05" height="9.60" fill="#63be54"/>
<text x="97.00" y="377.40" font-size="8.0" text-anchor="middle" fill="#173f17" font-weight="normal" stroke="#173f17" stroke-width="0.22" >16</text>
<rect x="105.00" y="370.10" width="16.05" height="9.60" fill="#63be54"/>
<text x="113.00" y="377.40" font-size="8.0" text-anchor="middle" fill="#173f17" font-weight="normal" stroke="#173f17" stroke-width="0.22" >3</text>
<rect x="121.00" y="370.10" width="16.05" height="9.60" fill="#eff6ee"/>
<text x="129.00" y="377.40" font-size="8.0" text-anchor="middle" fill="#222" font-weight="normal" stroke="#222" stroke-width="0.22" >211</text>
<rect x="137.00" y="370.10" width="15.90" height="9.60" fill="#63be54"/>
<text x="144.93" y="377.40" font-size="8.0" text-anchor="middle" fill="#173f17" font-weight="normal" stroke="#173f17" stroke-width="0.22" >54</text>
<rect x="152.85" y="370.10" width="15.90" height="9.60" fill="#63be54"/>
<text x="160.77" y="377.40" font-size="8.0" text-anchor="middle" fill="#173f17" font-weight="normal" stroke="#173f17" stroke-width="0.22" >110</text>
<rect x="168.70" y="370.10" width="16.15" height="9.60" fill="#db4232"/>
<text x="176.75" y="377.40" font-size="8.0" text-anchor="middle" fill="#5a1a12" font-weight="normal" stroke="#5a1a12" stroke-width="0.22" >404</text>
<rect x="184.80" y="370.10" width="16.15" height="9.60" fill="#db4232"/>
<text x="192.85" y="377.40" font-size="8.0" text-anchor="middle" fill="#5a1a12" font-weight="normal" stroke="#5a1a12" stroke-width="0.22" >299</text>
<rect x="200.90" y="370.10" width="16.15" height="9.60" fill="#db4232"/>
<text x="208.95" y="377.40" font-size="8.0" text-anchor="middle" fill="#5a1a12" font-weight="normal" stroke="#5a1a12" stroke-width="0.22" >361</text>
<rect x="217.00" y="370.10" width="16.15" height="9.60" fill="#db4232"/>
<text x="225.05" y="377.40" font-size="8.0" text-anchor="middle" fill="#5a1a12" font-weight="normal" stroke="#5a1a12" stroke-width="0.22" >153</text>
<rect x="233.10" y="370.10" width="16.15" height="9.60" fill="#db4232"/>
<text x="241.15" y="377.40" font-size="8.0" text-anchor="middle" fill="#5a1a12" font-weight="normal" stroke="#5a1a12" stroke-width="0.22" >331</text>
<rect x="249.20" y="370.10" width="16.55" height="9.60" fill="#f6e4e2"/>
<text x="257.45" y="377.40" font-size="8.0" text-anchor="middle" fill="#222" font-weight="normal" stroke="#222" stroke-width="0.22" >234</text>
<rect x="265.70" y="370.10" width="16.55" height="9.60" fill="#eba39c"/>
<text x="273.95" y="377.40" font-size="8.0" text-anchor="middle" fill="#222" font-weight="normal" stroke="#222" stroke-width="0.22" >527</text>
<rect x="282.20" y="370.10" width="16.14" height="9.60" fill="#e9f3e7"/>
<text x="290.25" y="377.40" font-size="8.0" text-anchor="middle" fill="#222" font-weight="normal" stroke="#222" stroke-width="0.22" >26</text>
<rect x="298.29" y="370.10" width="16.14" height="9.60" fill="#fafafa"/>
<text x="306.34" y="377.40" font-size="8.0" text-anchor="middle" fill="#222" font-weight="normal" stroke="#222" stroke-width="0.22" >97</text>
<rect x="314.38" y="370.10" width="16.14" height="9.60" fill="#fafafa"/>
<text x="322.43" y="377.40" font-size="8.0" text-anchor="middle" fill="#222" font-weight="normal" stroke="#222" stroke-width="0.22" >16</text>
<rect x="330.48" y="370.10" width="16.14" height="9.60" fill="#edaea8"/>
<text x="338.52" y="377.40" font-size="8.0" text-anchor="middle" fill="#222" font-weight="normal" stroke="#222" stroke-width="0.22" >181</text>
<rect x="346.57" y="370.10" width="16.14" height="9.60" fill="#f1c4bf"/>
<text x="354.62" y="377.40" font-size="8.0" text-anchor="middle" fill="#222" font-weight="normal" stroke="#222" stroke-width="0.22" >203</text>
<rect x="362.66" y="370.10" width="16.14" height="9.60" fill="#fafafa"/>
<text x="370.71" y="377.40" font-size="8.0" text-anchor="middle" fill="#222" font-weight="normal" stroke="#222" stroke-width="0.22" >86</text>
<rect x="378.75" y="370.10" width="16.14" height="9.60" fill="#fafafa"/>
<text x="386.80" y="377.40" font-size="8.0" text-anchor="middle" fill="#222" font-weight="normal" stroke="#222" stroke-width="0.22" >240</text>
<rect x="394.85" y="370.10" width="16.14" height="9.60" fill="#e9f3e7"/>
<text x="402.89" y="377.40" font-size="8.0" text-anchor="middle" fill="#222" font-weight="normal" stroke="#222" stroke-width="0.22" >42</text>
<rect x="410.94" y="370.10" width="16.14" height="9.60" fill="#e06255"/>
<text x="418.98" y="377.40" font-size="8.0" text-anchor="middle" fill="#5a1a12" font-weight="normal" stroke="#5a1a12" stroke-width="0.22" >156</text>
<rect x="427.03" y="370.10" width="16.14" height="9.60" fill="#f5dad7"/>
<text x="435.08" y="377.40" font-size="8.0" text-anchor="middle" fill="#222" font-weight="normal" stroke="#222" stroke-width="0.22" >167</text>
<rect x="443.12" y="370.10" width="16.14" height="9.60" fill="#fafafa"/>
<text x="451.17" y="377.40" font-size="8.0" text-anchor="middle" fill="#222" font-weight="normal" stroke="#222" stroke-width="0.22" >56</text>
<rect x="459.22" y="370.10" width="16.14" height="9.60" fill="#e88e84"/>
<text x="467.26" y="377.40" font-size="8.0" text-anchor="middle" fill="#222" font-weight="normal" stroke="#222" stroke-width="0.22" >44</text>
<rect x="475.31" y="370.10" width="16.14" height="9.60" fill="#fafafa"/>
<text x="483.35" y="377.40" font-size="8.0" text-anchor="middle" fill="#222" font-weight="normal" stroke="#222" stroke-width="0.22" >33</text>
<rect x="25.00" y="379.65" width="16.05" height="9.60" fill="#8ecf83"/>
<text x="33.00" y="386.95" font-size="8.0" text-anchor="middle" fill="#173f17" font-weight="normal" stroke="#173f17" stroke-width="0.22" >0</text>
<rect x="41.00" y="379.65" width="16.05" height="9.60" fill="#aedca7"/>
<text x="49.00" y="386.95" font-size="8.0" text-anchor="middle" fill="#222" font-weight="normal" stroke="#222" stroke-width="0.22" >0</text>
<rect x="57.00" y="379.65" width="16.05" height="9.60" fill="#e4f1e2"/>
<text x="65.00" y="386.95" font-size="8.0" text-anchor="middle" fill="#222" font-weight="normal" stroke="#222" stroke-width="0.22" >5</text>
<rect x="73.00" y="379.65" width="16.05" height="9.60" fill="#e0f0de"/>
<text x="81.00" y="386.95" font-size="8.0" text-anchor="middle" fill="#222" font-weight="normal" stroke="#222" stroke-width="0.22" >0</text>
<rect x="89.00" y="379.65" width="16.05" height="9.60" fill="#e4f1e2"/>
<text x="97.00" y="386.95" font-size="8.0" text-anchor="middle" fill="#222" font-weight="normal" stroke="#222" stroke-width="0.22" >0</text>
<rect x="105.00" y="379.65" width="16.05" height="9.60" fill="#e9f3e7"/>
<text x="113.00" y="386.95" font-size="8.0" text-anchor="middle" fill="#222" font-weight="normal" stroke="#222" stroke-width="0.22" >0</text>
<rect x="121.00" y="379.65" width="16.05" height="9.60" fill="#6ec360"/>
<text x="129.00" y="386.95" font-size="8.0" text-anchor="middle" fill="#173f17" font-weight="normal" stroke="#173f17" stroke-width="0.22" >0</text>
<rect x="137.00" y="379.65" width="15.90" height="9.60" fill="#f7e9e7"/>
<text x="144.93" y="386.95" font-size="8.0" text-anchor="middle" fill="#222" font-weight="normal" stroke="#222" stroke-width="0.22" >13</text>
<rect x="152.85" y="379.65" width="15.90" height="9.60" fill="#f5dad7"/>
<text x="160.77" y="386.95" font-size="8.0" text-anchor="middle" fill="#222" font-weight="normal" stroke="#222" stroke-width="0.22" >21</text>
<rect x="168.70" y="379.65" width="16.15" height="9.60" fill="#e9f3e7"/>
<text x="176.75" y="386.95" font-size="8.0" text-anchor="middle" fill="#222" font-weight="normal" stroke="#222" stroke-width="0.22" >11</text>
<rect x="184.80" y="379.65" width="16.15" height="9.60" fill="#b9e0b3"/>
<text x="192.85" y="386.95" font-size="8.0" text-anchor="middle" fill="#222" font-weight="normal" stroke="#222" stroke-width="0.22" >2</text>
<rect x="200.90" y="379.65" width="16.15" height="9.60" fill="#8ecf83"/>
<text x="208.95" y="386.95" font-size="8.0" text-anchor="middle" fill="#173f17" font-weight="normal" stroke="#173f17" stroke-width="0.22" >1</text>
<rect x="217.00" y="379.65" width="16.15" height="9.60" fill="#fafafa"/>
<text x="225.05" y="386.95" font-size="8.0" text-anchor="middle" fill="#222" font-weight="normal" stroke="#222" stroke-width="0.22" >7</text>
<rect x="233.10" y="379.65" width="16.15" height="9.60" fill="#fafafa"/>
<text x="241.15" y="386.95" font-size="8.0" text-anchor="middle" fill="#222" font-weight="normal" stroke="#222" stroke-width="0.22" >16</text>
<rect x="249.20" y="379.65" width="16.55" height="9.60" fill="#db4232"/>
<text x="257.45" y="386.95" font-size="8.0" text-anchor="middle" fill="#5a1a12" font-weight="normal" stroke="#5a1a12" stroke-width="0.22" >84</text>
<rect x="265.70" y="379.65" width="16.55" height="9.60" fill="#db4232"/>
<text x="273.95" y="386.95" font-size="8.0" text-anchor="middle" fill="#5a1a12" font-weight="normal" stroke="#5a1a12" stroke-width="0.22" >114</text>
<rect x="282.20" y="379.65" width="16.14" height="9.60" fill="#fafafa"/>
<text x="290.25" y="386.95" font-size="8.0" text-anchor="middle" fill="#222" font-weight="normal" stroke="#222" stroke-width="0.22" >2</text>
<rect x="298.29" y="379.65" width="16.14" height="9.60" fill="#cfe9cb"/>
<text x="306.34" y="386.95" font-size="8.0" text-anchor="middle" fill="#222" font-weight="normal" stroke="#222" stroke-width="0.22" >0</text>
<rect x="314.38" y="379.65" width="16.14" height="9.60" fill="#fafafa"/>
<text x="322.43" y="386.95" font-size="8.0" text-anchor="middle" fill="#222" font-weight="normal" stroke="#222" stroke-width="0.22" >0</text>
<rect x="330.48" y="379.65" width="16.14" height="9.60" fill="#e9f3e7"/>
<text x="338.52" y="386.95" font-size="8.0" text-anchor="middle" fill="#222" font-weight="normal" stroke="#222" stroke-width="0.22" >0</text>
<rect x="346.57" y="379.65" width="16.14" height="9.60" fill="#e4f1e2"/>
<text x="354.62" y="386.95" font-size="8.0" text-anchor="middle" fill="#222" font-weight="normal" stroke="#222" stroke-width="0.22" >6</text>
<rect x="362.66" y="379.65" width="16.14" height="9.60" fill="#fafafa"/>
<text x="370.71" y="386.95" font-size="8.0" text-anchor="middle" fill="#222" font-weight="normal" stroke="#222" stroke-width="0.22" >7</text>
<rect x="378.75" y="379.65" width="16.14" height="9.60" fill="#63be54"/>
<text x="386.80" y="386.95" font-size="8.0" text-anchor="middle" fill="#173f17" font-weight="normal" stroke="#173f17" stroke-width="0.22" >0</text>
<rect x="394.85" y="379.65" width="16.14" height="9.60" fill="#f5dad7"/>
<text x="402.89" y="386.95" font-size="8.0" text-anchor="middle" fill="#222" font-weight="normal" stroke="#222" stroke-width="0.22" >9</text>
<rect x="410.94" y="379.65" width="16.14" height="9.60" fill="#fafafa"/>
<text x="418.98" y="386.95" font-size="8.0" text-anchor="middle" fill="#222" font-weight="normal" stroke="#222" stroke-width="0.22" >6</text>
<rect x="427.03" y="379.65" width="16.14" height="9.60" fill="#78c76c"/>
<text x="435.08" y="386.95" font-size="8.0" text-anchor="middle" fill="#173f17" font-weight="normal" stroke="#173f17" stroke-width="0.22" >0</text>
<rect x="443.12" y="379.65" width="16.14" height="9.60" fill="#fafafa"/>
<text x="451.17" y="386.95" font-size="8.0" text-anchor="middle" fill="#222" font-weight="normal" stroke="#222" stroke-width="0.22" >2</text>
<rect x="459.22" y="379.65" width="16.14" height="9.60" fill="#fafafa"/>
<text x="467.26" y="386.95" font-size="8.0" text-anchor="middle" fill="#222" font-weight="normal" stroke="#222" stroke-width="0.22" >2</text>
<rect x="475.31" y="379.65" width="16.14" height="9.60" fill="#e9f3e7"/>
<text x="483.35" y="386.95" font-size="8.0" text-anchor="middle" fill="#222" font-weight="normal" stroke="#222" stroke-width="0.22" >0</text>
<line x1="137.00" y1="351.0" x2="137.00" y2="389.20" stroke="#222" stroke-width="0.9"/>
<line x1="168.70" y1="351.0" x2="168.70" y2="389.20" stroke="#222" stroke-width="0.9"/>
<line x1="249.20" y1="351.0" x2="249.20" y2="389.20" stroke="#222" stroke-width="0.9"/>
<line x1="282.20" y1="351.0" x2="282.20" y2="389.20" stroke="#222" stroke-width="0.9"/>
<text transform="translate(34.60,347.80) rotate(-90)" x="0" y="0" font-size="8.0" text-anchor="start" fill="#231f20" stroke="#231f20" stroke-width="0.05">THCA</text>
<text transform="translate(50.60,347.80) rotate(-90)" x="0" y="0" font-size="8.0" text-anchor="start" fill="#231f20" stroke="#231f20" stroke-width="0.05">KIRP</text>
<text transform="translate(66.60,347.80) rotate(-90)" x="0" y="0" font-size="8.0" text-anchor="start" fill="#231f20" stroke="#231f20" stroke-width="0.05">KIRC</text>
<text transform="translate(82.60,347.80) rotate(-90)" x="0" y="0" font-size="8.0" text-anchor="start" fill="#231f20" stroke="#231f20" stroke-width="0.05">PCPG</text>
<text transform="translate(98.60,347.80) rotate(-90)" x="0" y="0" font-size="8.0" text-anchor="start" fill="#231f20" stroke="#231f20" stroke-width="0.05">THYM</text>
<text transform="translate(114.60,347.80) rotate(-90)" x="0" y="0" font-size="8.0" text-anchor="start" fill="#231f20" stroke="#231f20" stroke-width="0.05">KICH</text>
<text transform="translate(130.60,347.80) rotate(-90)" x="0" y="0" font-size="8.0" text-anchor="start" fill="#231f20" stroke="#231f20" stroke-width="0.05">LGG</text>
<text transform="translate(146.53,347.80) rotate(-90)" x="0" y="0" font-size="8.0" text-anchor="start" fill="#231f20" stroke="#231f20" stroke-width="0.05">UCEC</text>
<text transform="translate(162.37,347.80) rotate(-90)" x="0" y="0" font-size="8.0" text-anchor="start" fill="#231f20" stroke="#231f20" stroke-width="0.05">COAD</text>
<text transform="translate(178.35,347.80) rotate(-90)" x="0" y="0" font-size="8.0" text-anchor="start" fill="#231f20" stroke="#231f20" stroke-width="0.05">STES</text>
<text transform="translate(194.45,347.80) rotate(-90)" x="0" y="0" font-size="8.0" text-anchor="start" fill="#231f20" stroke="#231f20" stroke-width="0.05">BLCA</text>
<text transform="translate(210.55,347.80) rotate(-90)" x="0" y="0" font-size="8.0" text-anchor="start" fill="#231f20" stroke="#231f20" stroke-width="0.05">HNSC</text>
<text transform="translate(226.65,347.80) rotate(-90)" x="0" y="0" font-size="8.0" text-anchor="start" fill="#231f20" stroke="#231f20" stroke-width="0.05">LUSC</text>
<text transform="translate(242.75,347.80) rotate(-90)" x="0" y="0" font-size="8.0" text-anchor="start" fill="#231f20" stroke="#231f20" stroke-width="0.05">LUSD</text>
<text transform="translate(259.05,347.80) rotate(-90)" x="0" y="0" font-size="8.0" text-anchor="start" fill="#231f20" stroke="#231f20" stroke-width="0.05">OV</text>
<text transform="translate(275.55,347.80) rotate(-90)" x="0" y="0" font-size="8.0" text-anchor="start" fill="#231f20" stroke="#231f20" stroke-width="0.05">BRCA</text>
<text transform="translate(291.85,347.80) rotate(-90)" x="0" y="0" font-size="8.0" text-anchor="start" fill="#231f20" stroke="#231f20" stroke-width="0.05">ACC</text>
<text transform="translate(307.94,347.80) rotate(-90)" x="0" y="0" font-size="8.0" text-anchor="start" fill="#231f20" stroke="#231f20" stroke-width="0.05">CESC</text>
<text transform="translate(324.03,347.80) rotate(-90)" x="0" y="0" font-size="8.0" text-anchor="start" fill="#231f20" stroke="#231f20" stroke-width="0.05">CHOL</text>
<text transform="translate(340.12,347.80) rotate(-90)" x="0" y="0" font-size="8.0" text-anchor="start" fill="#231f20" stroke="#231f20" stroke-width="0.05">GBM</text>
<text transform="translate(356.22,347.80) rotate(-90)" x="0" y="0" font-size="8.0" text-anchor="start" fill="#231f20" stroke="#231f20" stroke-width="0.05">LIHC</text>
<text transform="translate(372.31,347.80) rotate(-90)" x="0" y="0" font-size="8.0" text-anchor="start" fill="#231f20" stroke="#231f20" stroke-width="0.05">PAAD</text>
<text transform="translate(388.40,347.80) rotate(-90)" x="0" y="0" font-size="8.0" text-anchor="start" fill="#231f20" stroke="#231f20" stroke-width="0.05">PRAD</text>
<text transform="translate(404.49,347.80) rotate(-90)" x="0" y="0" font-size="8.0" text-anchor="start" fill="#231f20" stroke="#231f20" stroke-width="0.05">READ</text>
<text transform="translate(420.58,347.80) rotate(-90)" x="0" y="0" font-size="8.0" text-anchor="start" fill="#231f20" stroke="#231f20" stroke-width="0.05">SARC</text>
<text transform="translate(436.68,347.80) rotate(-90)" x="0" y="0" font-size="8.0" text-anchor="start" fill="#231f20" stroke="#231f20" stroke-width="0.05">SKCM</text>
<text transform="translate(452.77,347.80) rotate(-90)" x="0" y="0" font-size="8.0" text-anchor="start" fill="#231f20" stroke="#231f20" stroke-width="0.05">TGCT</text>
<text transform="translate(468.86,347.80) rotate(-90)" x="0" y="0" font-size="8.0" text-anchor="start" fill="#231f20" stroke="#231f20" stroke-width="0.05">UCS</text>
<text transform="translate(484.95,347.80) rotate(-90)" x="0" y="0" font-size="8.0" text-anchor="start" fill="#231f20" stroke="#231f20" stroke-width="0.05">UVM</text>
<text x="22.40" y="358.00" font-size="7.7" text-anchor="end" fill="#231f20" font-weight="normal" stroke="#231f20" stroke-width="0.22" >GC1</text>
<text x="22.40" y="367.55" font-size="7.7" text-anchor="end" fill="#231f20" font-weight="normal" stroke="#231f20" stroke-width="0.22" >GC2</text>
<text x="22.40" y="377.10" font-size="7.7" text-anchor="end" fill="#231f20" font-weight="normal" stroke="#231f20" stroke-width="0.22" >GC3</text>
<text x="22.40" y="386.65" font-size="7.7" text-anchor="end" fill="#231f20" font-weight="normal" stroke="#231f20" stroke-width="0.22" >GC4</text>
<text x="80.60" y="397.90" font-size="7.7" text-anchor="middle" fill="#231f20" font-weight="normal" stroke="#231f20" stroke-width="0.05" >GC1</text>
<text x="80.60" y="405.90" font-size="7.7" text-anchor="middle" fill="#231f20" font-weight="normal" stroke="#231f20" stroke-width="0.05" >over</text>
<text x="80.60" y="413.20" font-size="7.7" text-anchor="middle" fill="#231f20" font-weight="normal" stroke="#231f20" stroke-width="0.05" >represented</text>
<text x="153.70" y="397.90" font-size="7.7" text-anchor="middle" fill="#231f20" font-weight="normal" stroke="#231f20" stroke-width="0.05" >GC2</text>
<text x="153.70" y="405.90" font-size="7.7" text-anchor="middle" fill="#231f20" font-weight="normal" stroke="#231f20" stroke-width="0.05" >over</text>
<text x="153.70" y="413.20" font-size="7.7" text-anchor="middle" fill="#231f20" font-weight="normal" stroke="#231f20" stroke-width="0.05" >represented</text>
<text x="207.60" y="397.90" font-size="7.7" text-anchor="middle" fill="#231f20" font-weight="normal" stroke="#231f20" stroke-width="0.05" >GC3</text>
<text x="207.60" y="405.90" font-size="7.7" text-anchor="middle" fill="#231f20" font-weight="normal" stroke="#231f20" stroke-width="0.05" >over</text>
<text x="207.60" y="413.20" font-size="7.7" text-anchor="middle" fill="#231f20" font-weight="normal" stroke="#231f20" stroke-width="0.05" >represented</text>
<text x="266.20" y="397.90" font-size="7.7" text-anchor="middle" fill="#231f20" font-weight="normal" stroke="#231f20" stroke-width="0.05" >GC4</text>
<text x="266.20" y="405.90" font-size="7.7" text-anchor="middle" fill="#231f20" font-weight="normal" stroke="#231f20" stroke-width="0.05" >over</text>
<text x="266.20" y="413.20" font-size="7.7" text-anchor="middle" fill="#231f20" font-weight="normal" stroke="#231f20" stroke-width="0.05" >represented</text>
<defs><linearGradient id="lg" x1="0" x2="1" y1="0" y2="0"><stop offset="0" stop-color="#4eae4e"/><stop offset="0.5" stop-color="#fafafa"/><stop offset="1" stop-color="#d83a2e"/></linearGradient></defs>
<rect x="461.9" y="408.3" width="25.4" height="11.5" fill="url(#lg)" stroke="#666" stroke-width="0.4"/>
<text x="446.30" y="404.50" font-size="8.0" text-anchor="start" fill="#231f20" font-weight="normal" stroke="#231f20" stroke-width="0.22" >log<tspan font-size="5.4" dy="2">10</tspan><tspan dy="-2"> (<tspan font-style="italic">P</tspan> value)</tspan></text>
<text x="460.60" y="427.30" font-size="7.9" text-anchor="middle" fill="#231f20" font-weight="normal" stroke="#231f20" stroke-width="0.22" >−10</text>
<text x="487.00" y="427.30" font-size="7.9" text-anchor="middle" fill="#231f20" font-weight="normal" stroke="#231f20" stroke-width="0.22" >10</text>
</svg></body></html>
